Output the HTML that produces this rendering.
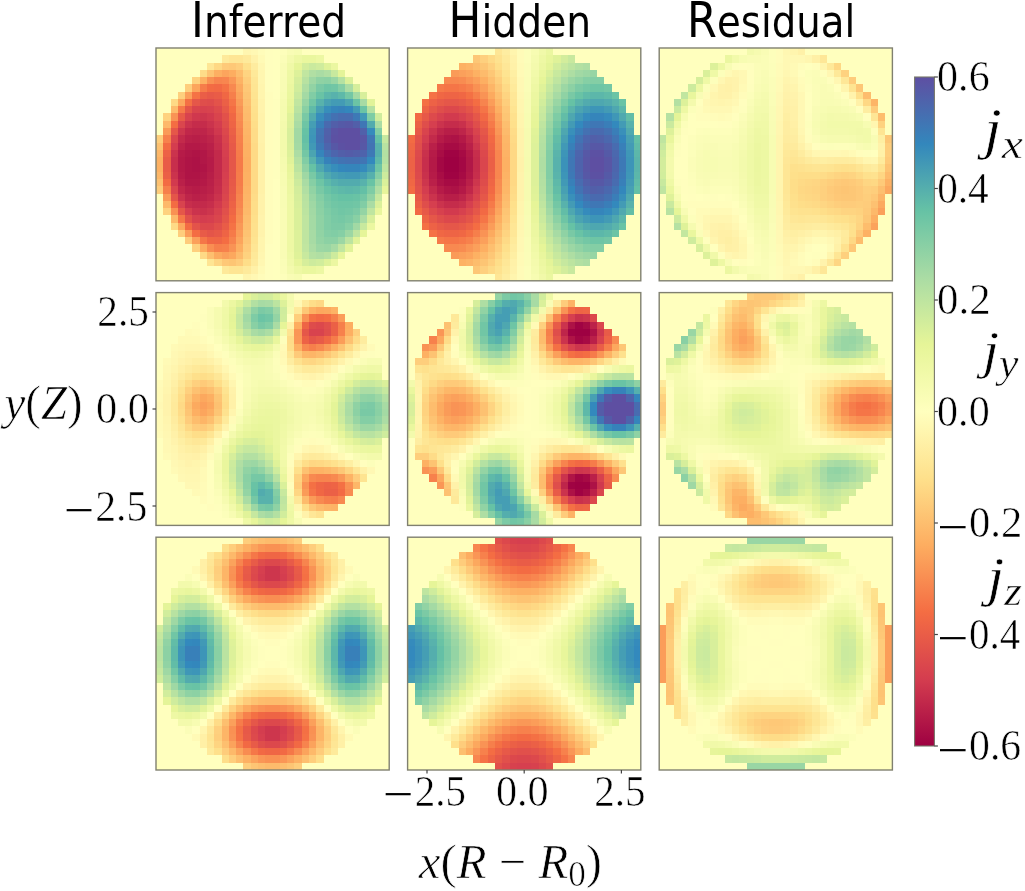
<!DOCTYPE html>
<html><head><meta charset="utf-8"><style>html,body{margin:0;padding:0;background:#fff;overflow:hidden}svg{display:block}#w{filter:blur(0.7px)}</style></head>
<body><div id="w"><svg width="1025" height="891" viewBox="0 0 1025 891">
<rect width="1025" height="891" fill="#fff"/>
<svg x="156.0" y="48.0" width="233.2" height="232.8" viewBox="0 0 32 32" preserveAspectRatio="none" shape-rendering="crispEdges"><rect width="32" height="32" fill="#ffffbe"/><path fill="#fff6b0" d="M12 0h1v1h-1zM14 3h1v1h-1zM14 4h1v1h-1zM14 28h1v1h-1z"/><path fill="#fff8b4" d="M13 0h1v1h-1zM13 31h1v1h-1z"/><path fill="#fffcba" d="M14 0h1v1h-1zM14 31h1v1h-1z"/><path fill="#fffebe" d="M15 0h1v1h-1zM15 1h1v1h-1zM15 2h1v1h-1zM15 3h1v1h-1zM15 4h1v1h-1zM15 5h1v1h-1zM15 27h1v1h-1zM15 28h1v1h-1zM15 29h1v1h-1zM15 30h1v1h-1zM15 31h1v1h-1z"/><path fill="#fdfebb" d="M17 0h1v1h-1zM17 31h1v1h-1z"/><path fill="#f9fcb5" d="M18 0h1v1h-1zM17 2h1v1h-1zM17 3h1v1h-1zM17 22h1v1h-1zM17 23h1v1h-1zM17 24h1v1h-1zM17 25h1v1h-1zM17 26h1v1h-1zM17 27h1v1h-1zM17 28h1v1h-1zM18 31h1v1h-1z"/><path fill="#f7fcb2" d="M19 0h1v1h-1zM17 6h1v1h-1zM17 17h1v1h-1zM17 18h1v1h-1zM19 31h1v1h-1z"/><path fill="#feea9b" d="M9 1h1v1h-1zM12 1h1v1h-1zM12 30h1v1h-1z"/><path fill="#fee695" d="M10 1h2v1h-2zM7 2h1v1h-1zM13 4h1v1h-1zM13 27h1v1h-1z"/><path fill="#fff2aa" d="M13 1h1v1h-1zM14 9h1v1h-1zM14 10h1v1h-1zM14 11h1v1h-1zM14 12h1v1h-1zM14 20h1v1h-1zM14 21h1v1h-1zM14 22h1v1h-1z"/><path fill="#fffab6" d="M14 1h1v1h-1zM14 30h1v1h-1z"/><path fill="#fbfdb8" d="M17 1h1v1h-1zM17 30h1v1h-1z"/><path fill="#f4faad" d="M18 1h1v1h-1zM17 10h1v1h-1zM17 14h1v1h-1zM18 30h1v1h-1z"/><path fill="#eef8a4" d="M19 1h1v1h-1zM18 3h1v1h-1zM18 21h1v1h-1zM18 22h1v1h-1zM18 23h1v1h-1zM18 24h1v1h-1zM18 25h1v1h-1zM18 26h1v1h-1zM18 27h1v1h-1zM19 30h1v1h-1z"/><path fill="#eaf79e" d="M20 1h2v1h-2zM18 6h1v1h-1zM20 30h2v1h-2z"/><path fill="#edf8a3" d="M22 1h1v1h-1zM18 4h1v1h-1zM18 20h1v1h-1zM22 30h1v1h-1z"/><path fill="#fed884" d="M8 2h1v1h-1z"/><path fill="#feca79" d="M9 2h1v1h-1z"/><path fill="#fec877" d="M10 2h1v1h-1zM12 5h1v1h-1zM9 29h1v1h-1z"/><path fill="#fece7c" d="M11 2h1v1h-1zM12 4h1v1h-1zM4 5h1v1h-1zM0 12h1v1h-1zM3 25h1v1h-1z"/><path fill="#fee08b" d="M12 2h1v1h-1zM13 9h1v1h-1zM13 23h1v1h-1z"/><path fill="#feec9f" d="M13 2h1v1h-1z"/><path fill="#fff7b2" d="M14 2h1v1h-1zM14 29h1v1h-1z"/><path fill="#f0f9a7" d="M18 2h1v1h-1z"/><path fill="#e6f598" d="M19 2h1v1h-1zM18 8h1v1h-1zM28 25h1v1h-1z"/><path fill="#d3ed9c" d="M20 2h1v1h-1zM19 19h1v1h-1z"/><path fill="#caea9e" d="M21 2h1v1h-1zM19 6h1v1h-1z"/><path fill="#cfec9d" d="M22 2h1v1h-1zM30 9h1v1h-1z"/><path fill="#dff299" d="M23 2h1v1h-1zM18 9h1v1h-1zM19 28h1v1h-1zM23 29h1v1h-1z"/><path fill="#ebf7a0" d="M24 2h1v1h-1zM18 5h1v1h-1zM18 18h1v1h-1zM29 24h1v1h-1z"/><path fill="#fedc88" d="M6 3h1v1h-1zM13 11h1v1h-1zM13 12h1v1h-1zM13 20h1v1h-1z"/><path fill="#fdc372" d="M7 3h1v1h-1zM12 25h1v1h-1z"/><path fill="#fdaf62" d="M8 3h1v1h-1zM12 15h1v1h-1zM12 16h1v1h-1zM11 27h1v1h-1z"/><path fill="#fca55d" d="M9 3h1v1h-1zM5 5h1v1h-1zM11 26h1v1h-1z"/><path fill="#fdad60" d="M10 3h1v1h-1zM6 27h1v1h-1z"/><path fill="#fdbd6d" d="M11 3h1v1h-1zM12 8h1v1h-1zM12 23h1v1h-1z"/><path fill="#fed481" d="M12 3h1v1h-1z"/><path fill="#fee999" d="M13 3h1v1h-1zM13 28h1v1h-1zM9 30h1v1h-1z"/><path fill="#ddf19a" d="M19 3h1v1h-1zM18 10h1v1h-1zM18 14h1v1h-1zM19 25h1v1h-1zM19 26h1v1h-1zM19 27h1v1h-1z"/><path fill="#c1e6a0" d="M20 3h1v1h-1zM19 7h1v1h-1zM20 27h1v1h-1zM25 27h1v1h-1z"/><path fill="#b1dfa3" d="M21 3h1v1h-1zM23 3h1v1h-1zM19 9h1v1h-1zM20 19h1v1h-1zM30 19h1v1h-1zM22 28h1v1h-1z"/><path fill="#aadca4" d="M22 3h1v1h-1zM26 5h1v1h-1zM19 10h1v1h-1zM30 10h1v1h-1zM20 18h1v1h-1zM29 21h1v1h-1z"/><path fill="#c8e99e" d="M24 3h1v1h-1zM28 24h1v1h-1zM20 28h1v1h-1z"/><path fill="#e4f498" d="M25 3h1v1h-1z"/><path fill="#fed27f" d="M5 4h1v1h-1zM1 9h1v1h-1zM1 22h1v1h-1zM12 28h1v1h-1z"/><path fill="#fdb163" d="M6 4h1v1h-1zM12 13h1v1h-1zM12 14h1v1h-1zM0 15h1v1h-1zM0 16h1v1h-1zM12 17h1v1h-1zM12 18h1v1h-1z"/><path fill="#f99153" d="M7 4h1v1h-1zM2 22h1v1h-1zM11 23h1v1h-1z"/><path fill="#f7844e" d="M8 4h1v1h-1zM11 11h1v1h-1zM11 20h1v1h-1zM10 26h1v1h-1z"/><path fill="#f8864f" d="M9 4h1v1h-1zM11 21h1v1h-1z"/><path fill="#fa9857" d="M10 4h1v1h-1zM11 24h1v1h-1z"/><path fill="#fdb365" d="M11 4h1v1h-1zM12 12h1v1h-1zM12 19h1v1h-1z"/><path fill="#f8fcb4" d="M17 4h1v1h-1zM17 5h1v1h-1zM17 19h1v1h-1zM17 20h1v1h-1zM17 21h1v1h-1z"/><path fill="#d6ee9b" d="M19 4h1v1h-1zM27 5h1v1h-1zM19 20h1v1h-1zM20 29h1v1h-1z"/><path fill="#b8e2a1" d="M20 4h1v1h-1zM31 13h1v1h-1zM20 20h1v1h-1zM23 28h1v1h-1z"/><path fill="#9fd8a4" d="M21 4h1v1h-1zM20 17h1v1h-1zM21 21h1v1h-1z"/><path fill="#8fd2a4" d="M22 4h1v1h-1zM20 16h1v1h-1zM22 23h1v1h-1zM22 24h1v1h-1z"/><path fill="#8cd1a4" d="M23 4h1v1h-1zM22 22h1v1h-1zM23 26h2v1h-2z"/><path fill="#99d6a4" d="M24 4h1v1h-1zM21 20h1v1h-1zM23 27h1v1h-1z"/><path fill="#b5e1a2" d="M25 4h1v1h-1zM29 8h1v1h-1zM19 15h1v1h-1zM31 15h1v1h-1zM21 28h1v1h-1z"/><path fill="#daf09a" d="M26 4h1v1h-1zM18 13h1v1h-1zM31 18h1v1h-1zM30 21h1v1h-1zM19 22h1v1h-1zM19 23h1v1h-1zM19 24h1v1h-1z"/><path fill="#f67c4a" d="M6 5h1v1h-1zM11 14h1v1h-1zM11 17h1v1h-1zM11 18h1v1h-1z"/><path fill="#f36b43" d="M7 5h1v1h-1zM1 13h1v1h-1zM1 18h1v1h-1zM2 21h1v1h-1zM10 23h1v1h-1zM4 24h1v1h-1z"/><path fill="#f26944" d="M8 5h1v1h-1z"/><path fill="#f57245" d="M9 5h1v1h-1zM5 6h1v1h-1zM10 24h1v1h-1z"/><path fill="#f88950" d="M10 5h1v1h-1zM11 10h1v1h-1z"/><path fill="#fcaa5f" d="M11 5h1v1h-1zM3 7h1v1h-1zM8 28h1v1h-1z"/><path fill="#fee593" d="M13 5h1v1h-1zM7 29h1v1h-1zM10 30h2v1h-2z"/><path fill="#fff5ae" d="M14 5h1v1h-1zM14 6h1v1h-1zM14 26h1v1h-1zM14 27h1v1h-1zM12 31h1v1h-1z"/><path fill="#d1ed9c" d="M19 5h1v1h-1zM22 29h1v1h-1z"/><path fill="#aedea3" d="M20 5h1v1h-1z"/><path fill="#91d3a4" d="M21 5h1v1h-1zM21 19h1v1h-1zM29 20h1v1h-1zM22 25h1v1h-1z"/><path fill="#79c9a5" d="M22 5h1v1h-1zM20 9h1v1h-1zM21 17h1v1h-1zM22 19h1v1h-1zM23 21h1v1h-1zM24 23h1v1h-1z"/><path fill="#6ec5a5" d="M23 5h1v1h-1zM20 10h1v1h-1zM30 16h1v1h-1zM22 18h1v1h-1zM25 21h2v1h-2z"/><path fill="#71c6a5" d="M24 5h1v1h-1zM21 7h1v1h-1zM24 21h1v1h-1zM27 21h1v1h-1zM25 22h1v1h-1z"/><path fill="#84cea5" d="M25 5h1v1h-1zM30 17h1v1h-1zM22 20h1v1h-1zM23 25h1v1h-1z"/><path fill="#fed07e" d="M3 6h1v1h-1zM5 27h1v1h-1z"/><path fill="#fba05b" d="M4 6h1v1h-1zM5 26h1v1h-1zM9 28h1v1h-1z"/><path fill="#ea5e47" d="M6 6h1v1h-1zM10 20h1v1h-1z"/><path fill="#e75948" d="M7 6h1v1h-1zM9 8h1v1h-1zM10 13h1v1h-1zM10 18h1v1h-1zM8 25h1v1h-1z"/><path fill="#e95c47" d="M8 6h1v1h-1zM10 12h1v1h-1zM1 15h1v1h-1zM1 16h1v1h-1zM9 24h1v1h-1z"/><path fill="#f06744" d="M9 6h1v1h-1zM10 9h1v1h-1zM7 26h1v1h-1z"/><path fill="#f67f4b" d="M10 6h1v1h-1zM11 13h1v1h-1zM1 19h1v1h-1zM11 19h1v1h-1zM8 27h1v1h-1z"/><path fill="#fba35c" d="M11 6h1v1h-1z"/><path fill="#fdc574" d="M12 6h1v1h-1zM10 29h1v1h-1z"/><path fill="#fee491" d="M13 6h1v1h-1zM13 26h1v1h-1z"/><path fill="#fffdbc" d="M15 6h1v1h-1zM15 7h1v1h-1zM15 8h1v1h-1zM15 9h1v1h-1zM15 10h1v1h-1zM15 11h1v1h-1zM15 12h1v1h-1zM15 13h1v1h-1zM15 14h1v1h-1zM15 15h1v1h-1zM15 16h1v1h-1zM15 17h1v1h-1zM15 18h1v1h-1zM15 19h1v1h-1zM15 20h1v1h-1zM15 21h1v1h-1zM15 22h1v1h-1zM15 23h1v1h-1zM15 24h1v1h-1zM15 25h1v1h-1zM15 26h1v1h-1z"/><path fill="#a4daa4" d="M20 6h1v1h-1zM27 6h1v1h-1zM19 13h1v1h-1zM21 23h1v1h-1zM21 24h1v1h-1z"/><path fill="#81cda5" d="M21 6h1v1h-1zM30 11h1v1h-1zM20 15h1v1h-1zM28 21h1v1h-1zM23 23h1v1h-1zM23 24h1v1h-1zM24 25h1v1h-1z"/><path fill="#69c3a5" d="M22 6h1v1h-1zM20 13h1v1h-1zM29 18h1v1h-1zM23 19h1v1h-1zM27 20h1v1h-1z"/><path fill="#5cb7aa" d="M23 6h1v1h-1zM26 19h1v1h-1z"/><path fill="#58b2ac" d="M24 6h1v1h-1zM22 7h1v1h-1zM30 13h1v1h-1zM21 15h1v1h-1zM28 18h1v1h-1z"/><path fill="#5eb9a9" d="M25 6h1v1h-1zM30 15h1v1h-1zM22 17h1v1h-1zM23 18h1v1h-1zM25 19h1v1h-1zM27 19h1v1h-1z"/><path fill="#74c7a5" d="M26 6h1v1h-1zM20 14h1v1h-1zM23 20h1v1h-1zM28 20h1v1h-1zM26 22h1v1h-1z"/><path fill="#d8ef9b" d="M28 6h1v1h-1zM18 11h1v1h-1zM18 12h1v1h-1zM19 21h1v1h-1zM29 23h1v1h-1z"/><path fill="#feda86" d="M2 7h1v1h-1zM13 13h1v1h-1zM13 14h1v1h-1zM13 15h1v1h-1zM13 16h1v1h-1zM13 17h1v1h-1zM13 18h1v1h-1zM13 19h1v1h-1zM2 24h1v1h-1zM6 28h1v1h-1z"/><path fill="#f47044" d="M4 7h1v1h-1z"/><path fill="#e55749" d="M5 7h1v1h-1zM2 11h1v1h-1zM10 14h1v1h-1zM10 15h1v1h-1zM10 16h1v1h-1zM10 17h1v1h-1zM3 22h1v1h-1z"/><path fill="#df4e4b" d="M6 7h1v1h-1zM9 10h1v1h-1z"/><path fill="#de4c4b" d="M7 7h1v1h-1z"/><path fill="#e3534a" d="M8 7h1v1h-1zM5 24h1v1h-1z"/><path fill="#eb6046" d="M9 7h1v1h-1zM10 11h1v1h-1zM1 17h1v1h-1z"/><path fill="#f57547" d="M10 7h1v1h-1z"/><path fill="#fa9b58" d="M11 7h1v1h-1zM1 11h1v1h-1zM1 20h1v1h-1z"/><path fill="#fdc171" d="M12 7h1v1h-1zM0 13h1v1h-1zM0 18h1v1h-1z"/><path fill="#fee28f" d="M13 7h1v1h-1zM13 25h1v1h-1z"/><path fill="#fff3ac" d="M14 7h1v1h-1zM14 8h1v1h-1zM14 23h1v1h-1zM14 24h1v1h-1zM14 25h1v1h-1z"/><path fill="#fefebd" d="M16 7h1v1h-1zM16 8h1v1h-1zM16 9h1v1h-1zM16 10h1v1h-1zM16 11h1v1h-1zM16 12h1v1h-1zM16 13h1v1h-1zM16 14h1v1h-1zM16 15h1v1h-1zM16 16h1v1h-1zM16 17h1v1h-1z"/><path fill="#f6fbb0" d="M17 7h1v1h-1zM17 16h1v1h-1z"/><path fill="#e8f69b" d="M18 7h1v1h-1z"/><path fill="#97d5a4" d="M20 7h1v1h-1z"/><path fill="#49a2b2" d="M23 7h1v1h-1z"/><path fill="#439bb5" d="M24 7h2v1h-2zM27 8h1v1h-1zM29 16h1v1h-1zM25 17h1v1h-1z"/><path fill="#4ea7b0" d="M26 7h1v1h-1z"/><path fill="#6bc4a5" d="M27 7h1v1h-1zM28 8h1v1h-1zM24 20h1v1h-1z"/><path fill="#a7dba4" d="M28 7h1v1h-1zM21 25h1v1h-1zM21 26h1v1h-1zM24 27h1v1h-1z"/><path fill="#e1f399" d="M29 7h1v1h-1zM18 15h1v1h-1zM27 26h1v1h-1zM26 27h1v1h-1z"/><path fill="#fdbb6c" d="M2 8h1v1h-1zM12 9h1v1h-1zM11 28h1v1h-1z"/><path fill="#f67a49" d="M3 8h1v1h-1zM11 15h1v1h-1zM11 16h1v1h-1zM10 25h1v1h-1z"/><path fill="#e45549" d="M4 8h1v1h-1zM2 20h1v1h-1zM9 23h1v1h-1zM7 25h1v1h-1z"/><path fill="#d9444d" d="M5 8h1v1h-1zM8 9h1v1h-1zM9 12h1v1h-1z"/><path fill="#d7414e" d="M6 8h1v1h-1zM9 13h1v1h-1zM9 18h1v1h-1zM8 22h1v1h-1zM5 23h1v1h-1z"/><path fill="#d8434e" d="M7 8h1v1h-1zM4 9h1v1h-1zM9 19h1v1h-1zM3 21h1v1h-1z"/><path fill="#dd4a4c" d="M8 8h1v1h-1zM9 21h1v1h-1z"/><path fill="#f46d43" d="M10 8h1v1h-1zM2 10h1v1h-1zM5 25h1v1h-1zM9 26h1v1h-1z"/><path fill="#f99355" d="M11 8h1v1h-1zM2 9h1v1h-1zM10 27h1v1h-1z"/><path fill="#fee18d" d="M13 8h1v1h-1zM13 24h1v1h-1z"/><path fill="#f5fbaf" d="M17 8h1v1h-1zM17 9h1v1h-1zM17 15h1v1h-1z"/><path fill="#bae3a1" d="M19 8h1v1h-1zM20 21h1v1h-1z"/><path fill="#89d0a4" d="M20 8h1v1h-1zM22 21h1v1h-1zM27 23h1v1h-1z"/><path fill="#60bba8" d="M21 8h1v1h-1z"/><path fill="#47a0b3" d="M22 8h1v1h-1zM24 17h1v1h-1zM28 17h1v1h-1z"/><path fill="#378ebb" d="M23 8h1v1h-1zM22 9h1v1h-1zM24 16h1v1h-1z"/><path fill="#3585bb" d="M24 8h1v1h-1zM22 14h1v1h-1zM26 16h2v1h-2z"/><path fill="#3682ba" d="M25 8h1v1h-1zM23 15h1v1h-1z"/><path fill="#3387bc" d="M26 8h1v1h-1zM25 16h1v1h-1z"/><path fill="#e85b48" d="M3 9h1v1h-1zM10 19h1v1h-1zM6 25h1v1h-1z"/><path fill="#d0384e" d="M5 9h1v1h-1zM8 11h1v1h-1z"/><path fill="#cd364d" d="M6 9h1v1h-1zM3 11h1v1h-1zM7 22h1v1h-1z"/><path fill="#d23a4e" d="M7 9h1v1h-1zM2 18h1v1h-1zM8 21h1v1h-1z"/><path fill="#e2514a" d="M9 9h1v1h-1zM4 23h1v1h-1z"/><path fill="#f98e52" d="M11 9h1v1h-1zM7 27h1v1h-1z"/><path fill="#52abae" d="M21 9h1v1h-1zM29 10h1v1h-1zM25 18h3v1h-3z"/><path fill="#3b7cb7" d="M23 9h1v1h-1z"/><path fill="#4471b2" d="M24 9h1v1h-1zM23 14h1v1h-1zM26 15h2v1h-2z"/><path fill="#486cb0" d="M25 9h2v1h-2z"/><path fill="#3d79b6" d="M27 9h1v1h-1zM22 13h1v1h-1zM29 14h1v1h-1zM24 15h1v1h-1z"/><path fill="#4199b6" d="M28 9h1v1h-1zM21 13h1v1h-1zM26 17h2v1h-2z"/><path fill="#7ecca5" d="M29 9h1v1h-1zM29 19h1v1h-1zM23 22h1v1h-1z"/><path fill="#fdb96a" d="M1 10h1v1h-1zM1 21h1v1h-1zM12 22h1v1h-1zM2 23h1v1h-1z"/><path fill="#da464d" d="M3 10h1v1h-1zM2 12h1v1h-1zM2 19h1v1h-1zM9 20h1v1h-1zM8 23h1v1h-1z"/><path fill="#cb334d" d="M4 10h1v1h-1zM7 10h1v1h-1zM2 14h1v1h-1zM2 17h1v1h-1zM3 20h1v1h-1zM8 20h1v1h-1zM5 22h1v1h-1z"/><path fill="#c52c4b" d="M5 10h2v1h-2zM7 11h1v1h-1zM8 18h1v1h-1z"/><path fill="#d43d4f" d="M8 10h1v1h-1zM2 13h1v1h-1zM9 15h1v1h-1zM9 16h1v1h-1zM6 23h1v1h-1z"/><path fill="#ee6445" d="M10 10h1v1h-1zM9 25h1v1h-1z"/><path fill="#fdb768" d="M12 10h1v1h-1zM0 14h1v1h-1zM0 17h1v1h-1zM12 21h1v1h-1z"/><path fill="#fede89" d="M13 10h1v1h-1zM13 21h1v1h-1zM13 22h1v1h-1zM12 29h1v1h-1z"/><path fill="#459eb4" d="M21 10h1v1h-1z"/><path fill="#3880b9" d="M22 10h1v1h-1z"/><path fill="#496aaf" d="M23 10h1v1h-1z"/><path fill="#525fa9" d="M24 10h1v1h-1zM27 10h1v1h-1zM23 12h1v1h-1zM25 14h1v1h-1zM27 14h1v1h-1z"/><path fill="#555aa7" d="M25 10h1v1h-1z"/><path fill="#5758a6" d="M26 10h1v1h-1zM24 13h1v1h-1zM28 13h1v1h-1z"/><path fill="#3f77b5" d="M28 10h1v1h-1zM29 12h1v1h-1z"/><path fill="#c1274a" d="M4 11h1v1h-1zM3 19h1v1h-1zM7 20h1v1h-1z"/><path fill="#be254a" d="M5 11h2v1h-2zM7 12h1v1h-1zM4 20h1v1h-1z"/><path fill="#dc484c" d="M9 11h1v1h-1zM6 24h2v1h-2z"/><path fill="#fdb567" d="M12 11h1v1h-1zM12 20h1v1h-1z"/><path fill="#f3faac" d="M17 11h1v1h-1zM17 12h1v1h-1zM17 13h1v1h-1z"/><path fill="#a2d9a4" d="M19 11h1v1h-1zM19 12h1v1h-1zM21 22h1v1h-1zM27 24h1v1h-1z"/><path fill="#66c2a5" d="M20 11h1v1h-1zM21 16h1v1h-1zM25 20h2v1h-2z"/><path fill="#3f97b7" d="M21 11h1v1h-1zM22 15h1v1h-1zM23 16h1v1h-1z"/><path fill="#4175b4" d="M22 11h1v1h-1zM28 15h1v1h-1z"/><path fill="#5061aa" d="M23 11h1v1h-1zM28 11h1v1h-1z"/><path fill="#5b53a4" d="M24 11h1v1h-1z"/><path fill="#5e4fa2" d="M25 11h3v1h-3zM25 12h3v1h-3zM26 13h2v1h-2z"/><path fill="#358bbc" d="M29 11h1v1h-1zM28 16h1v1h-1z"/><path fill="#f7814c" d="M1 12h1v1h-1zM11 12h1v1h-1zM9 27h1v1h-1z"/><path fill="#c32a4b" d="M3 12h1v1h-1zM8 14h1v1h-1zM8 15h1v1h-1zM8 16h1v1h-1zM8 17h1v1h-1zM5 21h2v1h-2z"/><path fill="#ba2049" d="M4 12h1v1h-1zM6 12h1v1h-1zM7 13h1v1h-1zM3 18h1v1h-1zM7 18h1v1h-1zM5 20h1v1h-1z"/><path fill="#b81e48" d="M5 12h1v1h-1zM7 14h1v1h-1zM7 17h1v1h-1zM4 19h1v1h-1zM6 19h1v1h-1z"/><path fill="#c9314c" d="M8 12h1v1h-1zM6 22h1v1h-1z"/><path fill="#64c0a6" d="M20 12h1v1h-1zM30 12h1v1h-1zM28 19h1v1h-1z"/><path fill="#3d95b8" d="M21 12h1v1h-1z"/><path fill="#4273b3" d="M22 12h1v1h-1zM29 13h1v1h-1zM25 15h1v1h-1z"/><path fill="#5c51a3" d="M24 12h1v1h-1zM25 13h1v1h-1z"/><path fill="#5956a5" d="M28 12h1v1h-1z"/><path fill="#c6e89f" d="M31 12h1v1h-1zM19 17h1v1h-1zM30 20h1v1h-1z"/><path fill="#bc2249" d="M3 13h1v1h-1zM7 19h1v1h-1zM6 20h1v1h-1z"/><path fill="#b41947" d="M4 13h2v1h-2zM3 15h1v1h-1zM3 16h1v1h-1zM6 18h1v1h-1z"/><path fill="#b61b48" d="M6 13h1v1h-1zM3 14h1v1h-1zM7 15h1v1h-1zM7 16h1v1h-1zM3 17h1v1h-1zM5 19h1v1h-1z"/><path fill="#c72e4c" d="M8 13h1v1h-1zM2 15h1v1h-1zM2 16h1v1h-1zM8 19h1v1h-1zM4 21h1v1h-1zM7 21h1v1h-1z"/><path fill="#fff1a8" d="M14 13h1v1h-1zM14 14h1v1h-1zM14 15h1v1h-1zM14 16h1v1h-1zM14 17h1v1h-1zM14 18h1v1h-1zM14 19h1v1h-1zM13 30h1v1h-1z"/><path fill="#4d65ad" d="M23 13h1v1h-1zM24 14h1v1h-1z"/><path fill="#ed6246" d="M1 14h1v1h-1zM10 21h1v1h-1z"/><path fill="#b11747" d="M4 14h1v1h-1zM6 14h1v1h-1zM6 15h1v1h-1zM6 17h1v1h-1zM4 18h2v1h-2z"/><path fill="#af1446" d="M5 14h1v1h-1zM4 15h1v1h-1zM4 16h1v1h-1zM6 16h1v1h-1zM4 17h2v1h-2z"/><path fill="#d63f4f" d="M9 14h1v1h-1zM9 17h1v1h-1zM4 22h1v1h-1zM7 23h1v1h-1z"/><path fill="#acdda4" d="M19 14h1v1h-1zM28 23h1v1h-1zM21 27h1v1h-1z"/><path fill="#4ba4b1" d="M21 14h1v1h-1z"/><path fill="#545ca8" d="M26 14h1v1h-1z"/><path fill="#4e63ac" d="M28 14h1v1h-1z"/><path fill="#56b0ad" d="M30 14h1v1h-1zM29 17h1v1h-1zM24 18h1v1h-1z"/><path fill="#b3e0a2" d="M31 14h1v1h-1z"/><path fill="#ad1246" d="M5 15h1v1h-1zM5 16h1v1h-1z"/><path fill="#3389bd" d="M29 15h1v1h-1z"/><path fill="#e7f59a" d="M18 16h1v1h-1zM31 19h1v1h-1zM25 28h1v1h-1zM19 29h1v1h-1z"/><path fill="#bce4a0" d="M19 16h1v1h-1zM20 22h1v1h-1zM26 26h1v1h-1z"/><path fill="#50a9af" d="M22 16h1v1h-1zM23 17h1v1h-1z"/><path fill="#bfe5a0" d="M31 16h1v1h-1zM29 22h1v1h-1zM20 23h1v1h-1zM20 24h1v1h-1zM20 25h1v1h-1zM27 25h1v1h-1zM20 26h1v1h-1z"/><path fill="#e9f69d" d="M18 17h1v1h-1zM30 22h1v1h-1z"/><path fill="#cdeb9d" d="M31 17h1v1h-1zM19 18h1v1h-1zM24 28h1v1h-1zM21 29h1v1h-1z"/><path fill="#86cfa5" d="M21 18h1v1h-1zM26 24h1v1h-1zM25 25h1v1h-1z"/><path fill="#9cd7a4" d="M30 18h1v1h-1zM26 25h1v1h-1zM25 26h1v1h-1zM22 27h1v1h-1z"/><path fill="#fecc7b" d="M0 19h1v1h-1zM4 26h1v1h-1zM12 27h1v1h-1zM11 29h1v1h-1z"/><path fill="#ecf7a1" d="M18 19h1v1h-1zM24 29h1v1h-1z"/><path fill="#62bda7" d="M24 19h1v1h-1z"/><path fill="#e1504b" d="M9 22h1v1h-1zM8 24h1v1h-1z"/><path fill="#ef6645" d="M10 22h1v1h-1zM8 26h1v1h-1z"/><path fill="#f88c51" d="M11 22h1v1h-1z"/><path fill="#76c8a5" d="M24 22h1v1h-1zM25 23h1v1h-1z"/><path fill="#7ccaa5" d="M27 22h1v1h-1zM26 23h1v1h-1zM24 24h2v1h-2z"/><path fill="#94d4a4" d="M28 22h1v1h-1zM22 26h1v1h-1z"/><path fill="#f57748" d="M3 23h1v1h-1zM6 26h1v1h-1z"/><path fill="#fca85e" d="M3 24h1v1h-1zM10 28h1v1h-1z"/><path fill="#fdbf6f" d="M12 24h1v1h-1zM7 28h1v1h-1z"/><path fill="#fb9d59" d="M4 25h1v1h-1zM11 25h1v1h-1z"/><path fill="#fdc776" d="M12 26h1v1h-1z"/><path fill="#eff9a6" d="M18 28h1v1h-1z"/><path fill="#fed683" d="M8 29h1v1h-1z"/><path fill="#feeb9d" d="M13 29h1v1h-1z"/><path fill="#fafdb7" d="M17 29h1v1h-1z"/><path fill="#f1f9a9" d="M18 29h1v1h-1z"/></svg><rect x="156.0" y="48.0" width="233.2" height="232.8" fill="none" stroke="#808070" stroke-width="1.4"/><svg x="407.6" y="48.0" width="233.2" height="232.8" viewBox="0 0 32 32" preserveAspectRatio="none" shape-rendering="crispEdges"><rect width="32" height="32" fill="#ffffbe"/><path fill="#fee695" d="M12 0h1v1h-1zM14 7h1v1h-1zM14 24h1v1h-1zM12 31h1v1h-1z"/><path fill="#feeda1" d="M13 0h1v1h-1zM13 31h1v1h-1z"/><path fill="#fff5ae" d="M14 0h1v1h-1zM15 9h1v1h-1zM15 10h1v1h-1zM15 21h1v1h-1zM15 22h1v1h-1zM14 31h1v1h-1z"/><path fill="#fffbb8" d="M15 0h1v1h-1zM15 1h1v1h-1zM15 30h1v1h-1zM15 31h1v1h-1z"/><path fill="#fcfeba" d="M16 0h1v1h-1zM16 1h1v1h-1zM16 30h1v1h-1zM16 31h1v1h-1z"/><path fill="#f7fcb2" d="M17 0h1v1h-1zM16 9h1v1h-1zM16 10h1v1h-1zM16 21h1v1h-1zM16 22h1v1h-1zM17 31h1v1h-1z"/><path fill="#f1f9a9" d="M18 0h1v1h-1zM18 31h1v1h-1z"/><path fill="#ebf7a0" d="M19 0h1v1h-1zM17 7h1v1h-1zM17 24h1v1h-1zM19 31h1v1h-1z"/><path fill="#fdc776" d="M9 1h1v1h-1zM11 3h1v1h-1zM12 5h1v1h-1zM12 26h1v1h-1zM11 28h1v1h-1zM9 30h1v1h-1z"/><path fill="#fed07e" d="M10 1h1v1h-1zM11 2h1v1h-1zM11 29h1v1h-1zM10 30h1v1h-1z"/><path fill="#feda86" d="M11 1h1v1h-1zM13 5h1v1h-1zM14 12h1v1h-1zM14 19h1v1h-1zM13 26h1v1h-1zM11 30h1v1h-1z"/><path fill="#fee28f" d="M12 1h1v1h-1zM12 30h1v1h-1z"/><path fill="#feea9b" d="M13 1h1v1h-1zM14 5h1v1h-1zM14 26h1v1h-1zM13 30h1v1h-1z"/><path fill="#fff2aa" d="M14 1h1v1h-1zM15 15h1v1h-1zM15 16h1v1h-1zM14 30h1v1h-1z"/><path fill="#f5fbaf" d="M17 1h1v1h-1zM16 15h1v1h-1zM16 16h1v1h-1zM17 30h1v1h-1z"/><path fill="#eef8a4" d="M18 1h1v1h-1zM17 5h1v1h-1zM17 26h1v1h-1zM18 30h1v1h-1z"/><path fill="#e8f69b" d="M19 1h1v1h-1zM19 30h1v1h-1z"/><path fill="#dff299" d="M20 1h1v1h-1zM18 5h1v1h-1zM17 12h1v1h-1zM17 19h1v1h-1zM18 26h1v1h-1zM20 30h1v1h-1z"/><path fill="#d3ed9c" d="M21 1h1v1h-1zM20 2h1v1h-1zM20 29h1v1h-1zM21 30h1v1h-1z"/><path fill="#c8e99e" d="M22 1h1v1h-1zM20 3h1v1h-1zM19 5h1v1h-1zM19 26h1v1h-1zM20 28h1v1h-1zM22 30h1v1h-1z"/><path fill="#fdb163" d="M7 2h1v1h-1zM9 3h1v1h-1zM13 15h1v1h-1zM13 16h1v1h-1zM9 28h1v1h-1zM7 29h1v1h-1z"/><path fill="#fdb567" d="M8 2h1v1h-1zM11 5h1v1h-1zM13 13h1v1h-1zM13 18h1v1h-1zM11 26h1v1h-1zM8 29h1v1h-1z"/><path fill="#fdbd6d" d="M9 2h1v1h-1zM9 29h1v1h-1z"/><path fill="#fdc574" d="M10 2h1v1h-1zM13 9h1v1h-1zM13 22h1v1h-1zM10 29h1v1h-1z"/><path fill="#fede89" d="M12 2h1v1h-1zM12 29h1v1h-1z"/><path fill="#fee797" d="M13 2h1v1h-1zM14 6h1v1h-1zM14 25h1v1h-1zM13 29h1v1h-1z"/><path fill="#fff1a8" d="M14 2h1v1h-1zM14 29h1v1h-1z"/><path fill="#fffab6" d="M15 2h1v1h-1zM15 3h1v1h-1zM15 28h1v1h-1zM15 29h1v1h-1z"/><path fill="#fbfdb8" d="M16 2h1v1h-1zM16 3h1v1h-1zM16 28h1v1h-1zM16 29h1v1h-1z"/><path fill="#f4faad" d="M17 2h1v1h-1zM17 29h1v1h-1z"/><path fill="#ecf7a1" d="M18 2h1v1h-1zM17 6h1v1h-1zM17 25h1v1h-1zM18 29h1v1h-1z"/><path fill="#e4f498" d="M19 2h1v1h-1zM19 29h1v1h-1z"/><path fill="#c6e89f" d="M21 2h1v1h-1zM18 9h1v1h-1zM18 22h1v1h-1zM21 29h1v1h-1z"/><path fill="#bce4a0" d="M22 2h1v1h-1zM22 29h1v1h-1z"/><path fill="#b3e0a2" d="M23 2h1v1h-1zM20 5h1v1h-1zM18 13h1v1h-1zM18 18h1v1h-1zM20 26h1v1h-1zM23 29h1v1h-1z"/><path fill="#aedea3" d="M24 2h1v1h-1zM22 3h1v1h-1zM18 15h1v1h-1zM18 16h1v1h-1zM22 28h1v1h-1zM24 29h1v1h-1z"/><path fill="#fa9b58" d="M6 3h1v1h-1zM6 28h1v1h-1z"/><path fill="#fba05b" d="M7 3h1v1h-1zM9 4h1v1h-1zM10 5h1v1h-1zM10 26h1v1h-1zM9 27h1v1h-1zM7 28h1v1h-1z"/><path fill="#fca55d" d="M8 3h1v1h-1zM12 9h1v1h-1zM12 22h1v1h-1zM8 28h1v1h-1z"/><path fill="#fdbb6c" d="M10 3h1v1h-1zM13 11h1v1h-1zM13 20h1v1h-1zM10 28h1v1h-1z"/><path fill="#fed683" d="M12 3h1v1h-1zM12 28h1v1h-1z"/><path fill="#fee491" d="M13 3h1v1h-1zM14 8h1v1h-1zM14 23h1v1h-1zM13 28h1v1h-1z"/><path fill="#feefa3" d="M14 3h1v1h-1zM14 28h1v1h-1z"/><path fill="#f2faaa" d="M17 3h1v1h-1zM17 28h1v1h-1z"/><path fill="#e9f69d" d="M18 3h1v1h-1zM17 8h1v1h-1zM17 23h1v1h-1zM18 28h1v1h-1z"/><path fill="#daf09a" d="M19 3h1v1h-1zM19 28h1v1h-1z"/><path fill="#bae3a1" d="M21 3h1v1h-1zM18 11h1v1h-1zM18 20h1v1h-1zM21 28h1v1h-1z"/><path fill="#a2d9a4" d="M23 3h1v1h-1zM19 9h1v1h-1zM19 22h1v1h-1zM23 28h1v1h-1z"/><path fill="#9cd7a4" d="M24 3h1v1h-1zM22 4h1v1h-1zM21 5h1v1h-1zM21 26h1v1h-1zM22 27h1v1h-1zM24 28h1v1h-1z"/><path fill="#97d5a4" d="M25 3h1v1h-1zM25 28h1v1h-1z"/><path fill="#f88950" d="M5 4h2v1h-2zM5 27h2v1h-2z"/><path fill="#f88c51" d="M7 4h1v1h-1zM12 13h1v1h-1zM12 18h1v1h-1zM7 27h1v1h-1z"/><path fill="#fa9656" d="M8 4h1v1h-1zM12 11h1v1h-1zM12 20h1v1h-1zM8 27h1v1h-1z"/><path fill="#fdaf62" d="M10 4h1v1h-1zM12 8h1v1h-1zM12 23h1v1h-1zM10 27h1v1h-1z"/><path fill="#fdbf6f" d="M11 4h1v1h-1zM12 6h1v1h-1zM13 10h1v1h-1zM13 21h1v1h-1zM12 25h1v1h-1zM11 27h1v1h-1z"/><path fill="#fece7c" d="M12 4h1v1h-1zM13 7h1v1h-1zM13 24h1v1h-1zM12 27h1v1h-1z"/><path fill="#fee08b" d="M13 4h1v1h-1zM14 10h1v1h-1zM14 21h1v1h-1zM13 27h1v1h-1z"/><path fill="#feec9f" d="M14 4h1v1h-1zM14 27h1v1h-1z"/><path fill="#fff8b4" d="M15 4h1v1h-1zM15 5h1v1h-1zM15 26h1v1h-1zM15 27h1v1h-1z"/><path fill="#fafdb7" d="M16 4h1v1h-1zM16 5h1v1h-1zM16 26h1v1h-1zM16 27h1v1h-1z"/><path fill="#f0f9a7" d="M17 4h1v1h-1zM17 27h1v1h-1z"/><path fill="#e6f598" d="M18 4h1v1h-1zM17 10h1v1h-1zM17 21h1v1h-1zM18 27h1v1h-1z"/><path fill="#d1ed9c" d="M19 4h1v1h-1zM18 7h1v1h-1zM18 24h1v1h-1zM19 27h1v1h-1z"/><path fill="#bfe5a0" d="M20 4h1v1h-1zM19 6h1v1h-1zM18 10h1v1h-1zM18 21h1v1h-1zM19 25h1v1h-1zM20 27h1v1h-1z"/><path fill="#acdda4" d="M21 4h1v1h-1zM19 8h1v1h-1zM19 23h1v1h-1zM21 27h1v1h-1z"/><path fill="#91d3a4" d="M23 4h1v1h-1zM19 11h1v1h-1zM19 20h1v1h-1zM23 27h1v1h-1z"/><path fill="#86cfa5" d="M24 4h1v1h-1zM19 13h1v1h-1zM19 18h1v1h-1zM24 27h1v1h-1z"/><path fill="#84cea5" d="M25 4h2v1h-2zM25 27h2v1h-2z"/><path fill="#f67a49" d="M4 5h1v1h-1zM7 5h1v1h-1zM11 10h1v1h-1zM11 21h1v1h-1zM4 26h1v1h-1zM7 26h1v1h-1z"/><path fill="#f57547" d="M5 5h2v1h-2zM10 8h1v1h-1zM10 23h1v1h-1zM5 26h2v1h-2z"/><path fill="#f7814c" d="M8 5h1v1h-1zM8 26h1v1h-1z"/><path fill="#f99153" d="M9 5h1v1h-1zM11 8h1v1h-1zM11 23h1v1h-1zM9 26h1v1h-1z"/><path fill="#8cd1a4" d="M22 5h1v1h-1zM20 8h1v1h-1zM20 23h1v1h-1zM22 26h1v1h-1z"/><path fill="#7ccaa5" d="M23 5h1v1h-1zM23 26h1v1h-1z"/><path fill="#74c7a5" d="M24 5h1v1h-1zM27 5h1v1h-1zM20 10h1v1h-1zM20 21h1v1h-1zM24 26h1v1h-1zM27 26h1v1h-1z"/><path fill="#6ec5a5" d="M25 5h2v1h-2zM21 8h1v1h-1zM21 23h1v1h-1zM25 26h2v1h-2z"/><path fill="#f57245" d="M3 6h1v1h-1zM3 25h1v1h-1z"/><path fill="#f06744" d="M4 6h1v1h-1zM7 6h1v1h-1zM0 13h1v1h-1zM0 18h1v1h-1zM4 25h1v1h-1zM7 25h1v1h-1z"/><path fill="#ee6445" d="M5 6h2v1h-2zM2 8h1v1h-1zM0 14h1v1h-1zM0 17h1v1h-1zM2 23h1v1h-1zM5 25h2v1h-2z"/><path fill="#f47044" d="M8 6h1v1h-1zM2 7h1v1h-1zM11 11h1v1h-1zM11 20h1v1h-1zM2 24h1v1h-1zM8 25h1v1h-1z"/><path fill="#f67f4b" d="M9 6h1v1h-1zM9 25h1v1h-1z"/><path fill="#f99355" d="M10 6h1v1h-1zM10 25h1v1h-1z"/><path fill="#fcaa5f" d="M11 6h1v1h-1zM11 25h1v1h-1z"/><path fill="#fed481" d="M13 6h1v1h-1zM13 25h1v1h-1z"/><path fill="#fff7b2" d="M15 6h1v1h-1zM15 25h1v1h-1z"/><path fill="#f9fcb5" d="M16 6h1v1h-1zM16 25h1v1h-1z"/><path fill="#d8ef9b" d="M18 6h1v1h-1zM18 25h1v1h-1z"/><path fill="#a7dba4" d="M20 6h1v1h-1zM20 25h1v1h-1z"/><path fill="#8fd2a4" d="M21 6h1v1h-1zM21 25h1v1h-1z"/><path fill="#79c9a5" d="M22 6h1v1h-1zM22 25h1v1h-1z"/><path fill="#69c3a5" d="M23 6h1v1h-1zM29 7h1v1h-1zM20 11h1v1h-1zM20 20h1v1h-1zM29 24h1v1h-1zM23 25h1v1h-1z"/><path fill="#60bba8" d="M24 6h1v1h-1zM27 6h1v1h-1zM31 13h1v1h-1zM31 18h1v1h-1zM24 25h1v1h-1zM27 25h1v1h-1z"/><path fill="#5cb7aa" d="M25 6h2v1h-2zM29 8h1v1h-1zM31 14h1v1h-1zM31 17h1v1h-1zM29 23h1v1h-1zM25 25h2v1h-2z"/><path fill="#6bc4a5" d="M28 6h1v1h-1zM28 25h1v1h-1z"/><path fill="#ed6246" d="M3 7h1v1h-1zM8 7h1v1h-1zM9 8h1v1h-1zM11 14h1v1h-1zM0 15h1v1h-1zM0 16h1v1h-1zM11 17h1v1h-1zM9 23h1v1h-1zM3 24h1v1h-1zM8 24h1v1h-1z"/><path fill="#e85b48" d="M4 7h1v1h-1zM7 7h1v1h-1zM4 24h1v1h-1zM7 24h1v1h-1z"/><path fill="#e55749" d="M5 7h2v1h-2zM3 8h1v1h-1zM9 9h1v1h-1zM10 11h1v1h-1zM10 20h1v1h-1zM9 22h1v1h-1zM3 23h1v1h-1zM5 24h2v1h-2z"/><path fill="#f46d43" d="M9 7h1v1h-1zM9 24h1v1h-1z"/><path fill="#f7844e" d="M10 7h1v1h-1zM11 9h1v1h-1zM11 22h1v1h-1zM10 24h1v1h-1z"/><path fill="#fb9d59" d="M11 7h1v1h-1zM12 10h1v1h-1zM12 21h1v1h-1zM11 24h1v1h-1z"/><path fill="#fdb768" d="M12 7h1v1h-1zM13 12h1v1h-1zM13 19h1v1h-1zM12 24h1v1h-1z"/><path fill="#fff6b0" d="M15 7h1v1h-1zM15 8h1v1h-1zM15 23h1v1h-1zM15 24h1v1h-1z"/><path fill="#f8fcb4" d="M16 7h1v1h-1zM16 8h1v1h-1zM16 23h1v1h-1zM16 24h1v1h-1z"/><path fill="#b5e1a2" d="M19 7h1v1h-1zM18 12h1v1h-1zM18 19h1v1h-1zM19 24h1v1h-1z"/><path fill="#99d6a4" d="M20 7h1v1h-1zM19 10h1v1h-1zM19 21h1v1h-1zM20 24h1v1h-1z"/><path fill="#7ecca5" d="M21 7h1v1h-1zM20 9h1v1h-1zM20 22h1v1h-1zM21 24h1v1h-1z"/><path fill="#66c2a5" d="M22 7h1v1h-1zM22 24h1v1h-1z"/><path fill="#5ab4ab" d="M23 7h1v1h-1zM28 7h1v1h-1zM22 8h1v1h-1zM20 14h1v1h-1zM31 15h1v1h-1zM31 16h1v1h-1zM20 17h1v1h-1zM22 23h1v1h-1zM23 24h1v1h-1zM28 24h1v1h-1z"/><path fill="#52abae" d="M24 7h1v1h-1zM27 7h1v1h-1zM24 24h1v1h-1zM27 24h1v1h-1z"/><path fill="#4ea7b0" d="M25 7h2v1h-2zM28 8h1v1h-1zM22 9h1v1h-1zM21 11h1v1h-1zM21 20h1v1h-1zM22 22h1v1h-1zM28 23h1v1h-1zM25 24h2v1h-2z"/><path fill="#df4e4b" d="M4 8h1v1h-1zM7 8h1v1h-1zM2 10h1v1h-1zM9 10h1v1h-1zM1 13h1v1h-1zM1 18h1v1h-1zM2 21h1v1h-1zM9 21h1v1h-1zM4 23h1v1h-1zM7 23h1v1h-1z"/><path fill="#dc484c" d="M5 8h2v1h-2zM10 14h1v1h-1zM1 15h1v1h-1zM1 16h1v1h-1zM10 17h1v1h-1zM5 23h2v1h-2z"/><path fill="#e45549" d="M8 8h1v1h-1zM8 23h1v1h-1z"/><path fill="#fec877" d="M13 8h1v1h-1zM13 23h1v1h-1z"/><path fill="#caea9e" d="M18 8h1v1h-1zM18 23h1v1h-1z"/><path fill="#4ba4b1" d="M23 8h1v1h-1zM23 23h1v1h-1z"/><path fill="#439bb5" d="M24 8h1v1h-1zM27 8h1v1h-1zM22 10h1v1h-1zM29 10h1v1h-1zM30 13h1v1h-1zM30 18h1v1h-1zM22 21h1v1h-1zM29 21h1v1h-1zM24 23h1v1h-1zM27 23h1v1h-1z"/><path fill="#3d95b8" d="M25 8h2v1h-2zM21 14h1v1h-1zM30 15h1v1h-1zM30 16h1v1h-1zM21 17h1v1h-1zM25 23h2v1h-2z"/><path fill="#f26944" d="M1 9h1v1h-1zM10 9h1v1h-1zM11 12h1v1h-1zM11 19h1v1h-1zM1 22h1v1h-1zM10 22h1v1h-1z"/><path fill="#e75948" d="M2 9h1v1h-1zM1 11h1v1h-1zM1 20h1v1h-1zM2 22h1v1h-1z"/><path fill="#dd4a4c" d="M3 9h1v1h-1zM8 9h1v1h-1zM1 14h1v1h-1zM1 17h1v1h-1zM3 22h1v1h-1zM8 22h1v1h-1z"/><path fill="#d7414e" d="M4 9h1v1h-1zM7 9h1v1h-1zM4 22h1v1h-1zM7 22h1v1h-1z"/><path fill="#d23a4e" d="M5 9h2v1h-2zM5 22h2v1h-2z"/><path fill="#fee18d" d="M14 9h1v1h-1zM14 22h1v1h-1z"/><path fill="#e7f59a" d="M17 9h1v1h-1zM17 22h1v1h-1z"/><path fill="#62bda7" d="M21 9h1v1h-1zM30 9h1v1h-1zM20 12h1v1h-1zM20 19h1v1h-1zM21 22h1v1h-1zM30 22h1v1h-1z"/><path fill="#3f97b7" d="M23 9h1v1h-1zM28 9h1v1h-1zM30 14h1v1h-1zM30 17h1v1h-1zM23 22h1v1h-1zM28 22h1v1h-1z"/><path fill="#358bbc" d="M24 9h1v1h-1zM27 9h1v1h-1zM24 22h1v1h-1zM27 22h1v1h-1z"/><path fill="#3585bb" d="M25 9h2v1h-2zM25 22h2v1h-2z"/><path fill="#50a9af" d="M29 9h1v1h-1zM30 11h1v1h-1zM30 20h1v1h-1zM29 22h1v1h-1z"/><path fill="#eb6046" d="M1 10h1v1h-1zM10 10h1v1h-1zM11 15h1v1h-1zM11 16h1v1h-1zM1 21h1v1h-1zM10 21h1v1h-1z"/><path fill="#d63f4f" d="M3 10h1v1h-1zM8 10h1v1h-1zM3 21h1v1h-1zM8 21h1v1h-1z"/><path fill="#cb334d" d="M4 10h1v1h-1zM3 11h1v1h-1zM8 11h1v1h-1zM3 20h1v1h-1zM8 20h1v1h-1zM4 21h1v1h-1z"/><path fill="#c52c4b" d="M5 10h2v1h-2zM9 15h1v1h-1zM9 16h1v1h-1zM5 21h2v1h-2z"/><path fill="#c9314c" d="M7 10h1v1h-1zM2 14h1v1h-1zM2 17h1v1h-1zM7 21h1v1h-1z"/><path fill="#58b2ac" d="M21 10h1v1h-1zM30 10h1v1h-1zM20 15h1v1h-1zM20 16h1v1h-1zM21 21h1v1h-1zM30 21h1v1h-1z"/><path fill="#3389bd" d="M23 10h1v1h-1zM28 10h1v1h-1zM23 21h1v1h-1zM28 21h1v1h-1z"/><path fill="#3b7cb7" d="M24 10h1v1h-1zM29 14h1v1h-1zM29 17h1v1h-1zM24 21h1v1h-1z"/><path fill="#3f77b5" d="M25 10h2v1h-2zM22 15h1v1h-1zM22 16h1v1h-1zM25 21h2v1h-2z"/><path fill="#3a7eb8" d="M27 10h1v1h-1zM23 11h1v1h-1zM28 11h1v1h-1zM23 20h1v1h-1zM28 20h1v1h-1zM27 21h1v1h-1z"/><path fill="#d9444d" d="M2 11h1v1h-1zM9 11h1v1h-1zM2 20h1v1h-1zM9 20h1v1h-1z"/><path fill="#be254a" d="M4 11h1v1h-1zM7 11h1v1h-1zM4 20h1v1h-1zM7 20h1v1h-1z"/><path fill="#b81e48" d="M5 11h2v1h-2zM5 20h2v1h-2z"/><path fill="#fedc88" d="M14 11h1v1h-1zM14 20h1v1h-1z"/><path fill="#fff3ac" d="M15 11h1v1h-1zM15 12h1v1h-1zM15 13h1v1h-1zM15 14h1v1h-1zM15 17h1v1h-1zM15 18h1v1h-1zM15 19h1v1h-1zM15 20h1v1h-1z"/><path fill="#f6fbb0" d="M16 11h1v1h-1zM16 12h1v1h-1zM16 13h1v1h-1zM16 14h1v1h-1zM16 17h1v1h-1zM16 18h1v1h-1zM16 19h1v1h-1zM16 20h1v1h-1z"/><path fill="#e1f399" d="M17 11h1v1h-1zM17 20h1v1h-1z"/><path fill="#3990ba" d="M22 11h1v1h-1zM29 11h1v1h-1zM22 20h1v1h-1zM29 20h1v1h-1z"/><path fill="#4471b2" d="M24 11h1v1h-1zM27 11h1v1h-1zM24 20h1v1h-1zM27 20h1v1h-1z"/><path fill="#496aaf" d="M25 11h2v1h-2zM25 20h2v1h-2z"/><path fill="#f36b43" d="M0 12h1v1h-1zM0 19h1v1h-1z"/><path fill="#e2514a" d="M1 12h1v1h-1zM10 12h1v1h-1zM1 19h1v1h-1zM10 19h1v1h-1z"/><path fill="#d43d4f" d="M2 12h1v1h-1zM9 12h1v1h-1zM2 19h1v1h-1zM9 19h1v1h-1z"/><path fill="#c32a4b" d="M3 12h1v1h-1zM3 19h1v1h-1z"/><path fill="#b61b48" d="M4 12h1v1h-1zM3 14h1v1h-1zM3 17h1v1h-1zM4 19h1v1h-1z"/><path fill="#af1446" d="M5 12h1v1h-1zM5 19h1v1h-1z"/><path fill="#ad1246" d="M6 12h1v1h-1zM4 13h1v1h-1zM7 13h1v1h-1zM4 18h1v1h-1zM7 18h1v1h-1zM6 19h1v1h-1z"/><path fill="#b41947" d="M7 12h1v1h-1zM8 14h1v1h-1zM3 15h1v1h-1zM3 16h1v1h-1zM8 17h1v1h-1zM7 19h1v1h-1z"/><path fill="#c1274a" d="M8 12h1v1h-1zM8 19h1v1h-1z"/><path fill="#f98e52" d="M12 12h1v1h-1zM12 19h1v1h-1z"/><path fill="#89d0a4" d="M19 12h1v1h-1zM19 19h1v1h-1z"/><path fill="#47a0b3" d="M21 12h1v1h-1zM30 12h1v1h-1zM21 19h1v1h-1zM30 19h1v1h-1z"/><path fill="#3387bc" d="M22 12h1v1h-1zM29 12h1v1h-1zM22 19h1v1h-1zM29 19h1v1h-1z"/><path fill="#4273b3" d="M23 12h1v1h-1zM23 19h1v1h-1z"/><path fill="#4d65ad" d="M24 12h1v1h-1zM23 14h1v1h-1zM28 15h1v1h-1zM28 16h1v1h-1zM23 17h1v1h-1zM24 19h1v1h-1z"/><path fill="#525fa9" d="M25 12h1v1h-1zM24 13h1v1h-1zM27 13h1v1h-1zM24 18h1v1h-1zM27 18h1v1h-1zM25 19h1v1h-1z"/><path fill="#5061aa" d="M26 12h1v1h-1zM26 19h1v1h-1z"/><path fill="#4b68ae" d="M27 12h1v1h-1zM28 14h1v1h-1zM28 17h1v1h-1zM27 19h1v1h-1z"/><path fill="#4175b4" d="M28 12h1v1h-1zM28 19h1v1h-1z"/><path fill="#64c0a6" d="M31 12h1v1h-1zM31 19h1v1h-1z"/><path fill="#cd364d" d="M2 13h1v1h-1zM9 13h1v1h-1zM2 18h1v1h-1zM9 18h1v1h-1z"/><path fill="#ba2049" d="M3 13h1v1h-1zM8 13h1v1h-1zM3 18h1v1h-1zM8 18h1v1h-1z"/><path fill="#a70b44" d="M5 13h2v1h-2zM7 14h1v1h-1zM7 17h1v1h-1zM5 18h2v1h-2z"/><path fill="#de4c4b" d="M10 13h1v1h-1zM10 18h1v1h-1z"/><path fill="#ef6645" d="M11 13h1v1h-1zM11 18h1v1h-1z"/><path fill="#fed884" d="M14 13h1v1h-1zM14 14h1v1h-1zM14 15h1v1h-1zM14 16h1v1h-1zM14 17h1v1h-1zM14 18h1v1h-1z"/><path fill="#ddf19a" d="M17 13h1v1h-1zM17 14h1v1h-1zM17 15h1v1h-1zM17 16h1v1h-1zM17 17h1v1h-1zM17 18h1v1h-1z"/><path fill="#5eb9a9" d="M20 13h1v1h-1zM20 18h1v1h-1z"/><path fill="#4199b6" d="M21 13h1v1h-1zM21 18h1v1h-1z"/><path fill="#3880b9" d="M22 13h1v1h-1zM29 13h1v1h-1zM22 18h1v1h-1zM29 18h1v1h-1z"/><path fill="#486cb0" d="M23 13h1v1h-1zM28 13h1v1h-1zM23 18h1v1h-1zM28 18h1v1h-1z"/><path fill="#5758a6" d="M25 13h2v1h-2zM24 14h1v1h-1zM24 17h1v1h-1zM25 18h2v1h-2z"/><path fill="#a90d45" d="M4 14h1v1h-1zM4 17h1v1h-1z"/><path fill="#a00343" d="M5 14h2v1h-2zM5 17h2v1h-2z"/><path fill="#c72e4c" d="M9 14h1v1h-1zM2 15h1v1h-1zM2 16h1v1h-1zM9 17h1v1h-1z"/><path fill="#f8864f" d="M12 14h1v1h-1zM12 15h1v1h-1zM12 16h1v1h-1zM12 17h1v1h-1z"/><path fill="#fdb365" d="M13 14h1v1h-1zM13 17h1v1h-1z"/><path fill="#b1dfa3" d="M18 14h1v1h-1zM18 17h1v1h-1z"/><path fill="#81cda5" d="M19 14h1v1h-1zM19 15h1v1h-1zM19 16h1v1h-1zM19 17h1v1h-1z"/><path fill="#3d79b6" d="M22 14h1v1h-1zM29 15h1v1h-1zM29 16h1v1h-1zM22 17h1v1h-1z"/><path fill="#5c51a3" d="M25 14h2v1h-2zM25 17h2v1h-2z"/><path fill="#555aa7" d="M27 14h1v1h-1zM27 17h1v1h-1z"/><path fill="#a40844" d="M4 15h1v1h-1zM7 15h1v1h-1zM4 16h1v1h-1zM7 16h1v1h-1z"/><path fill="#9e0142" d="M5 15h2v1h-2zM5 16h2v1h-2z"/><path fill="#b11747" d="M8 15h1v1h-1zM8 16h1v1h-1z"/><path fill="#da464d" d="M10 15h1v1h-1zM10 16h1v1h-1z"/><path fill="#3b92b9" d="M21 15h1v1h-1zM21 16h1v1h-1z"/><path fill="#4e63ac" d="M23 15h1v1h-1zM23 16h1v1h-1z"/><path fill="#5956a5" d="M24 15h1v1h-1zM27 15h1v1h-1zM24 16h1v1h-1zM27 16h1v1h-1z"/><path fill="#5e4fa2" d="M25 15h2v1h-2zM25 16h2v1h-2z"/></svg><rect x="407.6" y="48.0" width="233.2" height="232.8" fill="none" stroke="#808070" stroke-width="1.4"/><svg x="659.2" y="48.0" width="233.2" height="232.8" viewBox="0 0 32 32" preserveAspectRatio="none" shape-rendering="crispEdges"><rect width="32" height="32" fill="#ffffbe"/><path fill="#f3faac" d="M12 0h1v1h-1zM13 8h2v1h-2zM23 9h1v1h-1zM23 11h3v1h-3zM27 12h1v1h-1zM11 15h1v1h-1zM11 16h1v1h-1zM1 17h1v1h-1zM12 20h1v1h-1zM14 23h1v1h-1zM10 30h1v1h-1z"/><path fill="#f6fbb0" d="M13 0h1v1h-1zM23 8h2v1h-2zM12 9h1v1h-1zM2 11h1v1h-1zM11 12h1v1h-1zM23 12h3v1h-3zM11 19h1v1h-1zM4 24h1v1h-1zM13 24h1v1h-1zM14 25h1v1h-1zM13 31h1v1h-1z"/><path fill="#f9fcb5" d="M14 0h1v1h-1zM12 1h2v1h-2zM14 3h1v1h-1zM13 5h1v1h-1zM22 5h1v1h-1zM5 6h1v1h-1zM22 6h2v1h-2zM24 7h1v1h-1zM15 8h1v1h-1zM21 8h1v1h-1zM26 8h1v1h-1zM15 9h1v1h-1zM11 10h1v1h-1zM6 13h2v1h-2zM27 13h1v1h-1zM5 14h1v1h-1zM8 14h2v1h-2zM5 17h1v1h-1zM8 17h2v1h-2zM6 18h1v1h-1zM10 18h1v1h-1zM15 22h1v1h-1zM12 23h1v1h-1zM15 23h1v1h-1zM13 26h1v1h-1zM14 28h1v1h-1zM9 29h1v1h-1zM14 31h1v1h-1z"/><path fill="#fdfebb" d="M15 0h1v1h-1zM15 1h1v1h-1zM7 4h1v1h-1zM20 4h1v1h-1zM10 10h1v1h-1zM20 10h1v1h-1zM5 11h1v1h-1zM7 11h3v1h-3zM29 11h1v1h-1zM4 12h1v1h-1zM2 13h1v1h-1zM22 13h1v1h-1zM24 13h2v1h-2zM4 18h1v1h-1zM3 21h1v1h-1zM11 22h1v1h-1zM4 23h1v1h-1zM12 25h1v1h-1zM15 30h1v1h-1zM15 31h1v1h-1z"/><path fill="#fffcba" d="M16 0h1v1h-1zM16 1h1v1h-1zM19 4h1v1h-1zM11 6h1v1h-1zM10 8h1v1h-1zM7 9h1v1h-1zM9 9h1v1h-1zM5 24h1v1h-1zM19 28h1v1h-1zM19 29h1v1h-1zM21 29h1v1h-1zM16 30h1v1h-1zM16 31h1v1h-1z"/><path fill="#fff7b2" d="M17 0h1v1h-1zM17 3h1v1h-1zM23 3h1v1h-1zM8 4h1v1h-1zM18 4h1v1h-1zM24 4h1v1h-1zM16 8h1v1h-1zM16 9h1v1h-1zM19 11h1v1h-1zM21 14h1v1h-1zM25 14h1v1h-1zM29 15h1v1h-1zM6 23h1v1h-1zM16 23h1v1h-1zM10 24h1v1h-1zM16 24h1v1h-1zM11 26h1v1h-1zM9 28h1v1h-1zM11 28h1v1h-1zM17 29h1v1h-1zM17 31h1v1h-1z"/><path fill="#fff5ae" d="M18 0h1v1h-1zM22 2h1v1h-1zM17 4h1v1h-1zM18 5h1v1h-1zM25 5h1v1h-1zM7 6h1v1h-1zM8 7h1v1h-1zM16 12h1v1h-1zM19 12h1v1h-1zM16 13h1v1h-1zM16 14h1v1h-1zM16 15h1v1h-1zM16 16h1v1h-1zM16 17h1v1h-1zM16 18h1v1h-1zM16 19h1v1h-1zM16 20h1v1h-1zM21 25h2v1h-2zM7 26h1v1h-1zM19 26h1v1h-1zM8 27h1v1h-1zM17 27h2v1h-2zM10 28h1v1h-1zM23 28h1v1h-1zM18 31h1v1h-1z"/><path fill="#fff1a8" d="M19 0h1v1h-1zM9 5h1v1h-1zM17 7h1v1h-1zM27 7h1v1h-1zM18 8h1v1h-1zM18 9h1v1h-1zM19 13h1v1h-1zM30 14h1v1h-1zM27 15h1v1h-1zM10 26h1v1h-1zM18 26h1v1h-1zM10 27h1v1h-1zM24 27h1v1h-1zM19 31h1v1h-1z"/><path fill="#ebf7a0" d="M9 1h1v1h-1zM13 15h1v1h-1zM13 16h1v1h-1z"/><path fill="#f2faaa" d="M10 1h1v1h-1zM13 9h1v1h-1zM23 10h5v1h-5zM12 11h1v1h-1zM26 11h1v1h-1zM28 11h1v1h-1zM28 12h1v1h-1zM1 14h1v1h-1zM13 22h2v1h-2z"/><path fill="#f7fcb2" d="M11 1h1v1h-1zM14 5h1v1h-1zM13 6h1v1h-1zM22 8h1v1h-1zM25 8h1v1h-1zM3 9h1v1h-1zM27 9h1v1h-1zM21 10h1v1h-1zM28 10h1v1h-1zM11 11h1v1h-1zM15 12h1v1h-1zM22 12h1v1h-1zM15 13h1v1h-1zM28 13h1v1h-1zM6 14h1v1h-1zM10 14h1v1h-1zM15 14h1v1h-1zM6 15h2v1h-2zM10 15h1v1h-1zM15 15h1v1h-1zM6 16h2v1h-2zM10 16h1v1h-1zM15 16h1v1h-1zM15 17h1v1h-1zM15 18h1v1h-1zM15 19h1v1h-1zM2 20h1v1h-1zM12 22h1v1h-1zM14 26h1v1h-1z"/><path fill="#fafdb7" d="M14 1h1v1h-1zM14 2h1v1h-1zM13 4h1v1h-1zM21 4h2v1h-2zM23 5h1v1h-1zM15 6h1v1h-1zM12 7h1v1h-1zM15 7h1v1h-1zM2 12h1v1h-1zM6 12h1v1h-1zM10 12h1v1h-1zM5 13h1v1h-1zM8 13h2v1h-2zM29 13h1v1h-1zM5 18h1v1h-1zM7 18h3v1h-3zM10 19h1v1h-1zM11 21h1v1h-1zM15 24h1v1h-1zM15 25h1v1h-1zM14 29h1v1h-1zM12 30h3v1h-3z"/><path fill="#fff8b4" d="M17 1h3v1h-3zM17 2h1v1h-1zM11 3h1v1h-1zM11 4h1v1h-1zM7 5h1v1h-1zM16 6h1v1h-1zM19 6h1v1h-1zM6 7h1v1h-1zM10 7h1v1h-1zM16 7h1v1h-1zM19 7h1v1h-1zM7 8h3v1h-3zM19 8h1v1h-1zM19 9h1v1h-1zM19 10h1v1h-1zM20 13h1v1h-1zM22 14h3v1h-3zM6 25h1v1h-1zM16 25h1v1h-1zM16 26h1v1h-1zM20 26h1v1h-1zM23 26h1v1h-1zM19 27h1v1h-1zM18 28h1v1h-1zM17 30h3v1h-3z"/><path fill="#fff6b0" d="M20 1h1v1h-1zM10 3h1v1h-1zM10 6h1v1h-1zM7 7h1v1h-1zM9 7h1v1h-1zM16 10h1v1h-1zM29 10h1v1h-1zM16 11h1v1h-1zM28 15h1v1h-1zM16 21h1v1h-1zM16 22h1v1h-1zM7 23h3v1h-3zM6 24h1v1h-1zM11 27h1v1h-1zM17 28h1v1h-1zM20 30h1v1h-1z"/><path fill="#fff0a6" d="M21 1h1v1h-1zM17 8h1v1h-1zM18 10h1v1h-1zM8 25h2v1h-2zM17 25h1v1h-1zM19 25h1v1h-1zM24 25h1v1h-1zM8 26h1v1h-1zM9 27h1v1h-1zM21 30h1v1h-1z"/><path fill="#fee797" d="M22 1h1v1h-1zM25 4h1v1h-1zM18 14h1v1h-1zM17 15h1v1h-1zM19 15h1v1h-1zM17 20h1v1h-1zM18 23h1v1h-1zM20 23h2v1h-2zM23 29h1v1h-1zM22 30h1v1h-1z"/><path fill="#ddf19a" d="M7 2h1v1h-1zM3 7h1v1h-1zM1 11h1v1h-1zM6 28h1v1h-1z"/><path fill="#edf8a3" d="M8 2h1v1h-1zM5 5h1v1h-1zM13 12h1v1h-1zM14 14h1v1h-1zM14 15h1v1h-1zM14 16h1v1h-1zM14 17h1v1h-1zM13 19h1v1h-1z"/><path fill="#f8fcb4" d="M9 2h1v1h-1zM14 4h1v1h-1zM22 7h2v1h-2zM12 8h1v1h-1zM21 9h1v1h-1zM15 10h1v1h-1zM15 11h1v1h-1zM21 11h1v1h-1zM29 12h1v1h-1zM10 13h1v1h-1zM7 14h1v1h-1zM5 15h1v1h-1zM8 15h2v1h-2zM5 16h1v1h-1zM8 16h2v1h-2zM6 17h2v1h-2zM10 17h1v1h-1zM11 20h1v1h-1zM15 20h1v1h-1zM15 21h1v1h-1zM3 22h1v1h-1zM13 25h1v1h-1zM14 27h1v1h-1zM11 30h1v1h-1z"/><path fill="#fefebd" d="M10 2h1v1h-1zM12 2h1v1h-1zM22 3h1v1h-1zM23 4h1v1h-1zM12 5h1v1h-1zM20 5h1v1h-1zM11 8h1v1h-1zM20 9h1v1h-1zM3 11h1v1h-1zM20 11h1v1h-1zM2 14h1v1h-1zM28 14h1v1h-1zM2 18h1v1h-1zM4 19h1v1h-1zM6 20h2v1h-2zM9 20h1v1h-1zM6 26h1v1h-1zM8 28h1v1h-1zM21 28h1v1h-1z"/><path fill="#fffebe" d="M11 2h1v1h-1zM12 3h1v1h-1zM19 3h1v1h-1zM12 4h1v1h-1zM25 6h1v1h-1zM11 7h1v1h-1zM26 7h1v1h-1zM27 8h1v1h-1zM10 9h1v1h-1zM28 9h1v1h-1zM8 10h2v1h-2zM21 13h1v1h-1zM3 18h1v1h-1zM3 19h1v1h-1zM4 20h1v1h-1zM4 22h1v1h-1zM22 28h1v1h-1zM10 29h1v1h-1zM20 29h1v1h-1z"/><path fill="#fbfdb8" d="M13 2h1v1h-1zM13 3h1v1h-1zM21 3h1v1h-1zM15 4h1v1h-1zM15 5h1v1h-1zM21 5h1v1h-1zM21 6h1v1h-1zM24 6h1v1h-1zM21 7h1v1h-1zM25 7h1v1h-1zM11 9h1v1h-1zM10 11h1v1h-1zM5 12h1v1h-1zM7 12h3v1h-3zM21 12h1v1h-1zM4 15h1v1h-1zM4 16h1v1h-1zM2 19h1v1h-1zM6 19h1v1h-1zM12 24h1v1h-1zM5 25h1v1h-1zM15 26h1v1h-1zM13 27h1v1h-1zM15 27h1v1h-1z"/><path fill="#fcfeba" d="M15 2h1v1h-1zM8 3h1v1h-1zM15 3h1v1h-1zM20 3h1v1h-1zM6 5h1v1h-1zM12 6h1v1h-1zM4 8h1v1h-1zM3 10h1v1h-1zM6 11h1v1h-1zM4 13h1v1h-1zM23 13h1v1h-1zM26 13h1v1h-1zM4 14h1v1h-1zM4 17h1v1h-1zM5 19h1v1h-1zM7 19h3v1h-3zM10 20h1v1h-1zM13 28h1v1h-1zM15 28h1v1h-1zM13 29h1v1h-1zM15 29h1v1h-1z"/><path fill="#fffbb8" d="M16 2h1v1h-1zM16 3h1v1h-1zM19 5h1v1h-1zM6 6h1v1h-1zM8 9h1v1h-1zM5 22h2v1h-2zM5 23h1v1h-1zM21 26h2v1h-2zM23 27h1v1h-1zM16 28h1v1h-1zM16 29h1v1h-1z"/><path fill="#fffab6" d="M18 2h1v1h-1zM9 3h1v1h-1zM18 3h1v1h-1zM16 4h1v1h-1zM11 5h1v1h-1zM16 5h1v1h-1zM6 8h1v1h-1zM26 14h1v1h-1zM7 22h3v1h-3zM10 23h1v1h-1zM11 25h1v1h-1zM16 27h1v1h-1zM18 29h1v1h-1z"/><path fill="#fffdbc" d="M19 2h1v1h-1zM21 2h1v1h-1zM5 8h1v1h-1zM5 9h2v1h-2zM20 12h1v1h-1zM27 14h1v1h-1zM4 21h6v1h-6zM10 22h1v1h-1zM11 24h1v1h-1zM12 27h1v1h-1zM20 27h1v1h-1zM12 28h1v1h-1zM11 29h1v1h-1z"/><path fill="#fee999" d="M23 2h1v1h-1zM24 3h1v1h-1zM17 14h1v1h-1zM17 21h1v1h-1zM24 24h1v1h-1z"/><path fill="#fed884" d="M24 2h1v1h-1zM28 7h1v1h-1zM23 17h1v1h-1zM20 18h1v1h-1zM29 18h1v1h-1zM19 19h1v1h-1zM20 20h1v1h-1zM24 22h1v1h-1zM26 26h1v1h-1z"/><path fill="#daf09a" d="M6 3h1v1h-1z"/><path fill="#eff9a6" d="M7 3h1v1h-1zM6 4h1v1h-1zM2 10h1v1h-1zM14 11h1v1h-1zM1 13h1v1h-1zM12 14h1v1h-1zM12 15h1v1h-1zM12 16h1v1h-1zM12 17h1v1h-1zM1 18h1v1h-1zM13 20h2v1h-2zM5 26h1v1h-1z"/><path fill="#fed27f" d="M25 3h1v1h-1zM30 10h1v1h-1zM25 17h1v1h-1zM22 18h1v1h-1zM23 21h1v1h-1zM27 22h1v1h-1z"/><path fill="#d6ee9b" d="M5 4h1v1h-1z"/><path fill="#fff2aa" d="M9 4h1v1h-1zM8 5h1v1h-1zM8 6h2v1h-2zM17 6h1v1h-1zM18 7h1v1h-1zM30 13h1v1h-1zM20 14h1v1h-1zM8 24h1v1h-1zM7 25h1v1h-1zM20 25h1v1h-1zM23 25h1v1h-1zM17 26h1v1h-1z"/><path fill="#fff3ac" d="M10 4h1v1h-1zM10 5h1v1h-1zM17 5h1v1h-1zM18 6h1v1h-1zM26 6h1v1h-1zM7 24h1v1h-1zM9 24h1v1h-1zM10 25h1v1h-1zM24 26h1v1h-1zM22 29h1v1h-1z"/><path fill="#fecc7b" d="M26 4h1v1h-1zM29 8h1v1h-1zM23 20h1v1h-1zM25 21h2v1h-2zM28 21h1v1h-1z"/><path fill="#cdeb9d" d="M4 5h1v1h-1zM2 23h1v1h-1z"/><path fill="#fee491" d="M26 5h1v1h-1zM20 16h1v1h-1zM23 16h1v1h-1zM18 22h1v1h-1zM23 23h1v1h-1z"/><path fill="#fdc776" d="M27 5h1v1h-1zM31 12h1v1h-1zM24 19h1v1h-1zM26 19h1v1h-1zM25 20h2v1h-2zM28 23h1v1h-1z"/><path fill="#c1e6a0" d="M3 6h1v1h-1z"/><path fill="#e9f69d" d="M4 6h1v1h-1zM1 12h1v1h-1z"/><path fill="#f5fbaf" d="M14 6h1v1h-1zM13 7h1v1h-1zM22 9h1v1h-1zM26 9h1v1h-1zM26 12h1v1h-1zM11 13h1v1h-1zM11 18h1v1h-1zM12 21h1v1h-1z"/><path fill="#fee08b" d="M27 6h1v1h-1zM25 16h1v1h-1zM18 17h1v1h-1zM18 20h1v1h-1zM25 23h1v1h-1z"/><path fill="#fdbd6d" d="M28 6h1v1h-1zM30 9h1v1h-1zM28 24h1v1h-1zM27 26h1v1h-1z"/><path fill="#b3e0a2" d="M2 7h1v1h-1z"/><path fill="#f4faad" d="M4 7h1v1h-1zM14 7h1v1h-1zM24 9h2v1h-2zM12 10h1v1h-1zM22 10h1v1h-1zM22 11h1v1h-1zM11 14h1v1h-1zM1 15h1v1h-1zM1 16h1v1h-1zM11 17h1v1h-1zM13 23h1v1h-1zM14 24h1v1h-1zM12 31h1v1h-1z"/><path fill="#fdb567" d="M29 7h1v1h-1zM30 20h1v1h-1z"/><path fill="#caea9e" d="M2 8h1v1h-1zM1 10h1v1h-1zM1 21h1v1h-1z"/><path fill="#eef8a4" d="M3 8h1v1h-1zM13 11h1v1h-1zM14 12h1v1h-1zM14 13h1v1h-1zM14 18h1v1h-1zM14 19h1v1h-1zM8 29h1v1h-1z"/><path fill="#feeda1" d="M28 8h1v1h-1zM17 10h1v1h-1zM17 11h1v1h-1zM18 12h1v1h-1zM21 15h1v1h-1zM23 15h1v1h-1zM26 15h1v1h-1zM17 24h1v1h-1zM21 24h2v1h-2z"/><path fill="#b5e1a2" d="M1 9h1v1h-1zM2 24h1v1h-1z"/><path fill="#e4f498" d="M2 9h1v1h-1z"/><path fill="#f1f9a9" d="M14 9h1v1h-1zM27 11h1v1h-1zM12 12h1v1h-1zM12 19h1v1h-1zM6 27h1v1h-1zM7 28h1v1h-1z"/><path fill="#feefa3" d="M17 9h1v1h-1zM18 11h1v1h-1zM30 12h1v1h-1zM22 15h1v1h-1zM18 25h1v1h-1zM9 26h1v1h-1z"/><path fill="#fee695" d="M29 9h1v1h-1zM17 16h1v1h-1zM17 17h1v1h-1zM17 18h1v1h-1zM17 19h1v1h-1zM19 23h1v1h-1zM22 23h1v1h-1zM25 24h1v1h-1zM24 28h1v1h-1z"/><path fill="#f0f9a7" d="M13 10h2v1h-2zM12 13h1v1h-1zM12 18h1v1h-1zM2 21h1v1h-1zM13 21h2v1h-2zM3 23h1v1h-1z"/><path fill="#fee593" d="M30 11h1v1h-1zM18 15h1v1h-1zM21 16h2v1h-2zM27 16h1v1h-1z"/><path fill="#bfe5a0" d="M0 12h1v1h-1zM0 19h1v1h-1z"/><path fill="#feec9f" d="M17 12h1v1h-1zM19 14h1v1h-1zM24 15h2v1h-2zM29 16h1v1h-1zM17 23h1v1h-1zM20 24h1v1h-1z"/><path fill="#c8e99e" d="M0 13h1v1h-1zM0 18h1v1h-1z"/><path fill="#ecf7a1" d="M13 13h1v1h-1zM13 14h1v1h-1zM13 17h1v1h-1zM13 18h1v1h-1zM9 30h1v1h-1z"/><path fill="#feea9b" d="M17 13h1v1h-1zM28 16h1v1h-1zM17 22h1v1h-1zM25 26h1v1h-1z"/><path fill="#feeb9d" d="M18 13h1v1h-1zM20 15h1v1h-1zM30 15h1v1h-1zM18 24h2v1h-2zM23 24h1v1h-1zM25 25h1v1h-1z"/><path fill="#fece7c" d="M31 13h1v1h-1zM31 14h1v1h-1zM23 18h1v1h-1zM27 18h1v1h-1zM29 19h1v1h-1zM28 20h1v1h-1zM24 21h1v1h-1zM27 21h1v1h-1z"/><path fill="#cfec9d" d="M0 14h1v1h-1zM4 26h1v1h-1z"/><path fill="#d3ed9c" d="M0 15h1v1h-1zM0 16h1v1h-1z"/><path fill="#feca79" d="M31 15h1v1h-1zM24 18h1v1h-1zM26 18h1v1h-1zM30 18h1v1h-1zM23 19h1v1h-1zM27 19h1v1h-1zM27 20h1v1h-1zM28 22h1v1h-1zM27 25h1v1h-1z"/><path fill="#fee18d" d="M18 16h1v1h-1zM24 16h1v1h-1zM26 16h1v1h-1zM28 17h1v1h-1zM18 21h1v1h-1zM21 22h1v1h-1zM24 23h1v1h-1zM26 24h1v1h-1zM26 25h1v1h-1z"/><path fill="#fee28f" d="M19 16h1v1h-1zM30 16h1v1h-1zM29 17h1v1h-1zM19 22h2v1h-2zM25 27h1v1h-1z"/><path fill="#fdc372" d="M31 16h1v1h-1z"/><path fill="#d1ed9c" d="M0 17h1v1h-1z"/><path fill="#fede89" d="M19 17h3v1h-3zM18 18h1v1h-1zM18 19h1v1h-1zM19 21h1v1h-1zM22 22h1v1h-1z"/><path fill="#fedc88" d="M22 17h1v1h-1zM20 21h1v1h-1zM26 23h1v1h-1z"/><path fill="#fed481" d="M24 17h1v1h-1zM26 17h1v1h-1zM21 19h1v1h-1zM25 22h2v1h-2zM27 24h1v1h-1z"/><path fill="#feda86" d="M27 17h1v1h-1zM19 18h1v1h-1zM19 20h1v1h-1zM21 21h1v1h-1zM23 22h1v1h-1z"/><path fill="#fed683" d="M30 17h1v1h-1zM21 18h1v1h-1zM28 18h1v1h-1zM20 19h1v1h-1zM21 20h1v1h-1zM22 21h1v1h-1zM27 23h1v1h-1zM24 29h1v1h-1z"/><path fill="#fdbb6c" d="M31 17h1v1h-1z"/><path fill="#fec877" d="M25 18h1v1h-1zM24 20h1v1h-1zM29 20h1v1h-1zM26 27h1v1h-1z"/><path fill="#fdb163" d="M31 18h1v1h-1zM28 25h1v1h-1z"/><path fill="#eaf79e" d="M1 19h1v1h-1zM4 25h1v1h-1z"/><path fill="#fed07e" d="M22 19h1v1h-1zM28 19h1v1h-1zM22 20h1v1h-1zM25 28h1v1h-1z"/><path fill="#fdc574" d="M25 19h1v1h-1z"/><path fill="#fdbf6f" d="M30 19h1v1h-1z"/><path fill="#fca85e" d="M31 19h1v1h-1z"/><path fill="#dff299" d="M1 20h1v1h-1zM3 24h1v1h-1zM7 29h1v1h-1z"/><path fill="#fdc171" d="M29 21h1v1h-1z"/><path fill="#fcaa5f" d="M30 21h1v1h-1z"/><path fill="#b8e2a1" d="M1 22h1v1h-1z"/><path fill="#e6f598" d="M2 22h1v1h-1z"/><path fill="#fdb96a" d="M29 22h1v1h-1z"/><path fill="#fba05b" d="M30 22h1v1h-1z"/><path fill="#fdaf62" d="M29 23h1v1h-1z"/><path fill="#fba35c" d="M29 24h1v1h-1z"/><path fill="#c3e79f" d="M3 25h1v1h-1z"/><path fill="#d8ef9b" d="M5 27h1v1h-1z"/></svg><rect x="659.2" y="48.0" width="233.2" height="232.8" fill="none" stroke="#808070" stroke-width="1.4"/><svg x="156.0" y="292.6" width="233.2" height="232.8" viewBox="0 0 32 32" preserveAspectRatio="none" shape-rendering="crispEdges"><rect width="32" height="32" fill="#ffffbe"/><path fill="#e6f598" d="M12 0h1v1h-1zM10 4h1v1h-1zM17 4h1v1h-1zM28 11h1v1h-1zM15 20h1v1h-1zM10 27h1v1h-1zM17 31h1v1h-1z"/><path fill="#daf09a" d="M13 0h1v1h-1zM31 12h1v1h-1zM25 18h1v1h-1zM30 20h1v1h-1zM17 26h1v1h-1z"/><path fill="#d1ed9c" d="M14 0h1v1h-1zM17 3h1v1h-1zM15 22h1v1h-1zM17 30h1v1h-1zM15 31h1v1h-1z"/><path fill="#d3ed9c" d="M15 0h1v1h-1zM15 6h1v1h-1zM27 12h1v1h-1zM25 14h1v1h-1zM29 20h1v1h-1zM11 28h1v1h-1z"/><path fill="#dff299" d="M16 0h1v1h-1zM27 20h1v1h-1zM15 21h1v1h-1zM16 23h1v1h-1z"/><path fill="#ebf7a0" d="M17 0h1v1h-1zM15 16h1v1h-1zM16 17h1v1h-1zM16 18h1v1h-1zM24 18h1v1h-1zM16 19h1v1h-1zM16 20h1v1h-1zM28 21h1v1h-1zM30 21h1v1h-1zM9 22h1v1h-1zM9 25h1v1h-1z"/><path fill="#f5fbaf" d="M18 0h1v1h-1zM9 6h1v1h-1zM16 7h1v1h-1zM11 8h1v1h-1zM13 9h1v1h-1zM14 12h1v1h-1zM24 12h1v1h-1zM13 13h1v1h-1zM18 14h1v1h-1zM22 15h1v1h-1zM19 16h1v1h-1zM19 17h1v1h-1zM22 17h1v1h-1zM18 19h1v1h-1zM28 22h1v1h-1zM8 24h1v1h-1z"/><path fill="#f3faac" d="M9 1h1v1h-1zM18 1h1v1h-1zM17 5h1v1h-1zM14 13h2v1h-2zM13 14h1v1h-1zM17 14h1v1h-1zM18 15h1v1h-1zM18 18h1v1h-1zM23 18h1v1h-1zM26 21h1v1h-1zM29 22h2v1h-2z"/><path fill="#ecf7a1" d="M10 1h1v1h-1zM15 7h1v1h-1zM14 16h1v1h-1zM16 16h1v1h-1zM13 17h1v1h-1zM12 18h1v1h-1zM11 19h1v1h-1zM10 20h1v1h-1zM10 28h1v1h-1z"/><path fill="#e1f399" d="M11 1h1v1h-1zM11 20h1v1h-1zM12 30h1v1h-1z"/><path fill="#caea9e" d="M12 1h1v1h-1zM16 5h1v1h-1zM14 6h1v1h-1zM28 12h1v1h-1zM25 15h1v1h-1zM10 24h1v1h-1z"/><path fill="#b3e0a2" d="M13 1h1v1h-1zM31 14h1v1h-1zM12 22h2v1h-2zM16 30h1v1h-1z"/><path fill="#a7dba4" d="M14 1h1v1h-1zM31 15h1v1h-1zM30 18h1v1h-1z"/><path fill="#aadca4" d="M15 1h1v1h-1zM12 4h1v1h-1zM16 4h1v1h-1zM13 5h1v1h-1zM26 16h1v1h-1zM14 23h1v1h-1zM12 28h1v1h-1z"/><path fill="#bce4a0" d="M16 1h1v1h-1zM31 18h1v1h-1z"/><path fill="#ddf19a" d="M17 1h1v1h-1zM14 20h1v1h-1z"/><path fill="#fff8b4" d="M19 1h1v1h-1zM3 7h1v1h-1zM6 7h1v1h-1zM2 8h1v1h-1zM17 8h1v1h-1zM1 10h1v1h-1zM0 15h1v1h-1zM1 20h1v1h-1zM1 21h1v1h-1zM2 23h1v1h-1zM29 24h1v1h-1zM3 25h1v1h-1zM4 26h2v1h-2z"/><path fill="#fee999" d="M20 1h1v1h-1zM5 10h1v1h-1zM6 20h1v1h-1z"/><path fill="#fede89" d="M21 1h1v1h-1zM18 7h1v1h-1zM6 11h1v1h-1zM8 12h1v1h-1zM3 14h1v1h-1zM9 15h1v1h-1zM5 19h2v1h-2zM20 23h1v1h-1zM20 29h1v1h-1z"/><path fill="#fed884" d="M22 1h1v1h-1zM20 9h1v1h-1zM4 18h1v1h-1zM22 23h1v1h-1z"/><path fill="#fbfdb8" d="M7 2h1v1h-1zM7 3h1v1h-1zM7 4h1v1h-1zM8 6h1v1h-1zM16 8h1v1h-1zM19 13h1v1h-1zM22 13h1v1h-1zM8 27h1v1h-1zM18 27h1v1h-1z"/><path fill="#f6fbb0" d="M8 2h1v1h-1zM18 2h1v1h-1zM8 3h1v1h-1zM8 4h1v1h-1zM12 9h1v1h-1zM14 9h1v1h-1zM15 12h1v1h-1zM17 13h1v1h-1zM23 13h1v1h-1zM12 15h1v1h-1zM19 15h1v1h-1zM19 18h1v1h-1zM8 23h1v1h-1zM9 28h1v1h-1z"/><path fill="#f0f9a7" d="M9 2h1v1h-1zM13 8h1v1h-1zM30 10h1v1h-1zM26 11h1v1h-1zM14 14h2v1h-2zM17 15h1v1h-1zM12 17h1v1h-1zM23 17h1v1h-1zM17 19h1v1h-1zM25 20h1v1h-1zM9 21h1v1h-1z"/><path fill="#e7f59a" d="M10 2h1v1h-1zM11 6h1v1h-1zM30 11h1v1h-1zM24 17h1v1h-1zM12 19h1v1h-1zM11 29h1v1h-1zM13 31h1v1h-1z"/><path fill="#cfec9d" d="M11 2h1v1h-1zM17 2h1v1h-1zM30 12h1v1h-1zM31 19h1v1h-1zM11 21h1v1h-1zM14 21h1v1h-1zM16 24h1v1h-1zM10 25h1v1h-1z"/><path fill="#aedea3" d="M12 2h1v1h-1z"/><path fill="#8fd2a4" d="M13 2h1v1h-1zM29 14h1v1h-1zM27 15h1v1h-1zM15 25h1v1h-1zM16 29h1v1h-1z"/><path fill="#7ccaa5" d="M14 2h1v1h-1zM29 15h1v1h-1zM16 28h1v1h-1z"/><path fill="#81cda5" d="M15 2h1v1h-1zM15 4h1v1h-1z"/><path fill="#9fd8a4" d="M16 2h1v1h-1zM12 23h1v1h-1z"/><path fill="#feea9b" d="M19 2h1v1h-1zM27 7h1v1h-1zM24 9h1v1h-1zM7 10h1v1h-1zM20 10h2v1h-2zM9 12h1v1h-1zM2 15h1v1h-1zM2 16h1v1h-1zM9 17h1v1h-1zM3 19h1v1h-1zM4 20h1v1h-1zM21 22h1v1h-1z"/><path fill="#fdc776" d="M20 2h1v1h-1zM23 8h1v1h-1zM4 14h1v1h-1zM25 24h1v1h-1zM21 29h1v1h-1z"/><path fill="#fdb163" d="M21 2h1v1h-1zM19 7h1v1h-1z"/><path fill="#fca85e" d="M22 2h1v1h-1zM6 14h1v1h-1zM7 15h1v1h-1z"/><path fill="#fcaa5f" d="M23 2h1v1h-1zM5 15h1v1h-1z"/><path fill="#fdb365" d="M24 2h1v1h-1zM5 14h1v1h-1zM21 24h2v1h-2zM26 25h1v1h-1zM24 29h1v1h-1z"/><path fill="#fefebd" d="M6 3h1v1h-1zM9 8h1v1h-1zM29 8h1v1h-1zM27 9h1v1h-1zM11 11h1v1h-1zM17 11h1v1h-1zM8 29h1v1h-1z"/><path fill="#eff9a6" d="M9 3h1v1h-1zM9 4h1v1h-1zM10 6h1v1h-1zM11 7h1v1h-1zM29 10h1v1h-1zM23 15h1v1h-1zM17 18h1v1h-1zM18 29h1v1h-1zM11 30h1v1h-1zM12 31h1v1h-1zM18 31h1v1h-1z"/><path fill="#e4f498" d="M10 3h1v1h-1zM29 11h1v1h-1zM26 12h1v1h-1zM25 13h1v1h-1zM24 15h1v1h-1zM24 16h1v1h-1zM13 19h2v1h-2zM10 21h1v1h-1z"/><path fill="#c6e89f" d="M11 3h1v1h-1zM31 13h1v1h-1zM12 21h2v1h-2zM12 29h1v1h-1zM13 30h1v1h-1z"/><path fill="#a2d9a4" d="M12 3h1v1h-1zM14 5h1v1h-1zM27 14h1v1h-1z"/><path fill="#7ecca5" d="M13 3h1v1h-1zM28 15h1v1h-1z"/><path fill="#6bc4a5" d="M14 3h1v1h-1zM15 26h1v1h-1z"/><path fill="#71c6a5" d="M15 3h1v1h-1z"/><path fill="#94d4a4" d="M16 3h1v1h-1zM12 27h1v1h-1z"/><path fill="#fece7c" d="M19 3h1v1h-1zM8 13h1v1h-1z"/><path fill="#f99355" d="M20 3h1v1h-1zM20 26h1v1h-1z"/><path fill="#f47044" d="M21 3h1v1h-1zM21 26h1v1h-1zM25 26h1v1h-1z"/><path fill="#f26944" d="M22 3h1v1h-1z"/><path fill="#f46d43" d="M23 3h1v1h-1z"/><path fill="#f67f4b" d="M24 3h1v1h-1zM25 4h1v1h-1zM21 7h1v1h-1zM23 28h1v1h-1z"/><path fill="#fb9d59" d="M25 3h1v1h-1zM25 6h1v1h-1z"/><path fill="#fffdbc" d="M5 4h1v1h-1zM28 8h1v1h-1zM10 10h1v1h-1zM17 10h1v1h-1zM20 20h1v1h-1zM22 20h1v1h-1zM19 21h1v1h-1zM18 23h1v1h-1zM18 26h1v1h-1zM7 29h1v1h-1z"/><path fill="#c8e99e" d="M11 4h1v1h-1zM29 12h1v1h-1zM25 16h1v1h-1zM17 27h1v1h-1z"/><path fill="#89d0a4" d="M13 4h1v1h-1zM30 16h1v1h-1zM12 25h1v1h-1z"/><path fill="#79c9a5" d="M14 4h1v1h-1zM28 16h2v1h-2zM14 29h1v1h-1z"/><path fill="#fff1a8" d="M18 4h1v1h-1zM4 9h1v1h-1zM7 9h1v1h-1zM23 10h1v1h-1zM9 11h1v1h-1zM10 14h1v1h-1zM10 15h1v1h-1zM2 19h1v1h-1zM8 19h1v1h-1zM3 21h1v1h-1zM5 22h1v1h-1zM28 24h1v1h-1z"/><path fill="#fdad60" d="M19 4h1v1h-1zM26 4h1v1h-1z"/><path fill="#ee6445" d="M20 4h1v1h-1zM24 26h1v1h-1z"/><path fill="#de4c4b" d="M21 4h1v1h-1z"/><path fill="#dc484c" d="M22 4h1v1h-1z"/><path fill="#e1504b" d="M23 4h1v1h-1z"/><path fill="#eb6046" d="M24 4h1v1h-1zM24 5h1v1h-1zM23 27h2v1h-2z"/><path fill="#fffbb8" d="M4 5h1v1h-1zM7 7h1v1h-1zM29 7h1v1h-1zM23 11h1v1h-1zM0 12h1v1h-1zM10 17h1v1h-1zM0 19h1v1h-1zM18 24h1v1h-1zM6 26h1v1h-1zM6 27h1v1h-1z"/><path fill="#fffcba" d="M5 5h1v1h-1zM6 6h1v1h-1zM8 8h1v1h-1zM9 9h1v1h-1zM18 11h1v1h-1zM20 12h2v1h-2zM8 20h1v1h-1zM21 20h1v1h-1zM7 22h1v1h-1zM6 28h1v1h-1z"/><path fill="#fffebe" d="M6 5h1v1h-1zM25 10h1v1h-1zM19 12h1v1h-1zM22 12h1v1h-1zM11 13h1v1h-1zM11 14h1v1h-1zM9 19h1v1h-1zM28 23h1v1h-1zM7 27h1v1h-1zM7 28h1v1h-1z"/><path fill="#fdfebb" d="M7 5h1v1h-1zM17 6h1v1h-1zM10 9h1v1h-1zM16 9h1v1h-1zM24 11h1v1h-1zM18 12h1v1h-1zM20 13h2v1h-2zM21 19h1v1h-1zM19 20h1v1h-1zM23 20h1v1h-1zM18 22h1v1h-1zM8 28h1v1h-1zM19 30h1v1h-1z"/><path fill="#f8fcb4" d="M8 5h1v1h-1zM15 9h1v1h-1zM15 11h1v1h-1zM12 14h1v1h-1zM19 14h1v1h-1zM11 17h1v1h-1zM21 17h1v1h-1zM22 18h1v1h-1zM8 22h1v1h-1zM8 26h1v1h-1zM19 31h1v1h-1z"/><path fill="#f2faaa" d="M9 5h1v1h-1zM12 8h1v1h-1zM18 16h1v1h-1zM11 18h1v1h-1zM17 21h1v1h-1zM17 22h1v1h-1zM9 27h1v1h-1zM10 29h1v1h-1z"/><path fill="#e9f69d" d="M10 5h1v1h-1zM16 6h1v1h-1zM24 14h1v1h-1zM13 18h1v1h-1zM15 18h1v1h-1zM26 20h1v1h-1zM9 23h1v1h-1zM9 24h1v1h-1zM17 25h1v1h-1z"/><path fill="#d6ee9b" d="M11 5h1v1h-1zM26 19h1v1h-1zM13 20h1v1h-1zM28 20h1v1h-1zM10 22h1v1h-1zM16 31h1v1h-1z"/><path fill="#bfe5a0" d="M12 5h1v1h-1zM11 22h1v1h-1zM14 22h1v1h-1zM17 28h1v1h-1z"/><path fill="#acdda4" d="M15 5h1v1h-1zM28 13h2v1h-2zM26 15h1v1h-1zM31 17h1v1h-1zM27 18h1v1h-1zM11 24h1v1h-1zM15 24h1v1h-1zM11 25h1v1h-1zM14 30h1v1h-1z"/><path fill="#fee491" d="M18 5h1v1h-1zM23 9h1v1h-1zM9 13h1v1h-1zM4 19h1v1h-1zM28 25h1v1h-1z"/><path fill="#fa9656" d="M19 5h1v1h-1z"/><path fill="#e55749" d="M20 5h1v1h-1z"/><path fill="#d8434e" d="M21 5h2v1h-2z"/><path fill="#df4e4b" d="M23 5h1v1h-1z"/><path fill="#f7814c" d="M25 5h1v1h-1z"/><path fill="#fdaf62" d="M26 5h1v1h-1zM24 7h1v1h-1zM7 14h1v1h-1zM5 16h1v1h-1zM7 16h1v1h-1z"/><path fill="#fed07e" d="M27 5h1v1h-1zM5 12h1v1h-1zM7 12h1v1h-1zM4 13h1v1h-1z"/><path fill="#fffab6" d="M3 6h3v1h-3zM2 7h1v1h-1zM17 7h1v1h-1zM1 9h1v1h-1zM17 9h1v1h-1zM26 9h1v1h-1zM10 11h1v1h-1zM0 13h1v1h-1zM0 14h1v1h-1zM0 16h1v1h-1zM0 17h1v1h-1zM0 18h1v1h-1zM23 21h1v1h-1zM1 22h1v1h-1zM25 22h1v1h-1zM2 24h1v1h-1zM6 24h1v1h-1zM6 25h1v1h-1zM18 25h1v1h-1zM5 27h1v1h-1z"/><path fill="#d8ef9b" d="M12 6h1v1h-1zM12 20h1v1h-1zM10 26h1v1h-1zM14 31h1v1h-1z"/><path fill="#cdeb9d" d="M13 6h1v1h-1zM26 13h1v1h-1zM25 17h1v1h-1zM10 23h1v1h-1z"/><path fill="#fedc88" d="M18 6h1v1h-1zM27 6h1v1h-1zM22 9h1v1h-1zM4 12h1v1h-1zM3 16h1v1h-1zM23 23h1v1h-1z"/><path fill="#fa9857" d="M19 6h1v1h-1zM25 25h1v1h-1z"/><path fill="#ed6246" d="M20 6h1v1h-1zM23 26h1v1h-1z"/><path fill="#e45549" d="M21 6h1v1h-1z"/><path fill="#e85b48" d="M22 6h1v1h-1z"/><path fill="#f06744" d="M23 6h1v1h-1zM22 27h1v1h-1z"/><path fill="#f67c4a" d="M24 6h1v1h-1zM24 28h1v1h-1z"/><path fill="#fdc171" d="M26 6h1v1h-1zM5 13h1v1h-1zM4 15h1v1h-1zM8 15h1v1h-1zM20 24h1v1h-1z"/><path fill="#feec9f" d="M28 6h1v1h-1zM26 8h1v1h-1zM4 10h1v1h-1zM22 10h1v1h-1zM3 11h1v1h-1zM2 17h1v1h-1zM20 22h1v1h-1z"/><path fill="#fff7b2" d="M4 7h2v1h-2zM7 8h1v1h-1zM2 9h1v1h-1zM9 10h1v1h-1zM24 10h1v1h-1zM1 11h1v1h-1zM19 11h1v1h-1zM1 19h1v1h-1zM7 21h1v1h-1zM20 21h1v1h-1zM2 22h1v1h-1zM6 23h1v1h-1zM27 23h1v1h-1zM3 24h1v1h-1zM4 25h2v1h-2z"/><path fill="#fafdb7" d="M9 7h1v1h-1zM28 9h1v1h-1zM26 10h1v1h-1zM12 11h1v1h-1zM16 11h1v1h-1zM12 12h1v1h-1zM17 12h1v1h-1zM20 14h1v1h-1zM21 18h1v1h-1zM18 21h1v1h-1zM9 29h1v1h-1z"/><path fill="#f4faad" d="M10 7h1v1h-1zM15 8h1v1h-1zM27 10h1v1h-1zM16 13h1v1h-1zM12 16h1v1h-1zM22 16h1v1h-1zM10 19h1v1h-1zM18 28h1v1h-1z"/><path fill="#eaf79e" d="M12 7h1v1h-1zM27 11h1v1h-1zM14 17h2v1h-2zM16 21h1v1h-1zM29 21h1v1h-1z"/><path fill="#e8f69b" d="M13 7h2v1h-2zM14 18h1v1h-1zM15 19h1v1h-1zM25 19h1v1h-1zM16 22h1v1h-1z"/><path fill="#f88950" d="M20 7h1v1h-1zM22 7h1v1h-1zM21 25h1v1h-1zM24 25h1v1h-1zM22 28h1v1h-1zM25 28h1v1h-1z"/><path fill="#fa9b58" d="M23 7h1v1h-1zM20 27h1v1h-1zM21 28h1v1h-1z"/><path fill="#fdc372" d="M25 7h1v1h-1z"/><path fill="#feda86" d="M26 7h1v1h-1zM3 15h1v1h-1z"/><path fill="#fff3ac" d="M28 7h1v1h-1zM4 8h3v1h-3zM3 9h1v1h-1zM21 11h1v1h-1zM1 14h1v1h-1zM1 15h1v1h-1zM1 16h1v1h-1zM9 18h1v1h-1zM2 20h1v1h-1zM3 22h1v1h-1zM24 22h1v1h-1zM4 23h1v1h-1z"/><path fill="#fff6b0" d="M3 8h1v1h-1zM27 8h1v1h-1zM8 9h1v1h-1zM18 10h1v1h-1zM22 11h1v1h-1zM1 12h1v1h-1zM10 12h1v1h-1zM1 18h1v1h-1zM2 21h1v1h-1zM22 21h1v1h-1zM3 23h1v1h-1zM4 24h2v1h-2zM19 29h1v1h-1z"/><path fill="#f9fcb5" d="M10 8h1v1h-1zM11 9h1v1h-1zM12 10h1v1h-1zM15 10h1v1h-1zM12 13h1v1h-1zM18 13h1v1h-1zM21 14h1v1h-1zM20 18h1v1h-1zM19 19h1v1h-1zM25 21h1v1h-1zM27 22h1v1h-1z"/><path fill="#f1f9a9" d="M14 8h1v1h-1zM28 10h1v1h-1zM16 14h1v1h-1zM23 14h1v1h-1zM13 15h1v1h-1zM18 17h1v1h-1zM24 19h1v1h-1zM17 20h1v1h-1zM17 23h1v1h-1z"/><path fill="#fee695" d="M18 8h1v1h-1zM4 11h1v1h-1zM3 18h1v1h-1zM27 24h1v1h-1z"/><path fill="#feca79" d="M19 8h1v1h-1zM6 12h1v1h-1zM6 18h1v1h-1z"/><path fill="#fdb768" d="M20 8h1v1h-1zM23 24h1v1h-1zM27 26h1v1h-1z"/><path fill="#fdb567" d="M21 8h1v1h-1zM6 17h1v1h-1zM23 29h1v1h-1z"/><path fill="#fdbb6c" d="M22 8h1v1h-1zM20 28h1v1h-1zM22 29h1v1h-1z"/><path fill="#fed481" d="M24 8h1v1h-1zM8 17h1v1h-1z"/><path fill="#fee28f" d="M25 8h1v1h-1zM19 9h1v1h-1zM3 13h1v1h-1zM9 16h1v1h-1zM22 30h1v1h-1z"/><path fill="#feefa3" d="M5 9h2v1h-2zM19 10h1v1h-1zM2 18h1v1h-1zM3 20h1v1h-1zM4 21h1v1h-1zM23 22h1v1h-1zM26 23h1v1h-1z"/><path fill="#feeda1" d="M18 9h1v1h-1zM2 13h1v1h-1zM5 21h1v1h-1z"/><path fill="#fed683" d="M21 9h1v1h-1zM21 23h1v1h-1zM26 24h1v1h-1zM19 27h1v1h-1z"/><path fill="#fff2aa" d="M25 9h1v1h-1zM2 11h1v1h-1zM10 13h1v1h-1zM4 22h1v1h-1zM20 30h1v1h-1z"/><path fill="#f7fcb2" d="M29 9h2v1h-2zM13 10h2v1h-2zM13 11h2v1h-2zM25 11h1v1h-1zM13 12h1v1h-1zM16 12h1v1h-1zM22 14h1v1h-1zM20 15h2v1h-2zM20 16h2v1h-2zM20 17h1v1h-1zM23 19h1v1h-1zM9 20h1v1h-1zM18 20h1v1h-1zM24 20h1v1h-1zM8 25h1v1h-1zM10 30h1v1h-1z"/><path fill="#fff5ae" d="M2 10h1v1h-1zM20 11h1v1h-1zM1 13h1v1h-1zM10 16h1v1h-1zM1 17h1v1h-1zM21 21h1v1h-1zM6 22h1v1h-1zM19 22h1v1h-1zM5 23h1v1h-1z"/><path fill="#fff0a6" d="M3 10h1v1h-1zM8 10h1v1h-1zM2 12h1v1h-1zM7 20h1v1h-1zM6 21h1v1h-1z"/><path fill="#fee797" d="M6 10h1v1h-1zM8 11h1v1h-1zM3 12h1v1h-1zM5 20h1v1h-1zM25 23h1v1h-1zM19 28h1v1h-1zM21 30h1v1h-1z"/><path fill="#fcfeba" d="M11 10h1v1h-1zM16 10h1v1h-1zM23 12h1v1h-1zM11 16h1v1h-1zM10 18h1v1h-1zM20 19h1v1h-1zM22 19h1v1h-1zM8 21h1v1h-1zM29 23h1v1h-1zM9 30h1v1h-1z"/><path fill="#fee08b" d="M5 11h1v1h-1zM9 14h1v1h-1zM19 24h1v1h-1z"/><path fill="#fee18d" d="M7 11h1v1h-1zM3 17h1v1h-1zM24 23h1v1h-1z"/><path fill="#edf8a3" d="M25 12h1v1h-1zM15 15h1v1h-1zM18 30h1v1h-1z"/><path fill="#fdb96a" d="M6 13h1v1h-1z"/><path fill="#fdbf6f" d="M7 13h1v1h-1zM7 17h1v1h-1z"/><path fill="#eef8a4" d="M24 13h1v1h-1zM14 15h1v1h-1zM16 15h1v1h-1zM13 16h1v1h-1zM17 16h1v1h-1zM23 16h1v1h-1zM17 17h1v1h-1zM27 21h1v1h-1zM17 24h1v1h-1zM9 26h1v1h-1z"/><path fill="#b8e2a1" d="M27 13h1v1h-1zM26 14h1v1h-1zM29 19h1v1h-1zM16 25h1v1h-1z"/><path fill="#b5e1a2" d="M30 13h1v1h-1zM11 26h1v1h-1z"/><path fill="#feeb9d" d="M2 14h1v1h-1zM22 22h1v1h-1zM19 23h1v1h-1z"/><path fill="#fdc574" d="M8 14h1v1h-1zM4 16h1v1h-1zM8 16h1v1h-1z"/><path fill="#91d3a4" d="M28 14h1v1h-1zM30 17h1v1h-1zM12 24h1v1h-1zM14 24h1v1h-1z"/><path fill="#9cd7a4" d="M30 14h1v1h-1zM28 18h2v1h-2zM13 23h1v1h-1zM16 26h1v1h-1zM13 29h1v1h-1z"/><path fill="#fba05b" d="M6 15h1v1h-1z"/><path fill="#8cd1a4" d="M30 15h1v1h-1zM27 16h1v1h-1zM12 26h1v1h-1z"/><path fill="#fca55d" d="M6 16h1v1h-1zM20 25h1v1h-1z"/><path fill="#a4daa4" d="M31 16h1v1h-1zM15 30h1v1h-1z"/><path fill="#fecc7b" d="M4 17h1v1h-1zM5 18h1v1h-1zM27 25h1v1h-1zM19 26h1v1h-1z"/><path fill="#fdbd6d" d="M5 17h1v1h-1zM24 24h1v1h-1z"/><path fill="#b1dfa3" d="M26 17h1v1h-1zM11 23h1v1h-1z"/><path fill="#97d5a4" d="M27 17h1v1h-1z"/><path fill="#84cea5" d="M28 17h2v1h-2zM16 27h1v1h-1z"/><path fill="#fed27f" d="M7 18h1v1h-1zM19 25h1v1h-1z"/><path fill="#fee593" d="M8 18h1v1h-1zM7 19h1v1h-1z"/><path fill="#c1e6a0" d="M26 18h1v1h-1zM30 19h1v1h-1zM15 23h1v1h-1zM11 27h1v1h-1z"/><path fill="#c3e79f" d="M27 19h1v1h-1zM17 29h1v1h-1z"/><path fill="#bae3a1" d="M28 19h1v1h-1z"/><path fill="#86cfa5" d="M13 24h1v1h-1z"/><path fill="#76c8a5" d="M13 25h2v1h-2zM13 28h1v1h-1z"/><path fill="#f7844e" d="M22 25h2v1h-2z"/><path fill="#69c3a5" d="M13 26h1v1h-1z"/><path fill="#5eb9a9" d="M14 26h1v1h-1z"/><path fill="#ef6645" d="M22 26h1v1h-1z"/><path fill="#f99153" d="M26 26h1v1h-1z"/><path fill="#66c2a5" d="M13 27h1v1h-1z"/><path fill="#52abae" d="M14 27h1v1h-1z"/><path fill="#58b2ac" d="M15 27h1v1h-1zM14 28h2v1h-2z"/><path fill="#f57547" d="M21 27h1v1h-1z"/><path fill="#f36b43" d="M25 27h1v1h-1z"/><path fill="#f88c51" d="M26 27h1v1h-1z"/><path fill="#74c7a5" d="M15 29h1v1h-1z"/></svg><rect x="156.0" y="292.6" width="233.2" height="232.8" fill="none" stroke="#808070" stroke-width="1.4"/><svg x="407.6" y="292.6" width="233.2" height="232.8" viewBox="0 0 32 32" preserveAspectRatio="none" shape-rendering="crispEdges"><rect width="32" height="32" fill="#ffffbe"/><path fill="#94d4a4" d="M12 0h1v1h-1zM10 7h1v1h-1zM23 15h1v1h-1zM23 16h1v1h-1zM10 24h1v1h-1zM12 31h1v1h-1z"/><path fill="#7ccaa5" d="M13 0h1v1h-1zM10 3h1v1h-1zM10 6h1v1h-1zM10 25h1v1h-1zM10 28h1v1h-1zM13 31h1v1h-1z"/><path fill="#71c6a5" d="M14 0h1v1h-1zM10 4h1v1h-1zM10 5h1v1h-1zM10 26h1v1h-1zM10 27h1v1h-1zM14 31h1v1h-1z"/><path fill="#76c8a5" d="M15 0h1v1h-1zM16 1h1v1h-1zM27 12h1v1h-1zM30 12h1v1h-1zM27 19h1v1h-1zM30 19h1v1h-1zM16 30h1v1h-1zM15 31h1v1h-1z"/><path fill="#89d0a4" d="M16 0h1v1h-1zM13 7h1v1h-1zM13 24h1v1h-1zM16 31h1v1h-1z"/><path fill="#aadca4" d="M17 0h1v1h-1zM9 6h1v1h-1zM9 25h1v1h-1zM17 31h1v1h-1z"/><path fill="#d1ed9c" d="M18 0h1v1h-1zM15 6h1v1h-1zM9 8h1v1h-1zM9 23h1v1h-1zM15 25h1v1h-1zM18 31h1v1h-1z"/><path fill="#eff9a6" d="M19 0h1v1h-1zM14 10h1v1h-1zM20 15h1v1h-1zM20 16h1v1h-1zM14 21h1v1h-1zM19 31h1v1h-1z"/><path fill="#d6ee9b" d="M9 1h1v1h-1zM8 6h1v1h-1zM8 25h1v1h-1zM9 30h1v1h-1z"/><path fill="#aedea3" d="M10 1h1v1h-1zM13 8h1v1h-1zM25 12h1v1h-1zM25 19h1v1h-1zM13 23h1v1h-1zM10 30h1v1h-1z"/><path fill="#86cfa5" d="M11 1h1v1h-1zM15 3h1v1h-1zM15 28h1v1h-1zM11 30h1v1h-1z"/><path fill="#64c0a6" d="M12 1h1v1h-1zM12 30h1v1h-1z"/><path fill="#54aead" d="M13 1h1v1h-1zM13 30h1v1h-1z"/><path fill="#50a9af" d="M14 1h1v1h-1zM11 4h1v1h-1zM11 27h1v1h-1zM14 30h1v1h-1z"/><path fill="#5ab4ab" d="M15 1h1v1h-1zM14 3h1v1h-1zM14 28h1v1h-1zM15 30h1v1h-1z"/><path fill="#a7dba4" d="M17 1h1v1h-1zM23 14h1v1h-1zM23 17h1v1h-1zM17 30h1v1h-1z"/><path fill="#daf09a" d="M18 1h1v1h-1zM18 30h1v1h-1z"/><path fill="#f9fcb5" d="M19 1h1v1h-1zM16 7h1v1h-1zM11 11h1v1h-1zM11 20h1v1h-1zM16 24h1v1h-1zM19 30h1v1h-1z"/><path fill="#feeb9d" d="M20 1h1v1h-1zM6 4h1v1h-1zM11 13h1v1h-1zM11 18h1v1h-1zM6 27h1v1h-1zM20 30h1v1h-1z"/><path fill="#fecc7b" d="M21 1h1v1h-1zM28 8h1v1h-1zM3 13h1v1h-1zM3 18h1v1h-1zM28 23h1v1h-1zM21 30h1v1h-1z"/><path fill="#fdb365" d="M22 1h1v1h-1zM27 8h1v1h-1zM4 14h1v1h-1zM4 17h1v1h-1zM27 23h1v1h-1zM22 30h1v1h-1z"/><path fill="#fdfebb" d="M7 2h1v1h-1zM16 10h1v1h-1zM16 11h1v1h-1zM14 12h2v1h-2zM18 13h1v1h-1zM18 18h1v1h-1zM14 19h2v1h-2zM16 20h1v1h-1zM16 21h1v1h-1zM7 29h1v1h-1z"/><path fill="#eaf79e" d="M8 2h1v1h-1zM9 9h1v1h-1zM11 10h1v1h-1zM13 10h1v1h-1zM0 13h1v1h-1zM0 18h1v1h-1zM11 21h1v1h-1zM13 21h1v1h-1zM9 22h1v1h-1zM8 29h1v1h-1z"/><path fill="#c1e6a0" d="M9 2h1v1h-1zM16 3h1v1h-1zM15 5h1v1h-1zM23 13h1v1h-1zM22 15h1v1h-1zM22 16h1v1h-1zM23 18h1v1h-1zM15 26h1v1h-1zM16 28h1v1h-1zM9 29h1v1h-1z"/><path fill="#91d3a4" d="M10 2h1v1h-1zM16 2h1v1h-1zM10 29h1v1h-1zM16 29h1v1h-1z"/><path fill="#66c2a5" d="M11 2h1v1h-1zM11 29h1v1h-1z"/><path fill="#4ea7b0" d="M12 2h1v1h-1zM13 4h1v1h-1zM26 13h1v1h-1zM26 18h1v1h-1zM13 27h1v1h-1zM12 29h1v1h-1z"/><path fill="#459eb4" d="M13 2h1v1h-1zM12 3h2v1h-2zM12 28h2v1h-2zM13 29h1v1h-1z"/><path fill="#4ba4b1" d="M14 2h1v1h-1zM14 29h1v1h-1z"/><path fill="#62bda7" d="M15 2h1v1h-1zM15 29h1v1h-1z"/><path fill="#caea9e" d="M17 2h1v1h-1zM14 8h1v1h-1zM14 23h1v1h-1zM17 29h1v1h-1z"/><path fill="#f4faad" d="M18 2h1v1h-1zM18 29h1v1h-1z"/><path fill="#feec9f" d="M19 2h1v1h-1zM17 5h1v1h-1zM17 7h1v1h-1zM6 10h1v1h-1zM8 11h1v1h-1zM8 20h1v1h-1zM6 21h1v1h-1zM17 24h1v1h-1zM17 26h1v1h-1zM19 29h1v1h-1z"/><path fill="#fdc372" d="M20 2h1v1h-1zM3 8h1v1h-1zM8 13h1v1h-1zM3 14h1v1h-1zM3 17h1v1h-1zM8 18h1v1h-1zM3 23h1v1h-1zM20 29h1v1h-1z"/><path fill="#f99355" d="M21 2h1v1h-1zM19 4h1v1h-1zM2 7h1v1h-1zM6 15h1v1h-1zM6 16h1v1h-1zM2 24h1v1h-1zM19 27h1v1h-1zM21 29h1v1h-1z"/><path fill="#f47044" d="M22 2h1v1h-1zM20 7h1v1h-1zM22 8h1v1h-1zM22 23h1v1h-1zM20 24h1v1h-1zM22 29h1v1h-1z"/><path fill="#ee6445" d="M23 2h1v1h-1zM23 29h1v1h-1z"/><path fill="#ef6645" d="M24 2h1v1h-1zM24 29h1v1h-1z"/><path fill="#fee999" d="M6 3h1v1h-1zM4 9h1v1h-1zM18 9h1v1h-1zM5 10h1v1h-1zM20 10h1v1h-1zM5 21h1v1h-1zM20 21h1v1h-1zM4 22h1v1h-1zM18 22h1v1h-1zM6 28h1v1h-1z"/><path fill="#fbfdb8" d="M7 3h1v1h-1zM16 8h1v1h-1zM18 14h1v1h-1zM18 15h1v1h-1zM18 16h1v1h-1zM18 17h1v1h-1zM16 23h1v1h-1zM7 28h1v1h-1z"/><path fill="#e1f399" d="M8 3h1v1h-1zM8 28h1v1h-1z"/><path fill="#b1dfa3" d="M9 3h1v1h-1zM14 7h1v1h-1zM14 24h1v1h-1zM9 28h1v1h-1z"/><path fill="#56b0ad" d="M11 3h1v1h-1zM31 13h1v1h-1zM31 18h1v1h-1zM11 28h1v1h-1z"/><path fill="#f1f9a9" d="M17 3h1v1h-1zM7 6h1v1h-1zM28 10h1v1h-1zM20 14h1v1h-1zM20 17h1v1h-1zM28 21h1v1h-1zM7 25h1v1h-1zM17 28h1v1h-1z"/><path fill="#feefa3" d="M18 3h1v1h-1zM13 15h1v1h-1zM13 16h1v1h-1zM18 28h1v1h-1z"/><path fill="#fdc171" d="M19 3h1v1h-1zM5 4h1v1h-1zM4 13h1v1h-1zM10 15h1v1h-1zM10 16h1v1h-1zM4 18h1v1h-1zM5 27h1v1h-1zM19 28h1v1h-1z"/><path fill="#f7844e" d="M20 3h1v1h-1zM19 6h1v1h-1zM21 8h1v1h-1zM21 23h1v1h-1zM19 25h1v1h-1zM20 28h1v1h-1z"/><path fill="#e75948" d="M21 3h1v1h-1zM21 28h1v1h-1z"/><path fill="#d63f4f" d="M22 3h1v1h-1zM22 28h1v1h-1z"/><path fill="#c9314c" d="M23 3h1v1h-1zM23 28h1v1h-1z"/><path fill="#cd364d" d="M24 3h1v1h-1zM23 7h1v1h-1zM23 24h1v1h-1zM24 28h1v1h-1z"/><path fill="#dc484c" d="M25 3h1v1h-1zM25 28h1v1h-1z"/><path fill="#f7fcb2" d="M7 4h1v1h-1zM16 6h1v1h-1zM7 8h1v1h-1zM27 10h1v1h-1zM14 11h1v1h-1zM21 12h1v1h-1zM19 14h1v1h-1zM19 17h1v1h-1zM21 19h1v1h-1zM14 20h1v1h-1zM27 21h1v1h-1zM7 23h1v1h-1zM16 25h1v1h-1zM7 27h1v1h-1z"/><path fill="#d8ef9b" d="M8 4h1v1h-1zM10 9h1v1h-1zM26 11h1v1h-1zM0 15h1v1h-1zM0 16h1v1h-1zM26 20h1v1h-1zM10 22h1v1h-1zM8 27h1v1h-1z"/><path fill="#a4daa4" d="M9 4h1v1h-1zM9 27h1v1h-1z"/><path fill="#439bb5" d="M12 4h1v1h-1zM12 27h1v1h-1z"/><path fill="#6ec5a5" d="M14 4h1v1h-1zM25 13h1v1h-1zM25 18h1v1h-1zM14 27h1v1h-1z"/><path fill="#acdda4" d="M15 4h1v1h-1zM15 27h1v1h-1z"/><path fill="#e8f69b" d="M16 4h1v1h-1zM12 10h1v1h-1zM21 14h1v1h-1zM21 17h1v1h-1zM12 21h1v1h-1zM16 27h1v1h-1z"/><path fill="#fffab6" d="M17 4h1v1h-1zM6 6h1v1h-1zM29 9h1v1h-1zM21 11h1v1h-1zM21 20h1v1h-1zM29 22h1v1h-1zM6 25h1v1h-1zM17 27h1v1h-1z"/><path fill="#fed07e" d="M18 4h1v1h-1zM4 12h1v1h-1zM4 19h1v1h-1zM18 27h1v1h-1z"/><path fill="#e85b48" d="M20 4h1v1h-1zM27 5h1v1h-1zM27 26h1v1h-1zM20 27h1v1h-1z"/><path fill="#cb334d" d="M21 4h1v1h-1zM21 6h1v1h-1zM21 25h1v1h-1zM21 27h1v1h-1z"/><path fill="#ad1246" d="M22 4h1v1h-1zM25 5h1v1h-1zM25 26h1v1h-1zM22 27h1v1h-1z"/><path fill="#a00343" d="M23 4h1v1h-1zM22 5h1v1h-1zM22 26h1v1h-1zM23 27h1v1h-1z"/><path fill="#a70b44" d="M24 4h1v1h-1zM24 6h1v1h-1zM24 25h1v1h-1zM24 27h1v1h-1z"/><path fill="#bc2249" d="M25 4h1v1h-1zM25 27h1v1h-1z"/><path fill="#da464d" d="M26 4h1v1h-1zM25 7h1v1h-1zM25 24h1v1h-1zM26 27h1v1h-1z"/><path fill="#fa9656" d="M4 5h1v1h-1zM26 8h1v1h-1zM7 15h1v1h-1zM7 16h1v1h-1zM26 23h1v1h-1zM4 26h1v1h-1z"/><path fill="#fdc776" d="M5 5h1v1h-1zM4 7h1v1h-1zM29 7h1v1h-1zM4 24h1v1h-1zM29 24h1v1h-1zM5 26h1v1h-1z"/><path fill="#fff2aa" d="M6 5h1v1h-1zM7 10h1v1h-1zM1 12h1v1h-1zM12 13h1v1h-1zM13 14h1v1h-1zM13 17h1v1h-1zM12 18h1v1h-1zM1 19h1v1h-1zM7 21h1v1h-1zM6 26h1v1h-1z"/><path fill="#f2faaa" d="M7 5h1v1h-1zM16 5h1v1h-1zM7 7h1v1h-1zM24 11h1v1h-1zM24 20h1v1h-1zM7 24h1v1h-1zM7 26h1v1h-1zM16 26h1v1h-1z"/><path fill="#d3ed9c" d="M8 5h1v1h-1zM8 26h1v1h-1z"/><path fill="#a2d9a4" d="M9 5h1v1h-1zM11 8h1v1h-1zM11 23h1v1h-1zM9 26h1v1h-1z"/><path fill="#52abae" d="M11 5h1v1h-1zM11 26h1v1h-1z"/><path fill="#49a2b2" d="M12 5h1v1h-1zM12 26h1v1h-1z"/><path fill="#58b2ac" d="M13 5h1v1h-1zM12 6h1v1h-1zM12 25h1v1h-1zM13 26h1v1h-1z"/><path fill="#81cda5" d="M14 5h1v1h-1zM14 26h1v1h-1z"/><path fill="#fdbd6d" d="M18 5h1v1h-1zM18 6h1v1h-1zM21 9h1v1h-1zM9 14h1v1h-1zM3 15h1v1h-1zM3 16h1v1h-1zM9 17h1v1h-1zM21 22h1v1h-1zM18 25h1v1h-1zM18 26h1v1h-1z"/><path fill="#f67f4b" d="M19 5h1v1h-1zM27 7h1v1h-1zM27 24h1v1h-1zM19 26h1v1h-1z"/><path fill="#df4e4b" d="M20 5h1v1h-1zM20 26h1v1h-1z"/><path fill="#be254a" d="M21 5h1v1h-1zM21 26h1v1h-1z"/><path fill="#9e0142" d="M23 5h2v1h-2zM23 26h2v1h-2z"/><path fill="#d0384e" d="M26 5h1v1h-1zM24 7h1v1h-1zM24 24h1v1h-1zM26 26h1v1h-1z"/><path fill="#f7814c" d="M3 6h1v1h-1zM3 25h1v1h-1z"/><path fill="#fca85e" d="M4 6h1v1h-1zM28 7h1v1h-1zM28 24h1v1h-1zM4 25h1v1h-1z"/><path fill="#fedc88" d="M5 6h1v1h-1zM18 8h1v1h-1zM3 9h1v1h-1zM19 9h1v1h-1zM3 22h1v1h-1zM19 22h1v1h-1zM18 23h1v1h-1zM5 25h1v1h-1z"/><path fill="#5eb9a9" d="M11 6h1v1h-1zM24 15h1v1h-1zM24 16h1v1h-1zM11 25h1v1h-1z"/><path fill="#69c3a5" d="M13 6h1v1h-1zM28 12h2v1h-2zM28 19h2v1h-2zM13 25h1v1h-1z"/><path fill="#97d5a4" d="M14 6h1v1h-1zM14 25h1v1h-1z"/><path fill="#feea9b" d="M17 6h1v1h-1zM5 7h1v1h-1zM12 14h1v1h-1zM12 17h1v1h-1zM5 24h1v1h-1zM17 25h1v1h-1z"/><path fill="#e55749" d="M20 6h1v1h-1zM20 25h1v1h-1z"/><path fill="#af1446" d="M22 6h1v1h-1zM22 25h1v1h-1z"/><path fill="#a20643" d="M23 6h1v1h-1zM23 25h1v1h-1z"/><path fill="#ba2049" d="M25 6h1v1h-1zM25 25h1v1h-1z"/><path fill="#d7414e" d="M26 6h1v1h-1zM22 7h1v1h-1zM22 24h1v1h-1zM26 25h1v1h-1z"/><path fill="#ed6246" d="M27 6h1v1h-1zM27 25h1v1h-1z"/><path fill="#f88c51" d="M28 6h1v1h-1zM28 25h1v1h-1z"/><path fill="#fb9d59" d="M3 7h1v1h-1zM19 7h1v1h-1zM3 24h1v1h-1zM19 24h1v1h-1z"/><path fill="#fffebe" d="M6 7h1v1h-1zM22 11h1v1h-1zM12 12h1v1h-1zM15 13h1v1h-1zM16 14h1v1h-1zM16 15h1v1h-1zM16 16h1v1h-1zM16 17h1v1h-1zM15 18h1v1h-1zM12 19h1v1h-1zM22 20h1v1h-1zM6 24h1v1h-1z"/><path fill="#dff299" d="M8 7h1v1h-1zM15 7h1v1h-1zM22 13h1v1h-1zM0 14h1v1h-1zM0 17h1v1h-1zM22 18h1v1h-1zM8 24h1v1h-1zM15 24h1v1h-1z"/><path fill="#bae3a1" d="M9 7h1v1h-1zM28 11h1v1h-1zM30 11h1v1h-1zM28 20h1v1h-1zM30 20h1v1h-1zM9 24h1v1h-1z"/><path fill="#79c9a5" d="M11 7h1v1h-1zM11 24h1v1h-1z"/><path fill="#74c7a5" d="M12 7h1v1h-1zM24 14h1v1h-1zM24 17h1v1h-1zM12 24h1v1h-1z"/><path fill="#fec877" d="M18 7h1v1h-1zM18 24h1v1h-1z"/><path fill="#e3534a" d="M21 7h1v1h-1zM21 24h1v1h-1z"/><path fill="#ea5e47" d="M26 7h1v1h-1zM26 24h1v1h-1z"/><path fill="#fdb163" d="M2 8h1v1h-1zM2 23h1v1h-1z"/><path fill="#fee08b" d="M4 8h1v1h-1zM4 11h1v1h-1zM6 11h1v1h-1zM11 14h1v1h-1zM11 17h1v1h-1zM4 20h1v1h-1zM6 20h1v1h-1zM4 23h1v1h-1z"/><path fill="#fff1a8" d="M5 8h1v1h-1zM17 8h1v1h-1zM5 23h1v1h-1zM17 23h1v1h-1z"/><path fill="#fffdbc" d="M6 8h1v1h-1zM17 11h1v1h-1zM17 20h1v1h-1zM6 23h1v1h-1z"/><path fill="#ebf7a0" d="M8 8h1v1h-1zM30 10h1v1h-1zM30 21h1v1h-1zM8 23h1v1h-1z"/><path fill="#b5e1a2" d="M10 8h1v1h-1zM10 23h1v1h-1z"/><path fill="#9cd7a4" d="M12 8h1v1h-1zM24 13h1v1h-1zM24 18h1v1h-1zM12 23h1v1h-1z"/><path fill="#e9f69d" d="M15 8h1v1h-1zM25 11h1v1h-1zM25 20h1v1h-1zM15 23h1v1h-1z"/><path fill="#fdbf6f" d="M19 8h1v1h-1zM19 23h1v1h-1z"/><path fill="#fba05b" d="M20 8h1v1h-1zM6 14h1v1h-1zM8 15h1v1h-1zM8 16h1v1h-1zM6 17h1v1h-1zM20 23h1v1h-1z"/><path fill="#f26944" d="M23 8h1v1h-1zM23 23h1v1h-1z"/><path fill="#f46d43" d="M24 8h1v1h-1zM24 23h1v1h-1z"/><path fill="#f67c4a" d="M25 8h1v1h-1zM25 23h1v1h-1z"/><path fill="#fee18d" d="M29 8h1v1h-1zM2 10h1v1h-1zM10 13h1v1h-1zM10 18h1v1h-1zM2 21h1v1h-1zM29 23h1v1h-1z"/><path fill="#fece7c" d="M1 9h2v1h-2zM7 12h1v1h-1zM10 14h1v1h-1zM10 17h1v1h-1zM7 19h1v1h-1zM1 22h2v1h-2z"/><path fill="#fff0a6" d="M5 9h1v1h-1zM28 9h1v1h-1zM10 12h1v1h-1zM10 19h1v1h-1zM5 22h1v1h-1zM28 22h1v1h-1z"/><path fill="#fff6b0" d="M6 9h1v1h-1zM17 9h1v1h-1zM25 10h1v1h-1zM9 11h1v1h-1zM14 15h1v1h-1zM14 16h1v1h-1zM9 20h1v1h-1zM25 21h1v1h-1zM6 22h1v1h-1zM17 22h1v1h-1z"/><path fill="#f6fbb0" d="M8 9h1v1h-1zM19 15h1v1h-1zM19 16h1v1h-1zM8 22h1v1h-1z"/><path fill="#c8e99e" d="M11 9h1v1h-1zM11 22h1v1h-1z"/><path fill="#c6e89f" d="M12 9h1v1h-1zM27 11h1v1h-1zM27 20h1v1h-1zM12 22h1v1h-1z"/><path fill="#cfec9d" d="M13 9h1v1h-1zM13 22h1v1h-1z"/><path fill="#e4f498" d="M14 9h1v1h-1zM21 15h1v1h-1zM21 16h1v1h-1zM14 22h1v1h-1z"/><path fill="#f0f9a7" d="M15 9h1v1h-1zM10 10h1v1h-1zM22 12h1v1h-1zM22 19h1v1h-1zM10 21h1v1h-1zM15 22h1v1h-1z"/><path fill="#fcfeba" d="M16 9h1v1h-1zM20 12h1v1h-1zM20 19h1v1h-1zM16 22h1v1h-1z"/><path fill="#feca79" d="M20 9h1v1h-1zM5 12h2v1h-2zM5 19h2v1h-2zM20 22h1v1h-1z"/><path fill="#fdb567" d="M22 9h2v1h-2zM6 13h1v1h-1zM6 18h1v1h-1zM22 22h2v1h-2z"/><path fill="#fdb96a" d="M24 9h1v1h-1zM7 13h1v1h-1zM7 18h1v1h-1zM24 22h1v1h-1z"/><path fill="#fdc574" d="M25 9h1v1h-1zM25 22h1v1h-1z"/><path fill="#fed683" d="M26 9h1v1h-1zM2 14h1v1h-1zM2 17h1v1h-1zM26 22h1v1h-1z"/><path fill="#fee593" d="M27 9h1v1h-1zM3 10h1v1h-1zM21 10h2v1h-2zM7 11h1v1h-1zM7 20h1v1h-1zM3 21h1v1h-1zM21 21h2v1h-2zM27 22h1v1h-1z"/><path fill="#fee491" d="M1 10h1v1h-1zM2 12h1v1h-1zM12 15h1v1h-1zM12 16h1v1h-1zM2 19h1v1h-1zM1 21h1v1h-1z"/><path fill="#fee797" d="M4 10h1v1h-1zM23 10h1v1h-1zM4 21h1v1h-1zM23 21h1v1h-1z"/><path fill="#fffcba" d="M8 10h1v1h-1zM14 13h1v1h-1zM15 14h1v1h-1zM15 17h1v1h-1zM14 18h1v1h-1zM8 21h1v1h-1z"/><path fill="#f8fcb4" d="M9 10h1v1h-1zM9 21h1v1h-1z"/><path fill="#f5fbaf" d="M15 10h1v1h-1zM12 11h2v1h-2zM20 13h1v1h-1zM20 18h1v1h-1zM12 20h2v1h-2zM15 21h1v1h-1z"/><path fill="#fffbb8" d="M17 10h1v1h-1zM18 11h1v1h-1zM15 15h1v1h-1zM15 16h1v1h-1zM18 20h1v1h-1zM17 21h1v1h-1z"/><path fill="#fff3ac" d="M18 10h1v1h-1zM1 13h1v1h-1zM1 15h1v1h-1zM1 16h1v1h-1zM1 18h1v1h-1zM18 21h1v1h-1z"/><path fill="#feeda1" d="M19 10h1v1h-1zM24 10h1v1h-1zM1 11h1v1h-1zM1 20h1v1h-1zM19 21h1v1h-1zM24 21h1v1h-1z"/><path fill="#edf8a3" d="M29 10h1v1h-1zM29 21h1v1h-1z"/><path fill="#fee695" d="M2 11h1v1h-1zM9 12h1v1h-1zM9 19h1v1h-1zM2 20h1v1h-1z"/><path fill="#fee28f" d="M3 11h1v1h-1zM3 20h1v1h-1z"/><path fill="#fede89" d="M5 11h1v1h-1zM2 13h1v1h-1zM2 18h1v1h-1zM5 20h1v1h-1z"/><path fill="#fafdb7" d="M15 11h1v1h-1zM23 11h1v1h-1zM19 13h1v1h-1zM19 18h1v1h-1zM15 20h1v1h-1zM23 20h1v1h-1z"/><path fill="#fff8b4" d="M19 11h2v1h-2zM11 12h1v1h-1zM13 13h1v1h-1zM14 14h1v1h-1zM14 17h1v1h-1zM13 18h1v1h-1zM11 19h1v1h-1zM19 20h2v1h-2z"/><path fill="#b8e2a1" d="M29 11h1v1h-1zM29 20h1v1h-1z"/><path fill="#f3faac" d="M0 12h1v1h-1zM0 19h1v1h-1z"/><path fill="#feda86" d="M3 12h1v1h-1zM8 12h1v1h-1zM3 19h1v1h-1zM8 19h1v1h-1z"/><path fill="#fefebd" d="M13 12h1v1h-1zM16 12h1v1h-1zM19 12h1v1h-1zM17 13h1v1h-1zM17 14h1v1h-1zM17 15h1v1h-1zM17 16h1v1h-1zM17 17h1v1h-1zM17 18h1v1h-1zM13 19h1v1h-1zM16 19h1v1h-1zM19 19h1v1h-1z"/><path fill="#e6f598" d="M23 12h1v1h-1zM23 19h1v1h-1z"/><path fill="#cdeb9d" d="M24 12h1v1h-1zM22 14h1v1h-1zM22 17h1v1h-1zM24 19h1v1h-1z"/><path fill="#8fd2a4" d="M26 12h1v1h-1zM31 12h1v1h-1zM26 19h1v1h-1zM31 19h1v1h-1z"/><path fill="#fdb768" d="M5 13h1v1h-1zM5 18h1v1h-1z"/><path fill="#fed27f" d="M9 13h1v1h-1zM2 15h1v1h-1zM2 16h1v1h-1zM9 18h1v1h-1z"/><path fill="#eef8a4" d="M21 13h1v1h-1zM21 18h1v1h-1z"/><path fill="#378ebb" d="M27 13h1v1h-1zM27 18h1v1h-1z"/><path fill="#3682ba" d="M28 13h2v1h-2zM28 18h2v1h-2z"/><path fill="#3d95b8" d="M30 13h1v1h-1zM30 18h1v1h-1z"/><path fill="#fff5ae" d="M1 14h1v1h-1zM1 17h1v1h-1z"/><path fill="#fca55d" d="M5 14h1v1h-1zM7 14h1v1h-1zM5 17h1v1h-1zM7 17h1v1h-1z"/><path fill="#fdaf62" d="M8 14h1v1h-1zM9 15h1v1h-1zM9 16h1v1h-1zM8 17h1v1h-1z"/><path fill="#47a0b3" d="M25 14h1v1h-1zM25 17h1v1h-1z"/><path fill="#3f77b5" d="M26 14h1v1h-1zM26 17h1v1h-1z"/><path fill="#555aa7" d="M27 14h1v1h-1zM27 17h1v1h-1z"/><path fill="#5e4fa2" d="M28 14h2v1h-2zM27 15h4v1h-4zM27 16h4v1h-4zM28 17h2v1h-2z"/><path fill="#4e63ac" d="M30 14h1v1h-1zM30 17h1v1h-1z"/><path fill="#3585bb" d="M31 14h1v1h-1zM31 17h1v1h-1z"/><path fill="#fcaa5f" d="M4 15h1v1h-1zM4 16h1v1h-1z"/><path fill="#fa9b58" d="M5 15h1v1h-1zM5 16h1v1h-1z"/><path fill="#fed481" d="M11 15h1v1h-1zM11 16h1v1h-1z"/><path fill="#3389bd" d="M25 15h1v1h-1zM25 16h1v1h-1z"/><path fill="#545ca8" d="M26 15h1v1h-1zM26 16h1v1h-1z"/><path fill="#486cb0" d="M31 15h1v1h-1zM31 16h1v1h-1z"/></svg><rect x="407.6" y="292.6" width="233.2" height="232.8" fill="none" stroke="#808070" stroke-width="1.4"/><svg x="659.2" y="292.6" width="233.2" height="232.8" viewBox="0 0 32 32" preserveAspectRatio="none" shape-rendering="crispEdges"><rect width="32" height="32" fill="#ffffbe"/><path fill="#fece7c" d="M12 0h1v1h-1zM16 0h1v1h-1zM13 8h1v1h-1zM26 12h1v1h-1zM30 12h1v1h-1zM12 27h1v1h-1z"/><path fill="#fec877" d="M13 0h3v1h-3zM28 12h1v1h-1zM23 17h1v1h-1zM14 30h1v1h-1z"/><path fill="#fed683" d="M17 0h1v1h-1zM10 1h1v1h-1zM15 1h1v1h-1zM12 9h1v1h-1zM22 15h1v1h-1zM28 19h1v1h-1zM9 25h1v1h-1zM11 25h1v1h-1z"/><path fill="#fee28f" d="M18 0h1v1h-1zM8 8h1v1h-1zM14 8h1v1h-1zM9 9h1v1h-1zM22 13h1v1h-1zM8 25h1v1h-1zM16 30h1v1h-1z"/><path fill="#feec9f" d="M19 0h1v1h-1zM26 11h1v1h-1zM21 13h1v1h-1zM21 17h1v1h-1z"/><path fill="#fee695" d="M9 1h1v1h-1zM14 6h1v1h-1zM22 18h1v1h-1zM12 25h1v1h-1zM8 29h1v1h-1z"/><path fill="#feca79" d="M11 1h1v1h-1zM10 2h1v1h-1zM9 4h1v1h-1zM27 12h1v1h-1zM29 12h1v1h-1zM0 15h1v1h-1zM0 16h1v1h-1zM24 18h1v1h-1zM9 26h1v1h-1zM13 29h1v1h-1zM15 31h1v1h-1z"/><path fill="#fdc574" d="M12 1h1v1h-1zM12 2h1v1h-1zM13 6h1v1h-1zM24 13h1v1h-1zM11 26h1v1h-1zM9 27h1v1h-1zM9 28h1v1h-1z"/><path fill="#fdc776" d="M13 1h1v1h-1zM12 3h1v1h-1zM9 7h1v1h-1zM23 14h1v1h-1z"/><path fill="#fecc7b" d="M14 1h1v1h-1zM9 29h1v1h-1z"/><path fill="#fede89" d="M16 1h1v1h-1zM9 2h1v1h-1zM8 5h1v1h-1zM24 12h1v1h-1zM22 17h1v1h-1zM31 19h1v1h-1zM8 26h1v1h-1zM8 27h1v1h-1z"/><path fill="#fee491" d="M17 1h1v1h-1zM8 4h1v1h-1zM24 19h1v1h-1zM10 24h1v1h-1zM13 28h1v1h-1z"/><path fill="#feea9b" d="M18 1h1v1h-1zM8 3h1v1h-1zM8 9h1v1h-1zM10 10h1v1h-1zM12 10h1v1h-1zM27 11h1v1h-1zM21 14h1v1h-1zM23 19h1v1h-1zM8 24h1v1h-1zM18 31h1v1h-1z"/><path fill="#fff1a8" d="M19 1h1v1h-1zM15 2h1v1h-1zM14 5h1v1h-1zM7 9h1v1h-1zM21 12h1v1h-1zM28 20h1v1h-1zM9 23h1v1h-1z"/><path fill="#fffcba" d="M20 1h1v1h-1zM29 10h1v1h-1zM7 11h1v1h-1zM13 11h1v1h-1zM23 20h1v1h-1zM7 22h1v1h-1z"/><path fill="#f6fbb0" d="M21 1h1v1h-1zM19 4h1v1h-1zM15 5h1v1h-1zM20 7h1v1h-1zM20 8h1v1h-1zM3 10h1v1h-1zM3 12h1v1h-1zM4 14h1v1h-1zM7 16h1v1h-1zM18 16h1v1h-1zM6 17h1v1h-1zM18 17h1v1h-1zM3 20h1v1h-1zM7 20h1v1h-1zM27 21h1v1h-1z"/><path fill="#edf8a3" d="M22 1h1v1h-1zM16 3h1v1h-1zM28 9h1v1h-1zM15 14h1v1h-1zM16 15h1v1h-1zM8 17h1v1h-1zM8 18h1v1h-1zM16 19h1v1h-1zM10 20h1v1h-1zM16 20h1v1h-1zM14 21h3v1h-3zM3 22h1v1h-1zM15 22h1v1h-1zM15 28h1v1h-1z"/><path fill="#fdfebb" d="M7 2h1v1h-1zM20 2h1v1h-1zM5 8h1v1h-1zM17 9h1v1h-1zM17 10h2v1h-2zM15 11h1v1h-1zM1 12h1v1h-1zM18 12h1v1h-1zM7 13h1v1h-1zM6 14h1v1h-1zM19 17h1v1h-1z"/><path fill="#fff0a6" d="M8 2h1v1h-1zM21 18h1v1h-1zM22 19h1v1h-1zM29 20h1v1h-1zM7 24h1v1h-1zM7 26h1v1h-1zM13 27h1v1h-1zM18 30h1v1h-1z"/><path fill="#fdc171" d="M11 2h1v1h-1zM10 3h1v1h-1zM9 6h1v1h-1zM23 16h1v1h-1zM10 26h1v1h-1zM12 28h1v1h-1zM10 30h1v1h-1z"/><path fill="#fed481" d="M13 2h1v1h-1zM9 3h1v1h-1zM11 9h1v1h-1zM25 12h1v1h-1zM31 12h1v1h-1zM23 13h1v1h-1zM16 31h1v1h-1z"/><path fill="#fee593" d="M14 2h1v1h-1zM23 12h1v1h-1zM9 24h1v1h-1z"/><path fill="#fffab6" d="M16 2h1v1h-1zM7 4h1v1h-1zM14 4h1v1h-1zM30 10h1v1h-1zM9 11h1v1h-1zM12 11h1v1h-1zM21 11h1v1h-1zM24 20h1v1h-1zM6 23h1v1h-1zM6 24h1v1h-1zM13 25h1v1h-1zM19 30h1v1h-1z"/><path fill="#fffdbc" d="M17 2h3v1h-3zM15 6h1v1h-1zM16 9h1v1h-1zM19 12h1v1h-1zM19 13h1v1h-1zM6 22h1v1h-1zM8 22h2v1h-2z"/><path fill="#f3faac" d="M21 2h1v1h-1zM21 3h1v1h-1zM21 5h1v1h-1zM21 9h1v1h-1zM4 16h1v1h-1zM7 17h1v1h-1zM2 18h1v1h-1zM4 18h1v1h-1zM7 19h1v1h-1zM8 20h1v1h-1zM20 21h2v1h-2zM13 22h1v1h-1zM14 24h1v1h-1zM14 25h1v1h-1zM14 27h1v1h-1z"/><path fill="#e9f69d" d="M22 2h1v1h-1zM22 3h1v1h-1zM18 4h1v1h-1zM13 14h1v1h-1zM28 22h1v1h-1zM15 24h1v1h-1zM20 28h1v1h-1z"/><path fill="#ddf19a" d="M23 2h1v1h-1zM11 18h2v1h-2zM20 23h1v1h-1zM16 24h1v1h-1zM21 28h1v1h-1z"/><path fill="#d6ee9b" d="M24 2h1v1h-1zM22 6h1v1h-1zM11 15h1v1h-1zM10 16h1v1h-1zM12 17h1v1h-1zM3 23h1v1h-1zM5 26h1v1h-1zM15 26h1v1h-1zM15 27h1v1h-1z"/><path fill="#ecf7a1" d="M6 3h1v1h-1zM17 3h1v1h-1zM17 6h1v1h-1zM21 8h1v1h-1zM22 9h1v1h-1zM16 22h1v1h-1zM19 22h1v1h-1zM15 23h1v1h-1z"/><path fill="#fdbb6c" d="M11 3h1v1h-1zM11 8h1v1h-1zM30 18h1v1h-1z"/><path fill="#fee18d" d="M13 3h1v1h-1zM13 9h1v1h-1zM8 28h1v1h-1z"/><path fill="#fff6b0" d="M14 3h1v1h-1zM6 8h1v1h-1zM20 13h1v1h-1zM20 16h1v1h-1zM25 20h1v1h-1zM13 26h1v1h-1z"/><path fill="#f7fcb2" d="M15 3h1v1h-1zM19 5h1v1h-1zM30 9h1v1h-1zM3 11h1v1h-1zM4 13h1v1h-1zM17 13h1v1h-1zM5 16h1v1h-1zM1 20h1v1h-1zM4 20h1v1h-1zM19 20h1v1h-1zM9 21h1v1h-1zM12 22h1v1h-1zM19 29h1v1h-1z"/><path fill="#f1f9a9" d="M18 3h1v1h-1zM10 13h1v1h-1zM14 13h1v1h-1zM2 15h1v1h-1zM8 15h1v1h-1zM2 17h1v1h-1zM3 18h1v1h-1zM18 21h1v1h-1zM22 21h3v1h-3zM14 26h1v1h-1zM20 29h1v1h-1z"/><path fill="#f8fcb4" d="M19 3h1v1h-1zM19 6h1v1h-1zM19 7h1v1h-1zM18 8h1v1h-1zM23 10h3v1h-3zM1 11h1v1h-1zM13 12h4v1h-4zM7 15h1v1h-1zM18 15h1v1h-1zM5 20h2v1h-2zM4 22h1v1h-1zM6 26h1v1h-1z"/><path fill="#fafdb7" d="M20 3h1v1h-1zM22 10h1v1h-1zM26 10h1v1h-1zM11 12h1v1h-1zM17 12h1v1h-1zM5 14h1v1h-1zM19 19h1v1h-1zM8 21h1v1h-1zM18 29h1v1h-1zM20 30h1v1h-1z"/><path fill="#daf09a" d="M23 3h1v1h-1zM17 4h1v1h-1zM1 9h1v1h-1zM10 15h1v1h-1zM13 16h1v1h-1zM13 17h1v1h-1zM1 22h1v1h-1zM22 22h1v1h-1zM4 24h1v1h-1zM19 27h1v1h-1zM25 28h1v1h-1z"/><path fill="#cfec9d" d="M24 3h1v1h-1zM5 5h1v1h-1zM22 7h1v1h-1zM29 7h1v1h-1zM11 16h1v1h-1zM24 22h1v1h-1zM28 23h1v1h-1zM25 27h1v1h-1z"/><path fill="#c8e99e" d="M25 3h1v1h-1zM23 5h1v1h-1zM18 25h1v1h-1z"/><path fill="#c3e79f" d="M5 4h1v1h-1zM27 8h1v1h-1zM17 25h1v1h-1zM22 27h1v1h-1z"/><path fill="#eef8a4" d="M6 4h1v1h-1zM21 6h1v1h-1zM3 9h1v1h-1zM1 10h1v1h-1zM9 14h1v1h-1zM8 16h1v1h-1zM1 21h1v1h-1zM13 21h1v1h-1z"/><path fill="#fdb768" d="M10 4h1v1h-1zM25 13h1v1h-1zM24 17h1v1h-1zM26 18h1v1h-1zM11 27h1v1h-1z"/><path fill="#fdb163" d="M11 4h1v1h-1zM30 13h1v1h-1zM24 14h1v1h-1zM10 28h1v1h-1z"/><path fill="#fdbf6f" d="M12 4h1v1h-1zM12 8h1v1h-1zM23 15h1v1h-1zM25 18h1v1h-1z"/><path fill="#fee08b" d="M13 4h1v1h-1zM14 7h1v1h-1zM0 13h1v1h-1zM0 18h1v1h-1zM25 19h1v1h-1zM17 31h1v1h-1z"/><path fill="#f0f9a7" d="M15 4h1v1h-1zM18 6h1v1h-1zM11 13h1v1h-1zM13 13h1v1h-1zM16 14h1v1h-1zM3 15h1v1h-1zM2 16h1v1h-1zM17 16h1v1h-1zM3 17h1v1h-1zM17 17h1v1h-1zM17 18h1v1h-1zM17 19h1v1h-1zM9 20h1v1h-1zM17 20h1v1h-1zM12 21h1v1h-1zM14 22h1v1h-1zM6 28h1v1h-1z"/><path fill="#dff299" d="M16 4h1v1h-1zM17 5h1v1h-1zM2 9h1v1h-1zM25 9h1v1h-1zM13 15h1v1h-1zM13 18h1v1h-1zM2 22h1v1h-1z"/><path fill="#fbfdb8" d="M20 4h1v1h-1zM20 5h1v1h-1zM16 7h1v1h-1zM18 9h2v1h-2zM4 11h1v1h-1zM10 12h1v1h-1zM5 13h1v1h-1zM18 13h1v1h-1zM7 14h1v1h-1zM6 15h1v1h-1zM20 20h1v1h-1zM7 21h1v1h-1zM11 22h1v1h-1z"/><path fill="#f4faad" d="M21 4h1v1h-1zM17 7h2v1h-2zM2 13h2v1h-2zM16 13h1v1h-1zM17 14h1v1h-1zM4 15h1v1h-1zM5 18h1v1h-1zM2 19h2v1h-2zM2 20h1v1h-1zM18 20h1v1h-1zM26 21h1v1h-1zM30 22h1v1h-1z"/><path fill="#e8f69b" d="M22 4h1v1h-1zM16 5h1v1h-1zM5 6h1v1h-1zM27 9h1v1h-1zM10 14h1v1h-1zM9 15h1v1h-1zM15 16h1v1h-1zM9 18h1v1h-1zM15 18h1v1h-1zM10 19h1v1h-1zM14 19h1v1h-1zM16 23h1v1h-1zM21 29h1v1h-1z"/><path fill="#d3ed9c" d="M23 4h1v1h-1zM3 8h1v1h-1zM28 8h1v1h-1zM11 17h1v1h-1zM17 24h2v1h-2zM20 24h1v1h-1zM29 24h1v1h-1zM20 25h1v1h-1zM21 27h1v1h-1zM26 27h1v1h-1zM23 29h1v1h-1z"/><path fill="#c6e89f" d="M24 4h1v1h-1zM23 8h1v1h-1zM27 26h1v1h-1zM24 27h1v1h-1z"/><path fill="#bae3a1" d="M25 4h1v1h-1zM28 7h1v1h-1zM2 8h1v1h-1zM24 8h1v1h-1zM26 8h1v1h-1zM2 23h1v1h-1z"/><path fill="#b5e1a2" d="M26 4h1v1h-1zM24 5h1v1h-1zM25 8h1v1h-1zM4 25h1v1h-1zM22 26h1v1h-1z"/><path fill="#99d6a4" d="M4 5h1v1h-1zM25 6h1v1h-1zM2 7h1v1h-1zM25 7h1v1h-1zM2 24h1v1h-1zM23 25h2v1h-2z"/><path fill="#f5fbaf" d="M6 5h1v1h-1zM5 7h1v1h-1zM2 11h1v1h-1zM2 12h1v1h-1zM9 13h1v1h-1zM8 14h1v1h-1zM5 17h1v1h-1zM6 18h1v1h-1zM18 18h1v1h-1zM4 19h3v1h-3zM18 19h1v1h-1zM3 21h1v1h-1zM10 21h1v1h-1zM5 24h1v1h-1z"/><path fill="#fff2aa" d="M7 5h1v1h-1zM15 8h1v1h-1zM8 10h1v1h-1zM24 11h1v1h-1zM27 20h1v1h-1zM8 23h1v1h-1zM10 23h1v1h-1zM12 24h1v1h-1z"/><path fill="#fdc372" d="M9 5h1v1h-1zM13 7h1v1h-1zM10 8h1v1h-1zM31 18h1v1h-1zM14 31h1v1h-1z"/><path fill="#fdaf62" d="M10 5h1v1h-1zM12 7h1v1h-1zM11 28h1v1h-1zM12 30h1v1h-1z"/><path fill="#fca55d" d="M11 5h1v1h-1zM27 13h2v1h-2z"/><path fill="#fdb365" d="M12 5h1v1h-1zM10 7h1v1h-1zM27 18h2v1h-2zM12 29h1v1h-1zM11 30h1v1h-1z"/><path fill="#fed27f" d="M13 5h1v1h-1zM9 8h1v1h-1zM0 14h1v1h-1zM0 17h1v1h-1z"/><path fill="#ebf7a0" d="M18 5h1v1h-1zM21 7h1v1h-1zM14 14h1v1h-1zM16 16h1v1h-1zM16 17h1v1h-1zM16 18h1v1h-1zM9 19h1v1h-1zM11 20h1v1h-1zM15 20h1v1h-1zM17 22h2v1h-2z"/><path fill="#e1f399" d="M22 5h1v1h-1zM24 9h1v1h-1zM14 16h1v1h-1zM14 17h1v1h-1zM10 18h1v1h-1zM27 22h1v1h-1zM29 23h1v1h-1zM15 25h1v1h-1zM20 27h1v1h-1zM16 28h2v1h-2z"/><path fill="#aadca4" d="M25 5h1v1h-1zM3 7h1v1h-1zM25 23h1v1h-1zM22 25h1v1h-1zM26 25h1v1h-1z"/><path fill="#a2d9a4" d="M26 5h1v1h-1zM24 7h1v1h-1zM26 24h1v1h-1z"/><path fill="#a7dba4" d="M27 5h1v1h-1zM27 7h1v1h-1zM24 23h1v1h-1zM22 24h1v1h-1z"/><path fill="#89d0a4" d="M3 6h1v1h-1z"/><path fill="#b1dfa3" d="M4 6h1v1h-1zM28 6h1v1h-1zM27 24h1v1h-1zM24 26h1v1h-1z"/><path fill="#fefebd" d="M6 6h1v1h-1zM19 10h2v1h-2zM5 11h1v1h-1zM18 11h1v1h-1zM8 12h1v1h-1zM6 13h1v1h-1zM19 16h1v1h-1zM1 18h1v1h-1zM21 20h1v1h-1zM5 22h1v1h-1zM14 28h1v1h-1z"/><path fill="#feeda1" d="M7 6h1v1h-1zM7 8h1v1h-1zM9 10h1v1h-1zM7 25h1v1h-1z"/><path fill="#feda86" d="M8 6h1v1h-1zM22 14h1v1h-1zM23 18h1v1h-1zM26 19h1v1h-1zM30 19h1v1h-1z"/><path fill="#fdad60" d="M10 6h1v1h-1zM26 13h1v1h-1z"/><path fill="#fba05b" d="M11 6h1v1h-1zM31 14h1v1h-1z"/><path fill="#fcaa5f" d="M12 6h1v1h-1zM11 7h1v1h-1zM31 17h1v1h-1zM11 29h1v1h-1z"/><path fill="#f2faaa" d="M16 6h1v1h-1zM29 9h1v1h-1zM15 13h1v1h-1zM2 14h2v1h-2zM17 15h1v1h-1zM4 17h1v1h-1zM7 18h1v1h-1zM11 21h1v1h-1zM19 21h1v1h-1zM25 21h1v1h-1zM14 23h1v1h-1zM6 27h1v1h-1z"/><path fill="#f9fcb5" d="M20 6h1v1h-1zM17 8h1v1h-1zM19 8h1v1h-1zM4 9h1v1h-1zM20 9h1v1h-1zM4 12h1v1h-1zM12 12h1v1h-1zM8 13h1v1h-1zM18 14h1v1h-1zM5 15h1v1h-1zM6 16h1v1h-1zM4 21h1v1h-1zM28 21h1v1h-1zM13 23h1v1h-1z"/><path fill="#b8e2a1" d="M23 6h1v1h-1zM22 23h1v1h-1zM17 26h1v1h-1zM25 26h1v1h-1z"/><path fill="#a4daa4" d="M24 6h1v1h-1z"/><path fill="#97d5a4" d="M26 6h1v1h-1zM25 24h1v1h-1z"/><path fill="#9fd8a4" d="M27 6h1v1h-1zM25 25h1v1h-1zM4 26h1v1h-1z"/><path fill="#d8ef9b" d="M4 7h1v1h-1zM22 8h1v1h-1zM12 15h1v1h-1zM10 17h1v1h-1zM26 22h1v1h-1zM19 24h1v1h-1zM20 26h1v1h-1zM22 29h1v1h-1zM24 29h1v1h-1z"/><path fill="#fff8b4" d="M6 7h1v1h-1zM10 11h2v1h-2zM7 28h1v1h-1z"/><path fill="#feeb9d" d="M7 7h1v1h-1zM14 9h1v1h-1zM0 12h1v1h-1zM22 12h1v1h-1zM0 19h1v1h-1z"/><path fill="#fedc88" d="M8 7h1v1h-1zM12 26h1v1h-1z"/><path fill="#fff5ae" d="M15 7h1v1h-1zM15 9h1v1h-1zM14 10h1v1h-1zM23 11h1v1h-1zM20 14h1v1h-1zM20 15h1v1h-1zM26 20h1v1h-1zM7 23h1v1h-1zM19 31h1v1h-1z"/><path fill="#b3e0a2" d="M23 7h1v1h-1zM26 23h1v1h-1zM27 25h1v1h-1z"/><path fill="#9cd7a4" d="M26 7h1v1h-1z"/><path fill="#eff9a6" d="M4 8h1v1h-1zM2 10h1v1h-1zM12 13h1v1h-1zM3 16h1v1h-1zM8 19h1v1h-1zM2 21h1v1h-1zM17 21h1v1h-1zM29 22h1v1h-1zM4 23h1v1h-1zM21 30h1v1h-1z"/><path fill="#fffebe" d="M16 8h1v1h-1zM5 9h1v1h-1zM5 10h1v1h-1zM6 11h1v1h-1zM19 11h1v1h-1zM1 14h1v1h-1zM19 14h1v1h-1zM1 15h1v1h-1zM1 16h1v1h-1zM1 17h1v1h-1zM20 19h1v1h-1zM22 20h1v1h-1zM12 23h1v1h-1z"/><path fill="#e4f498" d="M29 8h1v1h-1zM26 9h1v1h-1zM9 16h1v1h-1zM9 17h1v1h-1zM17 23h3v1h-3z"/><path fill="#fff7b2" d="M6 9h1v1h-1zM7 10h1v1h-1zM22 11h1v1h-1zM20 12h1v1h-1zM20 17h1v1h-1zM21 19h1v1h-1zM11 23h1v1h-1zM15 29h1v1h-1z"/><path fill="#fed884" d="M10 9h1v1h-1zM22 16h1v1h-1zM27 19h1v1h-1zM29 19h1v1h-1zM9 30h1v1h-1zM15 30h1v1h-1z"/><path fill="#e6f598" d="M23 9h1v1h-1zM11 14h1v1h-1zM14 15h1v1h-1zM14 18h1v1h-1zM11 19h3v1h-3zM21 22h1v1h-1zM18 28h1v1h-1z"/><path fill="#fcfeba" d="M4 10h1v1h-1zM21 10h1v1h-1zM27 10h1v1h-1zM16 11h2v1h-2zM5 12h1v1h-1zM9 12h1v1h-1zM19 18h1v1h-1zM1 19h1v1h-1zM5 21h2v1h-2zM29 21h1v1h-1zM5 23h1v1h-1zM17 29h1v1h-1z"/><path fill="#fffbb8" d="M6 10h1v1h-1zM15 10h1v1h-1zM8 11h1v1h-1zM20 11h1v1h-1zM20 18h1v1h-1zM7 29h1v1h-1z"/><path fill="#fee999" d="M11 10h1v1h-1zM28 11h1v1h-1zM21 15h1v1h-1zM21 16h1v1h-1zM11 24h1v1h-1zM17 30h1v1h-1z"/><path fill="#feefa3" d="M13 10h1v1h-1zM25 11h1v1h-1zM30 20h1v1h-1z"/><path fill="#fee797" d="M29 11h2v1h-2zM14 29h1v1h-1z"/><path fill="#fca85e" d="M29 13h1v1h-1zM24 15h1v1h-1zM24 16h1v1h-1z"/><path fill="#fdb96a" d="M31 13h1v1h-1zM13 30h1v1h-1z"/><path fill="#e7f59a" d="M12 14h1v1h-1zM15 17h1v1h-1zM22 30h1v1h-1z"/><path fill="#fb9d59" d="M25 14h1v1h-1z"/><path fill="#f88c51" d="M26 14h1v1h-1z"/><path fill="#f7844e" d="M27 14h1v1h-1z"/><path fill="#f7814c" d="M28 14h1v1h-1zM30 15h1v1h-1z"/><path fill="#f8864f" d="M29 14h1v1h-1zM30 16h1v1h-1z"/><path fill="#f99153" d="M30 14h1v1h-1zM25 16h1v1h-1zM29 17h1v1h-1z"/><path fill="#eaf79e" d="M15 15h1v1h-1zM15 19h1v1h-1zM12 20h3v1h-3zM20 22h1v1h-1zM5 25h1v1h-1zM19 28h1v1h-1z"/><path fill="#f98e52" d="M25 15h1v1h-1zM27 17h2v1h-2z"/><path fill="#f67c4a" d="M26 15h1v1h-1z"/><path fill="#f57245" d="M27 15h1v1h-1z"/><path fill="#f47044" d="M28 15h1v1h-1z"/><path fill="#f57748" d="M29 15h1v1h-1z"/><path fill="#f99355" d="M31 15h1v1h-1z"/><path fill="#d1ed9c" d="M12 16h1v1h-1zM23 22h1v1h-1zM25 22h1v1h-1zM19 25h1v1h-1zM19 26h1v1h-1zM24 28h1v1h-1z"/><path fill="#f67f4b" d="M26 16h1v1h-1z"/><path fill="#f57547" d="M27 16h2v1h-2z"/><path fill="#f67a49" d="M29 16h1v1h-1z"/><path fill="#fa9656" d="M31 16h1v1h-1zM26 17h1v1h-1z"/><path fill="#fba35c" d="M25 17h1v1h-1z"/><path fill="#fa9b58" d="M30 17h1v1h-1z"/><path fill="#fdb567" d="M29 18h1v1h-1zM10 27h1v1h-1zM10 29h1v1h-1z"/><path fill="#cdeb9d" d="M21 23h1v1h-1zM16 25h1v1h-1zM22 28h1v1h-1z"/><path fill="#acdda4" d="M23 23h1v1h-1zM3 24h1v1h-1zM23 26h1v1h-1z"/><path fill="#c1e6a0" d="M27 23h1v1h-1zM28 24h1v1h-1zM21 25h1v1h-1zM28 25h1v1h-1zM18 26h1v1h-1zM16 27h1v1h-1z"/><path fill="#bfe5a0" d="M21 24h1v1h-1zM16 26h1v1h-1zM26 26h1v1h-1zM17 27h1v1h-1zM23 27h1v1h-1z"/><path fill="#94d4a4" d="M23 24h1v1h-1z"/><path fill="#91d3a4" d="M24 24h1v1h-1z"/><path fill="#8cd1a4" d="M3 25h1v1h-1z"/><path fill="#fed07e" d="M10 25h1v1h-1z"/><path fill="#caea9e" d="M21 26h1v1h-1zM5 27h1v1h-1zM18 27h1v1h-1zM23 28h1v1h-1z"/><path fill="#fff3ac" d="M7 27h1v1h-1z"/><path fill="#fdbd6d" d="M12 31h2v1h-2z"/></svg><rect x="659.2" y="292.6" width="233.2" height="232.8" fill="none" stroke="#808070" stroke-width="1.4"/><svg x="156.0" y="537.2" width="233.2" height="232.8" viewBox="0 0 32 32" preserveAspectRatio="none" shape-rendering="crispEdges"><rect width="32" height="32" fill="#ffffbe"/><path fill="#fece7c" d="M12 0h1v1h-1zM19 0h1v1h-1zM10 1h1v1h-1zM21 1h1v1h-1zM8 4h1v1h-1zM23 4h1v1h-1zM8 27h1v1h-1zM23 27h1v1h-1zM10 30h1v1h-1zM21 30h1v1h-1zM12 31h1v1h-1zM19 31h1v1h-1z"/><path fill="#fdc574" d="M13 0h1v1h-1zM18 0h1v1h-1zM13 31h1v1h-1zM18 31h1v1h-1z"/><path fill="#fdbf6f" d="M14 0h1v1h-1zM17 0h1v1h-1zM11 1h1v1h-1zM20 1h1v1h-1zM9 3h1v1h-1zM22 3h1v1h-1zM9 6h1v1h-1zM22 6h1v1h-1zM9 25h1v1h-1zM22 25h1v1h-1zM9 28h1v1h-1zM22 28h1v1h-1zM11 30h1v1h-1zM20 30h1v1h-1zM14 31h1v1h-1zM17 31h1v1h-1z"/><path fill="#fdbb6c" d="M15 0h2v1h-2zM15 9h2v1h-2zM15 22h2v1h-2zM15 31h2v1h-2z"/><path fill="#fede89" d="M9 1h1v1h-1zM22 1h1v1h-1zM9 30h1v1h-1zM22 30h1v1h-1z"/><path fill="#fdb163" d="M12 1h1v1h-1zM19 1h1v1h-1zM12 30h1v1h-1zM19 30h1v1h-1z"/><path fill="#fba35c" d="M13 1h1v1h-1zM18 1h1v1h-1zM11 2h1v1h-1zM20 2h1v1h-1zM10 3h1v1h-1zM21 3h1v1h-1zM10 28h1v1h-1zM21 28h1v1h-1zM11 29h1v1h-1zM20 29h1v1h-1zM13 30h1v1h-1zM18 30h1v1h-1z"/><path fill="#fa9656" d="M14 1h1v1h-1zM17 1h1v1h-1zM14 30h1v1h-1zM17 30h1v1h-1z"/><path fill="#f99153" d="M15 1h2v1h-2zM10 5h1v1h-1zM21 5h1v1h-1zM10 26h1v1h-1zM21 26h1v1h-1zM15 30h2v1h-2z"/><path fill="#feea9b" d="M7 2h1v1h-1zM24 2h1v1h-1zM9 8h1v1h-1zM22 8h1v1h-1zM15 11h2v1h-2zM15 20h2v1h-2zM9 23h1v1h-1zM22 23h1v1h-1zM7 29h1v1h-1zM24 29h1v1h-1z"/><path fill="#fee08b" d="M8 2h1v1h-1zM23 2h1v1h-1zM13 10h1v1h-1zM18 10h1v1h-1zM13 21h1v1h-1zM18 21h1v1h-1zM8 29h1v1h-1zM23 29h1v1h-1z"/><path fill="#fecc7b" d="M9 2h1v1h-1zM22 2h1v1h-1zM12 9h1v1h-1zM19 9h1v1h-1zM12 22h1v1h-1zM19 22h1v1h-1zM9 29h1v1h-1zM22 29h1v1h-1z"/><path fill="#fdb96a" d="M10 2h1v1h-1zM21 2h1v1h-1zM10 29h1v1h-1zM21 29h1v1h-1z"/><path fill="#f88c51" d="M12 2h1v1h-1zM19 2h1v1h-1zM12 29h1v1h-1zM19 29h1v1h-1z"/><path fill="#f57748" d="M13 2h1v1h-1zM18 2h1v1h-1zM13 29h1v1h-1zM18 29h1v1h-1z"/><path fill="#f26944" d="M14 2h1v1h-1zM17 2h1v1h-1zM12 3h1v1h-1zM19 3h1v1h-1zM12 28h1v1h-1zM19 28h1v1h-1zM14 29h1v1h-1zM17 29h1v1h-1z"/><path fill="#ef6645" d="M15 2h2v1h-2zM12 6h1v1h-1zM19 6h1v1h-1zM12 25h1v1h-1zM19 25h1v1h-1zM15 29h2v1h-2z"/><path fill="#fff0a6" d="M6 3h1v1h-1zM25 3h1v1h-1zM6 4h1v1h-1zM25 4h1v1h-1zM7 6h1v1h-1zM24 6h1v1h-1zM7 25h1v1h-1zM24 25h1v1h-1zM6 27h1v1h-1zM25 27h1v1h-1zM6 28h1v1h-1zM25 28h1v1h-1z"/><path fill="#fee695" d="M7 3h1v1h-1zM24 3h1v1h-1zM12 10h1v1h-1zM19 10h1v1h-1zM12 21h1v1h-1zM19 21h1v1h-1zM7 28h1v1h-1zM24 28h1v1h-1z"/><path fill="#fed481" d="M8 3h1v1h-1zM23 3h1v1h-1zM9 7h1v1h-1zM22 7h1v1h-1zM9 24h1v1h-1zM22 24h1v1h-1zM8 28h1v1h-1zM23 28h1v1h-1z"/><path fill="#f7844e" d="M11 3h1v1h-1zM20 3h1v1h-1zM11 28h1v1h-1zM20 28h1v1h-1z"/><path fill="#e85b48" d="M13 3h1v1h-1zM18 3h1v1h-1zM12 4h1v1h-1zM19 4h1v1h-1zM12 27h1v1h-1zM19 27h1v1h-1zM13 28h1v1h-1zM18 28h1v1h-1z"/><path fill="#df4e4b" d="M14 3h1v1h-1zM17 3h1v1h-1zM14 28h1v1h-1zM17 28h1v1h-1z"/><path fill="#dc484c" d="M15 3h2v1h-2zM13 5h1v1h-1zM18 5h1v1h-1zM15 6h2v1h-2zM15 25h2v1h-2zM13 26h1v1h-1zM18 26h1v1h-1zM15 28h2v1h-2z"/><path fill="#fffab6" d="M5 4h1v1h-1zM26 4h1v1h-1zM15 13h2v1h-2zM15 18h2v1h-2zM5 27h1v1h-1zM26 27h1v1h-1z"/><path fill="#fee491" d="M7 4h1v1h-1zM24 4h1v1h-1zM7 27h1v1h-1zM24 27h1v1h-1z"/><path fill="#fdb567" d="M9 4h1v1h-1zM22 4h1v1h-1zM9 5h1v1h-1zM22 5h1v1h-1zM9 26h1v1h-1zM22 26h1v1h-1zM9 27h1v1h-1zM22 27h1v1h-1z"/><path fill="#f99355" d="M10 4h1v1h-1zM21 4h1v1h-1zM14 8h1v1h-1zM17 8h1v1h-1zM14 23h1v1h-1zM17 23h1v1h-1zM10 27h1v1h-1zM21 27h1v1h-1z"/><path fill="#f57245" d="M11 4h1v1h-1zM20 4h1v1h-1zM11 27h1v1h-1zM20 27h1v1h-1z"/><path fill="#dd4a4c" d="M13 4h1v1h-1zM18 4h1v1h-1zM13 27h1v1h-1zM18 27h1v1h-1z"/><path fill="#d63f4f" d="M14 4h1v1h-1zM17 4h1v1h-1zM14 27h1v1h-1zM17 27h1v1h-1z"/><path fill="#cd364d" d="M15 4h2v1h-2zM15 5h2v1h-2zM15 26h2v1h-2zM15 27h2v1h-2z"/><path fill="#fbfdb8" d="M4 5h1v1h-1zM27 5h1v1h-1zM13 15h1v1h-1zM18 15h1v1h-1zM13 16h1v1h-1zM18 16h1v1h-1zM4 26h1v1h-1zM27 26h1v1h-1z"/><path fill="#fff5ae" d="M6 5h1v1h-1zM25 5h1v1h-1zM14 12h1v1h-1zM17 12h1v1h-1zM14 19h1v1h-1zM17 19h1v1h-1zM6 26h1v1h-1zM25 26h1v1h-1z"/><path fill="#fee797" d="M7 5h1v1h-1zM24 5h1v1h-1zM7 26h1v1h-1zM24 26h1v1h-1z"/><path fill="#fed07e" d="M8 5h1v1h-1zM23 5h1v1h-1zM8 26h1v1h-1zM23 26h1v1h-1z"/><path fill="#f47044" d="M11 5h1v1h-1zM20 5h1v1h-1zM13 7h1v1h-1zM18 7h1v1h-1zM13 24h1v1h-1zM18 24h1v1h-1zM11 26h1v1h-1zM20 26h1v1h-1z"/><path fill="#e75948" d="M12 5h1v1h-1zM19 5h1v1h-1zM12 26h1v1h-1zM19 26h1v1h-1z"/><path fill="#d43d4f" d="M14 5h1v1h-1zM17 5h1v1h-1zM14 26h1v1h-1zM17 26h1v1h-1z"/><path fill="#f3faac" d="M3 6h2v1h-2zM27 6h2v1h-2zM6 7h1v1h-1zM25 7h1v1h-1zM6 24h1v1h-1zM25 24h1v1h-1zM3 25h2v1h-2zM27 25h2v1h-2z"/><path fill="#f7fcb2" d="M5 6h1v1h-1zM26 6h1v1h-1zM12 14h1v1h-1zM19 14h1v1h-1zM12 17h1v1h-1zM19 17h1v1h-1zM5 25h1v1h-1zM26 25h1v1h-1z"/><path fill="#fedc88" d="M8 6h1v1h-1zM23 6h1v1h-1zM11 9h1v1h-1zM20 9h1v1h-1zM11 22h1v1h-1zM20 22h1v1h-1zM8 25h1v1h-1zM23 25h1v1h-1z"/><path fill="#fba05b" d="M10 6h1v1h-1zM21 6h1v1h-1zM10 25h1v1h-1zM21 25h1v1h-1z"/><path fill="#f67c4a" d="M11 6h1v1h-1zM20 6h1v1h-1zM11 25h1v1h-1zM20 25h1v1h-1z"/><path fill="#e55749" d="M13 6h1v1h-1zM18 6h1v1h-1zM13 25h1v1h-1zM18 25h1v1h-1z"/><path fill="#de4c4b" d="M14 6h1v1h-1zM17 6h1v1h-1zM14 25h1v1h-1zM17 25h1v1h-1z"/><path fill="#eef8a4" d="M2 7h1v1h-1zM29 7h1v1h-1zM8 9h1v1h-1zM23 9h1v1h-1zM11 15h1v1h-1zM20 15h1v1h-1zM11 16h1v1h-1zM20 16h1v1h-1zM8 22h1v1h-1zM23 22h1v1h-1zM2 24h1v1h-1zM29 24h1v1h-1z"/><path fill="#ebf7a0" d="M3 7h1v1h-1zM28 7h1v1h-1zM10 12h1v1h-1zM21 12h1v1h-1zM10 19h1v1h-1zM21 19h1v1h-1zM3 24h1v1h-1zM28 24h1v1h-1z"/><path fill="#e9f69d" d="M4 7h1v1h-1zM27 7h1v1h-1zM4 24h1v1h-1zM27 24h1v1h-1z"/><path fill="#ecf7a1" d="M5 7h1v1h-1zM26 7h1v1h-1zM5 24h1v1h-1zM26 24h1v1h-1z"/><path fill="#feeb9d" d="M8 7h1v1h-1zM23 7h1v1h-1zM10 9h1v1h-1zM21 9h1v1h-1zM14 11h1v1h-1zM17 11h1v1h-1zM14 20h1v1h-1zM17 20h1v1h-1zM10 22h1v1h-1zM21 22h1v1h-1zM8 24h1v1h-1zM23 24h1v1h-1z"/><path fill="#fdb768" d="M10 7h1v1h-1zM21 7h1v1h-1zM10 24h1v1h-1zM21 24h1v1h-1z"/><path fill="#fa9b58" d="M11 7h1v1h-1zM20 7h1v1h-1zM13 8h1v1h-1zM18 8h1v1h-1zM13 23h1v1h-1zM18 23h1v1h-1zM11 24h1v1h-1zM20 24h1v1h-1z"/><path fill="#f7814c" d="M12 7h1v1h-1zM19 7h1v1h-1zM12 24h1v1h-1zM19 24h1v1h-1z"/><path fill="#f06744" d="M14 7h1v1h-1zM17 7h1v1h-1zM14 24h1v1h-1zM17 24h1v1h-1z"/><path fill="#ee6445" d="M15 7h2v1h-2zM15 24h2v1h-2z"/><path fill="#e6f598" d="M2 8h1v1h-1zM29 8h1v1h-1zM10 13h1v1h-1zM21 13h1v1h-1zM10 18h1v1h-1zM21 18h1v1h-1zM2 23h1v1h-1zM29 23h1v1h-1z"/><path fill="#d8ef9b" d="M3 8h1v1h-1zM28 8h1v1h-1zM7 9h1v1h-1zM24 9h1v1h-1zM7 22h1v1h-1zM24 22h1v1h-1zM3 23h1v1h-1zM28 23h1v1h-1z"/><path fill="#d1ed9c" d="M4 8h1v1h-1zM27 8h1v1h-1zM1 10h1v1h-1zM30 10h1v1h-1zM0 12h1v1h-1zM31 12h1v1h-1zM0 19h1v1h-1zM31 19h1v1h-1zM1 21h1v1h-1zM30 21h1v1h-1zM4 23h1v1h-1zM27 23h1v1h-1z"/><path fill="#d3ed9c" d="M5 8h1v1h-1zM26 8h1v1h-1zM5 23h1v1h-1zM26 23h1v1h-1z"/><path fill="#e1f399" d="M6 8h1v1h-1zM25 8h1v1h-1zM9 11h1v1h-1zM22 11h1v1h-1zM9 20h1v1h-1zM22 20h1v1h-1zM6 23h1v1h-1zM25 23h1v1h-1z"/><path fill="#eff9a6" d="M7 8h1v1h-1zM24 8h1v1h-1zM9 10h1v1h-1zM22 10h1v1h-1zM11 14h1v1h-1zM20 14h1v1h-1zM11 17h1v1h-1zM20 17h1v1h-1zM9 21h1v1h-1zM22 21h1v1h-1zM7 23h1v1h-1zM24 23h1v1h-1z"/><path fill="#fed27f" d="M10 8h1v1h-1zM21 8h1v1h-1zM10 23h1v1h-1zM21 23h1v1h-1z"/><path fill="#fdbd6d" d="M11 8h1v1h-1zM20 8h1v1h-1zM14 9h1v1h-1zM17 9h1v1h-1zM14 22h1v1h-1zM17 22h1v1h-1zM11 23h1v1h-1zM20 23h1v1h-1z"/><path fill="#fcaa5f" d="M12 8h1v1h-1zM19 8h1v1h-1zM12 23h1v1h-1zM19 23h1v1h-1z"/><path fill="#f98e52" d="M15 8h2v1h-2zM15 23h2v1h-2z"/><path fill="#e4f498" d="M1 9h1v1h-1zM30 9h1v1h-1zM1 22h1v1h-1zM30 22h1v1h-1z"/><path fill="#cfec9d" d="M2 9h1v1h-1zM29 9h1v1h-1zM9 12h1v1h-1zM22 12h1v1h-1zM9 19h1v1h-1zM22 19h1v1h-1zM2 22h1v1h-1zM29 22h1v1h-1z"/><path fill="#bfe5a0" d="M3 9h1v1h-1zM6 9h1v1h-1zM25 9h1v1h-1zM28 9h1v1h-1zM1 11h1v1h-1zM30 11h1v1h-1zM0 14h1v1h-1zM31 14h1v1h-1zM0 17h1v1h-1zM31 17h1v1h-1zM1 20h1v1h-1zM30 20h1v1h-1zM3 22h1v1h-1zM6 22h1v1h-1zM25 22h1v1h-1zM28 22h1v1h-1z"/><path fill="#b3e0a2" d="M4 9h2v1h-2zM26 9h2v1h-2zM4 22h2v1h-2zM26 22h2v1h-2z"/><path fill="#fdc372" d="M13 9h1v1h-1zM18 9h1v1h-1zM13 22h1v1h-1zM18 22h1v1h-1z"/><path fill="#b8e2a1" d="M2 10h1v1h-1zM29 10h1v1h-1zM2 21h1v1h-1zM29 21h1v1h-1z"/><path fill="#9fd8a4" d="M3 10h1v1h-1zM28 10h1v1h-1zM2 11h1v1h-1zM29 11h1v1h-1zM1 13h1v1h-1zM30 13h1v1h-1zM1 18h1v1h-1zM30 18h1v1h-1zM2 20h1v1h-1zM29 20h1v1h-1zM3 21h1v1h-1zM28 21h1v1h-1z"/><path fill="#8fd2a4" d="M4 10h1v1h-1zM27 10h1v1h-1zM8 14h1v1h-1zM23 14h1v1h-1zM8 17h1v1h-1zM23 17h1v1h-1zM4 21h1v1h-1zM27 21h1v1h-1z"/><path fill="#8cd1a4" d="M5 10h1v1h-1zM26 10h1v1h-1zM1 15h1v1h-1zM30 15h1v1h-1zM1 16h1v1h-1zM30 16h1v1h-1zM5 21h1v1h-1zM26 21h1v1h-1z"/><path fill="#9cd7a4" d="M6 10h1v1h-1zM25 10h1v1h-1zM6 21h1v1h-1zM25 21h1v1h-1z"/><path fill="#b5e1a2" d="M7 10h1v1h-1zM24 10h1v1h-1zM7 21h1v1h-1zM24 21h1v1h-1z"/><path fill="#d6ee9b" d="M8 10h1v1h-1zM23 10h1v1h-1zM8 21h1v1h-1zM23 21h1v1h-1z"/><path fill="#feefa3" d="M11 10h1v1h-1zM20 10h1v1h-1zM13 11h1v1h-1zM18 11h1v1h-1zM13 20h1v1h-1zM18 20h1v1h-1zM11 21h1v1h-1zM20 21h1v1h-1z"/><path fill="#feda86" d="M14 10h1v1h-1zM17 10h1v1h-1zM14 21h1v1h-1zM17 21h1v1h-1z"/><path fill="#fed884" d="M15 10h2v1h-2zM15 21h2v1h-2z"/><path fill="#7ecca5" d="M3 11h1v1h-1zM28 11h1v1h-1zM3 20h1v1h-1zM28 20h1v1h-1z"/><path fill="#6bc4a5" d="M4 11h1v1h-1zM27 11h1v1h-1zM4 20h1v1h-1zM27 20h1v1h-1z"/><path fill="#69c3a5" d="M5 11h1v1h-1zM26 11h1v1h-1zM7 13h1v1h-1zM24 13h1v1h-1zM7 18h1v1h-1zM24 18h1v1h-1zM5 20h1v1h-1zM26 20h1v1h-1z"/><path fill="#76c8a5" d="M6 11h1v1h-1zM25 11h1v1h-1zM6 20h1v1h-1zM25 20h1v1h-1z"/><path fill="#97d5a4" d="M7 11h1v1h-1zM24 11h1v1h-1zM8 13h1v1h-1zM23 13h1v1h-1zM8 18h1v1h-1zM23 18h1v1h-1zM7 20h1v1h-1zM24 20h1v1h-1z"/><path fill="#bce4a0" d="M8 11h1v1h-1zM23 11h1v1h-1zM9 14h1v1h-1zM22 14h1v1h-1zM9 17h1v1h-1zM22 17h1v1h-1zM8 20h1v1h-1zM23 20h1v1h-1z"/><path fill="#f2faaa" d="M10 11h1v1h-1zM21 11h1v1h-1zM11 13h1v1h-1zM20 13h1v1h-1zM11 18h1v1h-1zM20 18h1v1h-1zM10 20h1v1h-1zM21 20h1v1h-1z"/><path fill="#fff3ac" d="M12 11h1v1h-1zM19 11h1v1h-1zM15 12h2v1h-2zM15 19h2v1h-2zM12 20h1v1h-1zM19 20h1v1h-1z"/><path fill="#aedea3" d="M1 12h1v1h-1zM30 12h1v1h-1zM1 19h1v1h-1zM30 19h1v1h-1z"/><path fill="#86cfa5" d="M2 12h1v1h-1zM29 12h1v1h-1zM2 19h1v1h-1zM29 19h1v1h-1z"/><path fill="#62bda7" d="M3 12h1v1h-1zM28 12h1v1h-1zM2 14h1v1h-1zM29 14h1v1h-1zM2 17h1v1h-1zM29 17h1v1h-1zM3 19h1v1h-1zM28 19h1v1h-1z"/><path fill="#52abae" d="M4 12h1v1h-1zM27 12h1v1h-1zM3 13h1v1h-1zM28 13h1v1h-1zM3 18h1v1h-1zM28 18h1v1h-1zM4 19h1v1h-1zM27 19h1v1h-1z"/><path fill="#50a9af" d="M5 12h1v1h-1zM26 12h1v1h-1zM5 19h1v1h-1zM26 19h1v1h-1z"/><path fill="#5eb9a9" d="M6 12h1v1h-1zM25 12h1v1h-1zM2 15h1v1h-1zM29 15h1v1h-1zM2 16h1v1h-1zM29 16h1v1h-1zM6 19h1v1h-1zM25 19h1v1h-1z"/><path fill="#7ccaa5" d="M7 12h1v1h-1zM24 12h1v1h-1zM7 19h1v1h-1zM24 19h1v1h-1z"/><path fill="#a7dba4" d="M8 12h1v1h-1zM23 12h1v1h-1zM8 19h1v1h-1zM23 19h1v1h-1z"/><path fill="#f6fbb0" d="M11 12h1v1h-1zM20 12h1v1h-1zM12 15h1v1h-1zM19 15h1v1h-1zM12 16h1v1h-1zM19 16h1v1h-1zM11 19h1v1h-1zM20 19h1v1h-1z"/><path fill="#fff8b4" d="M13 12h1v1h-1zM18 12h1v1h-1zM13 19h1v1h-1zM18 19h1v1h-1z"/><path fill="#c6e89f" d="M0 13h1v1h-1zM31 13h1v1h-1zM0 18h1v1h-1zM31 18h1v1h-1z"/><path fill="#71c6a5" d="M2 13h1v1h-1zM29 13h1v1h-1zM2 18h1v1h-1zM29 18h1v1h-1z"/><path fill="#3f97b7" d="M4 13h1v1h-1zM27 13h1v1h-1zM4 18h1v1h-1zM27 18h1v1h-1z"/><path fill="#3d95b8" d="M5 13h1v1h-1zM26 13h1v1h-1zM3 15h1v1h-1zM6 15h1v1h-1zM25 15h1v1h-1zM28 15h1v1h-1zM3 16h1v1h-1zM6 16h1v1h-1zM25 16h1v1h-1zM28 16h1v1h-1zM5 18h1v1h-1zM26 18h1v1h-1z"/><path fill="#4ea7b0" d="M6 13h1v1h-1zM25 13h1v1h-1zM6 18h1v1h-1zM25 18h1v1h-1z"/><path fill="#c3e79f" d="M9 13h1v1h-1zM22 13h1v1h-1zM9 18h1v1h-1zM22 18h1v1h-1z"/><path fill="#fafdb7" d="M12 13h1v1h-1zM19 13h1v1h-1zM12 18h1v1h-1zM19 18h1v1h-1z"/><path fill="#fffbb8" d="M14 13h1v1h-1zM17 13h1v1h-1zM14 18h1v1h-1zM17 18h1v1h-1z"/><path fill="#91d3a4" d="M1 14h1v1h-1zM30 14h1v1h-1zM1 17h1v1h-1zM30 17h1v1h-1z"/><path fill="#439bb5" d="M3 14h1v1h-1zM28 14h1v1h-1zM3 17h1v1h-1zM28 17h1v1h-1z"/><path fill="#3389bd" d="M4 14h1v1h-1zM27 14h1v1h-1zM4 17h1v1h-1zM27 17h1v1h-1z"/><path fill="#3387bc" d="M5 14h1v1h-1zM26 14h1v1h-1zM5 17h1v1h-1zM26 17h1v1h-1z"/><path fill="#4199b6" d="M6 14h1v1h-1zM25 14h1v1h-1zM6 17h1v1h-1zM25 17h1v1h-1z"/><path fill="#60bba8" d="M7 14h1v1h-1zM24 14h1v1h-1zM7 17h1v1h-1zM24 17h1v1h-1z"/><path fill="#dff299" d="M10 14h1v1h-1zM21 14h1v1h-1zM10 17h1v1h-1zM21 17h1v1h-1z"/><path fill="#fcfeba" d="M13 14h1v1h-1zM18 14h1v1h-1zM13 17h1v1h-1zM18 17h1v1h-1z"/><path fill="#fffdbc" d="M15 14h2v1h-2zM15 17h2v1h-2z"/><path fill="#bae3a1" d="M0 15h1v1h-1zM9 15h1v1h-1zM22 15h1v1h-1zM31 15h1v1h-1zM0 16h1v1h-1zM9 16h1v1h-1zM22 16h1v1h-1zM31 16h1v1h-1z"/><path fill="#3880b9" d="M4 15h2v1h-2zM26 15h2v1h-2zM4 16h2v1h-2zM26 16h2v1h-2z"/><path fill="#5cb7aa" d="M7 15h1v1h-1zM24 15h1v1h-1zM7 16h1v1h-1zM24 16h1v1h-1z"/><path fill="#89d0a4" d="M8 15h1v1h-1zM23 15h1v1h-1zM8 16h1v1h-1zM23 16h1v1h-1z"/><path fill="#ddf19a" d="M10 15h1v1h-1zM21 15h1v1h-1zM10 16h1v1h-1zM21 16h1v1h-1z"/><path fill="#fefebd" d="M14 15h1v1h-1zM17 15h1v1h-1zM14 16h1v1h-1zM17 16h1v1h-1z"/></svg><rect x="156.0" y="537.2" width="233.2" height="232.8" fill="none" stroke="#808070" stroke-width="1.4"/><svg x="407.6" y="537.2" width="233.2" height="232.8" viewBox="0 0 32 32" preserveAspectRatio="none" shape-rendering="crispEdges"><rect width="32" height="32" fill="#ffffbe"/><path fill="#e1504b" d="M12 0h1v1h-1zM19 0h1v1h-1zM13 1h1v1h-1zM18 1h1v1h-1zM15 2h2v1h-2zM15 29h2v1h-2zM13 30h1v1h-1zM18 30h1v1h-1zM12 31h1v1h-1zM19 31h1v1h-1z"/><path fill="#dc484c" d="M13 0h1v1h-1zM18 0h1v1h-1zM14 1h1v1h-1zM17 1h1v1h-1zM14 30h1v1h-1zM17 30h1v1h-1zM13 31h1v1h-1zM18 31h1v1h-1z"/><path fill="#d7414e" d="M14 0h1v1h-1zM17 0h1v1h-1zM14 31h1v1h-1zM17 31h1v1h-1z"/><path fill="#d63f4f" d="M15 0h2v1h-2zM15 31h2v1h-2z"/><path fill="#f8864f" d="M9 1h1v1h-1zM22 1h1v1h-1zM14 5h1v1h-1zM17 5h1v1h-1zM14 26h1v1h-1zM17 26h1v1h-1zM9 30h1v1h-1zM22 30h1v1h-1z"/><path fill="#f57245" d="M10 1h1v1h-1zM21 1h1v1h-1zM10 30h1v1h-1zM21 30h1v1h-1z"/><path fill="#ee6445" d="M11 1h1v1h-1zM20 1h1v1h-1zM11 30h1v1h-1zM20 30h1v1h-1z"/><path fill="#e75948" d="M12 1h1v1h-1zM19 1h1v1h-1zM13 2h1v1h-1zM18 2h1v1h-1zM13 29h1v1h-1zM18 29h1v1h-1zM12 30h1v1h-1zM19 30h1v1h-1z"/><path fill="#da464d" d="M15 1h2v1h-2zM15 30h2v1h-2z"/><path fill="#fdbf6f" d="M7 2h1v1h-1zM24 2h1v1h-1zM7 29h1v1h-1zM24 29h1v1h-1z"/><path fill="#fdad60" d="M8 2h1v1h-1zM23 2h1v1h-1zM8 29h1v1h-1zM23 29h1v1h-1z"/><path fill="#fa9656" d="M9 2h1v1h-1zM22 2h1v1h-1zM9 29h1v1h-1zM22 29h1v1h-1z"/><path fill="#f7814c" d="M10 2h1v1h-1zM21 2h1v1h-1zM15 5h2v1h-2zM15 26h2v1h-2zM10 29h1v1h-1zM21 29h1v1h-1z"/><path fill="#f46d43" d="M11 2h1v1h-1zM20 2h1v1h-1zM11 29h1v1h-1zM20 29h1v1h-1z"/><path fill="#ed6246" d="M12 2h1v1h-1zM19 2h1v1h-1zM12 29h1v1h-1zM19 29h1v1h-1z"/><path fill="#e3534a" d="M14 2h1v1h-1zM17 2h1v1h-1zM14 29h1v1h-1zM17 29h1v1h-1z"/><path fill="#fee08b" d="M6 3h1v1h-1zM25 3h1v1h-1zM6 28h1v1h-1zM25 28h1v1h-1z"/><path fill="#fecc7b" d="M7 3h1v1h-1zM24 3h1v1h-1zM10 6h1v1h-1zM21 6h1v1h-1zM13 8h1v1h-1zM18 8h1v1h-1zM13 23h1v1h-1zM18 23h1v1h-1zM10 25h1v1h-1zM21 25h1v1h-1zM7 28h1v1h-1zM24 28h1v1h-1z"/><path fill="#fdbb6c" d="M8 3h1v1h-1zM23 3h1v1h-1zM13 7h1v1h-1zM18 7h1v1h-1zM13 24h1v1h-1zM18 24h1v1h-1zM8 28h1v1h-1zM23 28h1v1h-1z"/><path fill="#fca85e" d="M9 3h1v1h-1zM22 3h1v1h-1zM10 4h1v1h-1zM21 4h1v1h-1zM10 27h1v1h-1zM21 27h1v1h-1zM9 28h1v1h-1zM22 28h1v1h-1z"/><path fill="#f99355" d="M10 3h1v1h-1zM21 3h1v1h-1zM11 4h1v1h-1zM20 4h1v1h-1zM11 27h1v1h-1zM20 27h1v1h-1zM10 28h1v1h-1zM21 28h1v1h-1z"/><path fill="#f67f4b" d="M11 3h1v1h-1zM20 3h1v1h-1zM11 28h1v1h-1zM20 28h1v1h-1z"/><path fill="#f47044" d="M12 3h1v1h-1zM19 3h1v1h-1zM14 4h1v1h-1zM17 4h1v1h-1zM14 27h1v1h-1zM17 27h1v1h-1zM12 28h1v1h-1zM19 28h1v1h-1z"/><path fill="#ef6645" d="M13 3h1v1h-1zM18 3h1v1h-1zM13 28h1v1h-1zM18 28h1v1h-1z"/><path fill="#eb6046" d="M14 3h1v1h-1zM17 3h1v1h-1zM14 28h1v1h-1zM17 28h1v1h-1z"/><path fill="#e95c47" d="M15 3h2v1h-2zM15 28h2v1h-2z"/><path fill="#fff5ae" d="M5 4h1v1h-1zM26 4h1v1h-1zM9 8h1v1h-1zM22 8h1v1h-1zM10 9h1v1h-1zM21 9h1v1h-1zM14 12h1v1h-1zM17 12h1v1h-1zM14 19h1v1h-1zM17 19h1v1h-1zM10 22h1v1h-1zM21 22h1v1h-1zM9 23h1v1h-1zM22 23h1v1h-1zM5 27h1v1h-1zM26 27h1v1h-1z"/><path fill="#feea9b" d="M6 4h1v1h-1zM25 4h1v1h-1zM10 8h1v1h-1zM21 8h1v1h-1zM10 23h1v1h-1zM21 23h1v1h-1zM6 27h1v1h-1zM25 27h1v1h-1z"/><path fill="#fedc88" d="M7 4h1v1h-1zM24 4h1v1h-1zM8 5h1v1h-1zM23 5h1v1h-1zM9 6h1v1h-1zM22 6h1v1h-1zM9 25h1v1h-1zM22 25h1v1h-1zM8 26h1v1h-1zM23 26h1v1h-1zM7 27h1v1h-1zM24 27h1v1h-1z"/><path fill="#feca79" d="M8 4h1v1h-1zM23 4h1v1h-1zM9 5h1v1h-1zM22 5h1v1h-1zM9 26h1v1h-1zM22 26h1v1h-1zM8 27h1v1h-1zM23 27h1v1h-1z"/><path fill="#fdb96a" d="M9 4h1v1h-1zM22 4h1v1h-1zM10 5h1v1h-1zM21 5h1v1h-1zM10 26h1v1h-1zM21 26h1v1h-1zM9 27h1v1h-1zM22 27h1v1h-1z"/><path fill="#f7844e" d="M12 4h1v1h-1zM19 4h1v1h-1zM12 27h1v1h-1zM19 27h1v1h-1z"/><path fill="#f57748" d="M13 4h1v1h-1zM18 4h1v1h-1zM13 27h1v1h-1zM18 27h1v1h-1z"/><path fill="#f36b43" d="M15 4h2v1h-2zM15 27h2v1h-2z"/><path fill="#f7fcb2" d="M4 5h1v1h-1zM27 5h1v1h-1zM8 9h1v1h-1zM23 9h1v1h-1zM9 10h1v1h-1zM22 10h1v1h-1zM12 14h1v1h-1zM19 14h1v1h-1zM12 17h1v1h-1zM19 17h1v1h-1zM9 21h1v1h-1zM22 21h1v1h-1zM8 22h1v1h-1zM23 22h1v1h-1zM4 26h1v1h-1zM27 26h1v1h-1z"/><path fill="#fff3ac" d="M6 5h1v1h-1zM25 5h1v1h-1zM7 6h1v1h-1zM24 6h1v1h-1zM8 7h1v1h-1zM23 7h1v1h-1zM15 12h2v1h-2zM15 19h2v1h-2zM8 24h1v1h-1zM23 24h1v1h-1zM7 25h1v1h-1zM24 25h1v1h-1zM6 26h1v1h-1zM25 26h1v1h-1z"/><path fill="#fee999" d="M7 5h1v1h-1zM24 5h1v1h-1zM8 6h1v1h-1zM23 6h1v1h-1zM9 7h1v1h-1zM22 7h1v1h-1zM13 10h1v1h-1zM18 10h1v1h-1zM13 21h1v1h-1zM18 21h1v1h-1zM9 24h1v1h-1zM22 24h1v1h-1zM8 25h1v1h-1zM23 25h1v1h-1zM7 26h1v1h-1zM24 26h1v1h-1z"/><path fill="#fcaa5f" d="M11 5h1v1h-1zM20 5h1v1h-1zM11 26h1v1h-1zM20 26h1v1h-1z"/><path fill="#fa9b58" d="M12 5h1v1h-1zM19 5h1v1h-1zM12 26h1v1h-1zM19 26h1v1h-1z"/><path fill="#f98e52" d="M13 5h1v1h-1zM18 5h1v1h-1zM13 26h1v1h-1zM18 26h1v1h-1z"/><path fill="#e6f598" d="M3 6h1v1h-1zM28 6h1v1h-1zM3 25h1v1h-1zM28 25h1v1h-1z"/><path fill="#eef8a4" d="M4 6h1v1h-1zM27 6h1v1h-1zM8 10h1v1h-1zM23 10h1v1h-1zM8 21h1v1h-1zM23 21h1v1h-1zM4 25h1v1h-1zM27 25h1v1h-1z"/><path fill="#f6fbb0" d="M5 6h1v1h-1zM26 6h1v1h-1zM6 7h1v1h-1zM25 7h1v1h-1zM7 8h1v1h-1zM24 8h1v1h-1zM12 15h1v1h-1zM19 15h1v1h-1zM12 16h1v1h-1zM19 16h1v1h-1zM7 23h1v1h-1zM24 23h1v1h-1zM6 24h1v1h-1zM25 24h1v1h-1zM5 25h1v1h-1zM26 25h1v1h-1z"/><path fill="#fdbd6d" d="M11 6h1v1h-1zM20 6h1v1h-1zM11 25h1v1h-1zM20 25h1v1h-1z"/><path fill="#fdb163" d="M12 6h1v1h-1zM19 6h1v1h-1zM15 7h2v1h-2zM15 24h2v1h-2zM12 25h1v1h-1zM19 25h1v1h-1z"/><path fill="#fca55d" d="M13 6h1v1h-1zM18 6h1v1h-1zM13 25h1v1h-1zM18 25h1v1h-1z"/><path fill="#fb9d59" d="M14 6h1v1h-1zM17 6h1v1h-1zM14 25h1v1h-1zM17 25h1v1h-1z"/><path fill="#fa9857" d="M15 6h2v1h-2zM15 25h2v1h-2z"/><path fill="#bfe5a0" d="M2 7h1v1h-1zM29 7h1v1h-1zM2 24h1v1h-1zM29 24h1v1h-1z"/><path fill="#cfec9d" d="M3 7h1v1h-1zM28 7h1v1h-1zM6 10h1v1h-1zM25 10h1v1h-1zM8 13h1v1h-1zM23 13h1v1h-1zM8 18h1v1h-1zM23 18h1v1h-1zM6 21h1v1h-1zM25 21h1v1h-1zM3 24h1v1h-1zM28 24h1v1h-1z"/><path fill="#e1f399" d="M4 7h1v1h-1zM27 7h1v1h-1zM5 8h1v1h-1zM26 8h1v1h-1zM6 9h1v1h-1zM25 9h1v1h-1zM6 22h1v1h-1zM25 22h1v1h-1zM5 23h1v1h-1zM26 23h1v1h-1zM4 24h1v1h-1zM27 24h1v1h-1z"/><path fill="#edf8a3" d="M5 7h1v1h-1zM26 7h1v1h-1zM6 8h1v1h-1zM25 8h1v1h-1zM7 9h1v1h-1zM24 9h1v1h-1zM10 13h1v1h-1zM21 13h1v1h-1zM10 18h1v1h-1zM21 18h1v1h-1zM7 22h1v1h-1zM24 22h1v1h-1zM6 23h1v1h-1zM25 23h1v1h-1zM5 24h1v1h-1zM26 24h1v1h-1z"/><path fill="#fede89" d="M10 7h1v1h-1zM21 7h1v1h-1zM13 9h1v1h-1zM18 9h1v1h-1zM13 22h1v1h-1zM18 22h1v1h-1zM10 24h1v1h-1zM21 24h1v1h-1z"/><path fill="#fed07e" d="M11 7h1v1h-1zM20 7h1v1h-1zM11 24h1v1h-1zM20 24h1v1h-1z"/><path fill="#fdc372" d="M12 7h1v1h-1zM19 7h1v1h-1zM15 8h2v1h-2zM15 23h2v1h-2zM12 24h1v1h-1zM19 24h1v1h-1z"/><path fill="#fdb365" d="M14 7h1v1h-1zM17 7h1v1h-1zM14 24h1v1h-1zM17 24h1v1h-1z"/><path fill="#aadca4" d="M2 8h1v1h-1zM29 8h1v1h-1zM2 23h1v1h-1zM29 23h1v1h-1z"/><path fill="#bae3a1" d="M3 8h1v1h-1zM28 8h1v1h-1zM7 13h1v1h-1zM24 13h1v1h-1zM7 18h1v1h-1zM24 18h1v1h-1zM3 23h1v1h-1zM28 23h1v1h-1z"/><path fill="#cdeb9d" d="M4 8h1v1h-1zM27 8h1v1h-1zM5 9h1v1h-1zM26 9h1v1h-1zM5 22h1v1h-1zM26 22h1v1h-1zM4 23h1v1h-1zM27 23h1v1h-1z"/><path fill="#fee18d" d="M11 8h1v1h-1zM20 8h1v1h-1zM11 23h1v1h-1zM20 23h1v1h-1z"/><path fill="#fed683" d="M12 8h1v1h-1zM19 8h1v1h-1zM12 23h1v1h-1zM19 23h1v1h-1z"/><path fill="#fdc776" d="M14 8h1v1h-1zM17 8h1v1h-1zM14 23h1v1h-1zM17 23h1v1h-1z"/><path fill="#81cda5" d="M1 9h1v1h-1zM30 9h1v1h-1zM5 14h1v1h-1zM26 14h1v1h-1zM5 17h1v1h-1zM26 17h1v1h-1zM1 22h1v1h-1zM30 22h1v1h-1z"/><path fill="#91d3a4" d="M2 9h1v1h-1zM29 9h1v1h-1zM2 22h1v1h-1zM29 22h1v1h-1z"/><path fill="#a4daa4" d="M3 9h1v1h-1zM28 9h1v1h-1zM4 10h1v1h-1zM27 10h1v1h-1zM4 21h1v1h-1zM27 21h1v1h-1zM3 22h1v1h-1zM28 22h1v1h-1z"/><path fill="#b8e2a1" d="M4 9h1v1h-1zM27 9h1v1h-1zM5 10h1v1h-1zM26 10h1v1h-1zM5 21h1v1h-1zM26 21h1v1h-1zM4 22h1v1h-1zM27 22h1v1h-1z"/><path fill="#feec9f" d="M11 9h1v1h-1zM20 9h1v1h-1zM15 11h2v1h-2zM15 20h2v1h-2zM11 22h1v1h-1zM20 22h1v1h-1z"/><path fill="#fee593" d="M12 9h1v1h-1zM19 9h1v1h-1zM14 10h1v1h-1zM17 10h1v1h-1zM14 21h1v1h-1zM17 21h1v1h-1zM12 22h1v1h-1zM19 22h1v1h-1z"/><path fill="#fed884" d="M14 9h1v1h-1zM17 9h1v1h-1zM14 22h1v1h-1zM17 22h1v1h-1z"/><path fill="#fed481" d="M15 9h2v1h-2zM15 22h2v1h-2z"/><path fill="#6bc4a5" d="M1 10h1v1h-1zM30 10h1v1h-1zM1 21h1v1h-1zM30 21h1v1h-1z"/><path fill="#7ccaa5" d="M2 10h1v1h-1zM29 10h1v1h-1zM5 15h1v1h-1zM26 15h1v1h-1zM5 16h1v1h-1zM26 16h1v1h-1zM2 21h1v1h-1zM29 21h1v1h-1z"/><path fill="#8fd2a4" d="M3 10h1v1h-1zM28 10h1v1h-1zM4 11h1v1h-1zM27 11h1v1h-1zM4 20h1v1h-1zM27 20h1v1h-1zM3 21h1v1h-1zM28 21h1v1h-1z"/><path fill="#e4f498" d="M7 10h1v1h-1zM24 10h1v1h-1zM9 13h1v1h-1zM22 13h1v1h-1zM9 18h1v1h-1zM22 18h1v1h-1zM7 21h1v1h-1zM24 21h1v1h-1z"/><path fill="#fff6b0" d="M11 10h1v1h-1zM20 10h1v1h-1zM11 21h1v1h-1zM20 21h1v1h-1z"/><path fill="#feefa3" d="M12 10h1v1h-1zM19 10h1v1h-1zM12 21h1v1h-1zM19 21h1v1h-1z"/><path fill="#fee28f" d="M15 10h2v1h-2zM15 21h2v1h-2z"/><path fill="#5cb7aa" d="M1 11h1v1h-1zM30 11h1v1h-1zM1 20h1v1h-1zM30 20h1v1h-1z"/><path fill="#66c2a5" d="M2 11h1v1h-1zM29 11h1v1h-1zM2 20h1v1h-1zM29 20h1v1h-1z"/><path fill="#79c9a5" d="M3 11h1v1h-1zM28 11h1v1h-1zM3 20h1v1h-1zM28 20h1v1h-1z"/><path fill="#a7dba4" d="M5 11h1v1h-1zM26 11h1v1h-1zM5 20h1v1h-1zM26 20h1v1h-1z"/><path fill="#bce4a0" d="M6 11h1v1h-1zM25 11h1v1h-1zM6 20h1v1h-1zM25 20h1v1h-1z"/><path fill="#d3ed9c" d="M7 11h1v1h-1zM24 11h1v1h-1zM7 20h1v1h-1zM24 20h1v1h-1z"/><path fill="#e7f59a" d="M8 11h1v1h-1zM23 11h1v1h-1zM8 20h1v1h-1zM23 20h1v1h-1z"/><path fill="#f0f9a7" d="M9 11h1v1h-1zM22 11h1v1h-1zM11 15h1v1h-1zM20 15h1v1h-1zM11 16h1v1h-1zM20 16h1v1h-1zM9 20h1v1h-1zM22 20h1v1h-1z"/><path fill="#f8fcb4" d="M10 11h1v1h-1zM21 11h1v1h-1zM10 20h1v1h-1zM21 20h1v1h-1z"/><path fill="#fff7b2" d="M12 11h1v1h-1zM19 11h1v1h-1zM12 20h1v1h-1zM19 20h1v1h-1z"/><path fill="#fff2aa" d="M13 11h1v1h-1zM18 11h1v1h-1zM13 20h1v1h-1zM18 20h1v1h-1z"/><path fill="#feeda1" d="M14 11h1v1h-1zM17 11h1v1h-1zM14 20h1v1h-1zM17 20h1v1h-1z"/><path fill="#459eb4" d="M0 12h1v1h-1zM31 12h1v1h-1zM1 13h1v1h-1zM30 13h1v1h-1zM2 15h1v1h-1zM29 15h1v1h-1zM2 16h1v1h-1zM29 16h1v1h-1zM1 18h1v1h-1zM30 18h1v1h-1zM0 19h1v1h-1zM31 19h1v1h-1z"/><path fill="#50a9af" d="M1 12h1v1h-1zM30 12h1v1h-1zM2 13h1v1h-1zM29 13h1v1h-1zM2 18h1v1h-1zM29 18h1v1h-1zM1 19h1v1h-1zM30 19h1v1h-1z"/><path fill="#5ab4ab" d="M2 12h1v1h-1zM29 12h1v1h-1zM2 19h1v1h-1zM29 19h1v1h-1z"/><path fill="#69c3a5" d="M3 12h1v1h-1zM28 12h1v1h-1zM4 14h1v1h-1zM27 14h1v1h-1zM4 17h1v1h-1zM27 17h1v1h-1zM3 19h1v1h-1zM28 19h1v1h-1z"/><path fill="#7ecca5" d="M4 12h1v1h-1zM27 12h1v1h-1zM4 19h1v1h-1zM27 19h1v1h-1z"/><path fill="#97d5a4" d="M5 12h1v1h-1zM26 12h1v1h-1zM5 19h1v1h-1zM26 19h1v1h-1z"/><path fill="#aedea3" d="M6 12h1v1h-1zM25 12h1v1h-1zM7 15h1v1h-1zM24 15h1v1h-1zM7 16h1v1h-1zM24 16h1v1h-1zM6 19h1v1h-1zM25 19h1v1h-1z"/><path fill="#c3e79f" d="M7 12h1v1h-1zM24 12h1v1h-1zM8 15h1v1h-1zM23 15h1v1h-1zM8 16h1v1h-1zM23 16h1v1h-1zM7 19h1v1h-1zM24 19h1v1h-1z"/><path fill="#daf09a" d="M8 12h1v1h-1zM23 12h1v1h-1zM8 19h1v1h-1zM23 19h1v1h-1z"/><path fill="#eaf79e" d="M9 12h1v1h-1zM22 12h1v1h-1zM10 14h1v1h-1zM21 14h1v1h-1zM10 17h1v1h-1zM21 17h1v1h-1zM9 19h1v1h-1zM22 19h1v1h-1z"/><path fill="#f2faaa" d="M10 12h1v1h-1zM21 12h1v1h-1zM10 19h1v1h-1zM21 19h1v1h-1z"/><path fill="#f9fcb5" d="M11 12h1v1h-1zM20 12h1v1h-1zM11 19h1v1h-1zM20 19h1v1h-1z"/><path fill="#fffab6" d="M13 12h1v1h-1zM18 12h1v1h-1zM15 13h2v1h-2zM15 18h2v1h-2zM13 19h1v1h-1zM18 19h1v1h-1z"/><path fill="#3d95b8" d="M0 13h1v1h-1zM31 13h1v1h-1zM1 14h1v1h-1zM30 14h1v1h-1zM1 17h1v1h-1zM30 17h1v1h-1zM0 18h1v1h-1zM31 18h1v1h-1z"/><path fill="#5eb9a9" d="M3 13h1v1h-1zM28 13h1v1h-1zM3 18h1v1h-1zM28 18h1v1h-1z"/><path fill="#71c6a5" d="M4 13h1v1h-1zM27 13h1v1h-1zM4 18h1v1h-1zM27 18h1v1h-1z"/><path fill="#89d0a4" d="M5 13h1v1h-1zM26 13h1v1h-1zM5 18h1v1h-1zM26 18h1v1h-1z"/><path fill="#a2d9a4" d="M6 13h1v1h-1zM25 13h1v1h-1zM6 18h1v1h-1zM25 18h1v1h-1z"/><path fill="#f5fbaf" d="M11 13h1v1h-1zM20 13h1v1h-1zM11 18h1v1h-1zM20 18h1v1h-1z"/><path fill="#fbfdb8" d="M12 13h1v1h-1zM19 13h1v1h-1zM13 15h1v1h-1zM18 15h1v1h-1zM13 16h1v1h-1zM18 16h1v1h-1zM12 18h1v1h-1zM19 18h1v1h-1z"/><path fill="#fffbb8" d="M14 13h1v1h-1zM17 13h1v1h-1zM14 18h1v1h-1zM17 18h1v1h-1z"/><path fill="#358bbc" d="M0 14h1v1h-1zM31 14h1v1h-1zM0 17h1v1h-1zM31 17h1v1h-1z"/><path fill="#49a2b2" d="M2 14h1v1h-1zM29 14h1v1h-1zM2 17h1v1h-1zM29 17h1v1h-1z"/><path fill="#58b2ac" d="M3 14h1v1h-1zM28 14h1v1h-1zM3 17h1v1h-1zM28 17h1v1h-1z"/><path fill="#99d6a4" d="M6 14h1v1h-1zM25 14h1v1h-1zM6 17h1v1h-1zM25 17h1v1h-1z"/><path fill="#b1dfa3" d="M7 14h1v1h-1zM24 14h1v1h-1zM7 17h1v1h-1zM24 17h1v1h-1z"/><path fill="#c8e99e" d="M8 14h1v1h-1zM23 14h1v1h-1zM8 17h1v1h-1zM23 17h1v1h-1z"/><path fill="#ddf19a" d="M9 14h1v1h-1zM22 14h1v1h-1zM9 17h1v1h-1zM22 17h1v1h-1z"/><path fill="#f1f9a9" d="M11 14h1v1h-1zM20 14h1v1h-1zM11 17h1v1h-1zM20 17h1v1h-1z"/><path fill="#fcfeba" d="M13 14h1v1h-1zM18 14h1v1h-1zM13 17h1v1h-1zM18 17h1v1h-1z"/><path fill="#fffdbc" d="M15 14h2v1h-2zM15 17h2v1h-2z"/><path fill="#3389bd" d="M0 15h1v1h-1zM31 15h1v1h-1zM0 16h1v1h-1zM31 16h1v1h-1z"/><path fill="#3b92b9" d="M1 15h1v1h-1zM30 15h1v1h-1zM1 16h1v1h-1zM30 16h1v1h-1z"/><path fill="#54aead" d="M3 15h1v1h-1zM28 15h1v1h-1zM3 16h1v1h-1zM28 16h1v1h-1z"/><path fill="#64c0a6" d="M4 15h1v1h-1zM27 15h1v1h-1zM4 16h1v1h-1zM27 16h1v1h-1z"/><path fill="#94d4a4" d="M6 15h1v1h-1zM25 15h1v1h-1zM6 16h1v1h-1zM25 16h1v1h-1z"/><path fill="#d8ef9b" d="M9 15h1v1h-1zM22 15h1v1h-1zM9 16h1v1h-1zM22 16h1v1h-1z"/><path fill="#e8f69b" d="M10 15h1v1h-1zM21 15h1v1h-1zM10 16h1v1h-1zM21 16h1v1h-1z"/><path fill="#fefebd" d="M14 15h1v1h-1zM17 15h1v1h-1zM14 16h1v1h-1zM17 16h1v1h-1z"/></svg><rect x="407.6" y="537.2" width="233.2" height="232.8" fill="none" stroke="#808070" stroke-width="1.4"/><svg x="659.2" y="537.2" width="233.2" height="232.8" viewBox="0 0 32 32" preserveAspectRatio="none" shape-rendering="crispEdges"><rect width="32" height="32" fill="#ffffbe"/><path fill="#99d6a4" d="M12 0h8v1h-8zM12 31h8v1h-8z"/><path fill="#c6e89f" d="M9 1h1v1h-1zM11 1h1v1h-1zM20 1h1v1h-1zM22 1h1v1h-1zM9 30h1v1h-1zM11 30h1v1h-1zM20 30h1v1h-1zM22 30h1v1h-1z"/><path fill="#c3e79f" d="M10 1h1v1h-1zM21 1h1v1h-1zM10 30h1v1h-1zM21 30h1v1h-1z"/><path fill="#c8e99e" d="M12 1h1v1h-1zM19 1h1v1h-1zM12 30h1v1h-1zM19 30h1v1h-1z"/><path fill="#caea9e" d="M13 1h1v1h-1zM18 1h1v1h-1zM6 15h1v1h-1zM25 15h1v1h-1zM6 16h1v1h-1zM25 16h1v1h-1zM13 30h1v1h-1zM18 30h1v1h-1z"/><path fill="#cfec9d" d="M14 1h4v1h-4zM5 14h1v1h-1zM26 14h1v1h-1zM5 17h1v1h-1zM26 17h1v1h-1zM14 30h4v1h-4z"/><path fill="#e7f59a" d="M7 2h1v1h-1zM24 2h1v1h-1zM7 11h1v1h-1zM24 11h1v1h-1zM7 20h1v1h-1zM24 20h1v1h-1zM7 29h1v1h-1zM24 29h1v1h-1z"/><path fill="#e6f598" d="M8 2h2v1h-2zM22 2h2v1h-2zM8 29h2v1h-2zM22 29h2v1h-2z"/><path fill="#e8f69b" d="M10 2h1v1h-1zM21 2h1v1h-1zM5 11h1v1h-1zM26 11h1v1h-1zM4 13h1v1h-1zM27 13h1v1h-1zM4 18h1v1h-1zM27 18h1v1h-1zM5 20h1v1h-1zM26 20h1v1h-1zM10 29h1v1h-1zM21 29h1v1h-1z"/><path fill="#ebf7a0" d="M11 2h1v1h-1zM20 2h1v1h-1zM6 10h1v1h-1zM25 10h1v1h-1zM6 21h1v1h-1zM25 21h1v1h-1zM11 29h1v1h-1zM20 29h1v1h-1z"/><path fill="#eef8a4" d="M12 2h1v1h-1zM19 2h1v1h-1zM5 10h1v1h-1zM26 10h1v1h-1zM5 21h1v1h-1zM26 21h1v1h-1zM12 29h1v1h-1zM19 29h1v1h-1z"/><path fill="#f1f9a9" d="M13 2h1v1h-1zM18 2h1v1h-1zM7 3h1v1h-1zM24 3h1v1h-1zM6 9h1v1h-1zM25 9h1v1h-1zM8 10h1v1h-1zM23 10h1v1h-1zM9 13h1v1h-1zM22 13h1v1h-1zM9 18h1v1h-1zM22 18h1v1h-1zM8 21h1v1h-1zM23 21h1v1h-1zM6 22h1v1h-1zM25 22h1v1h-1zM7 28h1v1h-1zM24 28h1v1h-1zM13 29h1v1h-1zM18 29h1v1h-1z"/><path fill="#f3faac" d="M14 2h1v1h-1zM17 2h1v1h-1zM9 11h1v1h-1zM22 11h1v1h-1zM9 20h1v1h-1zM22 20h1v1h-1zM14 29h1v1h-1zM17 29h1v1h-1z"/><path fill="#f4faad" d="M15 2h2v1h-2zM3 15h1v1h-1zM28 15h1v1h-1zM3 16h1v1h-1zM28 16h1v1h-1zM15 29h2v1h-2z"/><path fill="#f2faaa" d="M6 3h1v1h-1zM8 3h1v1h-1zM23 3h1v1h-1zM25 3h1v1h-1zM7 9h1v1h-1zM24 9h1v1h-1zM4 11h1v1h-1zM27 11h1v1h-1zM9 12h1v1h-1zM22 12h1v1h-1zM9 14h1v1h-1zM22 14h1v1h-1zM9 15h1v1h-1zM22 15h1v1h-1zM9 16h1v1h-1zM22 16h1v1h-1zM9 17h1v1h-1zM22 17h1v1h-1zM9 19h1v1h-1zM22 19h1v1h-1zM4 20h1v1h-1zM27 20h1v1h-1zM7 22h1v1h-1zM24 22h1v1h-1zM6 28h1v1h-1zM8 28h1v1h-1zM23 28h1v1h-1zM25 28h1v1h-1z"/><path fill="#f5fbaf" d="M9 3h1v1h-1zM22 3h1v1h-1zM5 9h1v1h-1zM26 9h1v1h-1zM5 22h1v1h-1zM26 22h1v1h-1zM9 28h1v1h-1zM22 28h1v1h-1z"/><path fill="#f9fcb5" d="M10 3h1v1h-1zM21 3h1v1h-1zM7 8h1v1h-1zM24 8h1v1h-1zM3 13h1v1h-1zM28 13h1v1h-1zM10 14h1v1h-1zM21 14h1v1h-1zM10 17h1v1h-1zM21 17h1v1h-1zM3 18h1v1h-1zM28 18h1v1h-1zM7 23h1v1h-1zM24 23h1v1h-1zM10 28h1v1h-1zM21 28h1v1h-1z"/><path fill="#fefebd" d="M11 3h1v1h-1zM20 3h1v1h-1zM5 7h1v1h-1zM26 7h1v1h-1zM4 9h1v1h-1zM27 9h1v1h-1zM11 15h1v1h-1zM20 15h1v1h-1zM11 16h1v1h-1zM20 16h1v1h-1zM4 22h1v1h-1zM27 22h1v1h-1zM5 24h1v1h-1zM26 24h1v1h-1zM11 28h1v1h-1zM20 28h1v1h-1z"/><path fill="#fffcba" d="M12 3h1v1h-1zM19 3h1v1h-1zM4 8h1v1h-1zM27 8h1v1h-1zM12 11h3v1h-3zM17 11h3v1h-3zM12 20h3v1h-3zM17 20h3v1h-3zM4 23h1v1h-1zM27 23h1v1h-1zM12 28h1v1h-1zM19 28h1v1h-1z"/><path fill="#fff7b2" d="M13 3h1v1h-1zM18 3h1v1h-1zM8 7h1v1h-1zM23 7h1v1h-1zM3 10h1v1h-1zM14 10h1v1h-1zM17 10h1v1h-1zM28 10h1v1h-1zM3 21h1v1h-1zM14 21h1v1h-1zM17 21h1v1h-1zM28 21h1v1h-1zM8 24h1v1h-1zM23 24h1v1h-1zM13 28h1v1h-1zM18 28h1v1h-1z"/><path fill="#fff3ac" d="M14 3h1v1h-1zM17 3h1v1h-1zM14 28h1v1h-1zM17 28h1v1h-1z"/><path fill="#fff1a8" d="M15 3h2v1h-2zM2 15h1v1h-1zM29 15h1v1h-1zM2 16h1v1h-1zM29 16h1v1h-1zM15 28h2v1h-2z"/><path fill="#fcfeba" d="M5 4h1v1h-1zM26 4h1v1h-1zM6 7h1v1h-1zM25 7h1v1h-1zM6 24h1v1h-1zM25 24h1v1h-1zM5 27h1v1h-1zM26 27h1v1h-1z"/><path fill="#fafdb7" d="M6 4h2v1h-2zM24 4h2v1h-2zM5 8h1v1h-1zM26 8h1v1h-1zM10 11h1v1h-1zM21 11h1v1h-1zM10 15h1v1h-1zM21 15h1v1h-1zM10 16h1v1h-1zM21 16h1v1h-1zM10 20h1v1h-1zM21 20h1v1h-1zM5 23h1v1h-1zM26 23h1v1h-1zM6 27h2v1h-2zM24 27h2v1h-2z"/><path fill="#fdfebb" d="M8 4h1v1h-1zM23 4h1v1h-1zM3 12h1v1h-1zM11 12h1v1h-1zM20 12h1v1h-1zM28 12h1v1h-1zM11 13h1v1h-1zM20 13h1v1h-1zM11 14h1v1h-1zM20 14h1v1h-1zM11 17h1v1h-1zM20 17h1v1h-1zM11 18h1v1h-1zM20 18h1v1h-1zM3 19h1v1h-1zM11 19h1v1h-1zM20 19h1v1h-1zM28 19h1v1h-1zM8 27h1v1h-1zM23 27h1v1h-1z"/><path fill="#fffdbc" d="M9 4h1v1h-1zM22 4h1v1h-1zM7 5h1v1h-1zM24 5h1v1h-1zM3 11h1v1h-1zM15 11h2v1h-2zM28 11h1v1h-1zM3 20h1v1h-1zM15 20h2v1h-2zM28 20h1v1h-1zM7 26h1v1h-1zM24 26h1v1h-1zM9 27h1v1h-1zM22 27h1v1h-1z"/><path fill="#fff6b0" d="M10 4h1v1h-1zM21 4h1v1h-1zM10 9h1v1h-1zM21 9h1v1h-1zM12 10h2v1h-2zM18 10h2v1h-2zM12 21h2v1h-2zM18 21h2v1h-2zM10 22h1v1h-1zM21 22h1v1h-1zM10 27h1v1h-1zM21 27h1v1h-1z"/><path fill="#feefa3" d="M11 4h1v1h-1zM20 4h1v1h-1zM3 6h1v1h-1zM28 6h1v1h-1zM9 7h1v1h-1zM22 7h1v1h-1zM3 8h1v1h-1zM28 8h1v1h-1zM12 9h1v1h-1zM14 9h4v1h-4zM19 9h1v1h-1zM12 22h1v1h-1zM14 22h4v1h-4zM19 22h1v1h-1zM3 23h1v1h-1zM28 23h1v1h-1zM9 24h1v1h-1zM22 24h1v1h-1zM3 25h1v1h-1zM28 25h1v1h-1zM11 27h1v1h-1zM20 27h1v1h-1z"/><path fill="#fee999" d="M12 4h1v1h-1zM19 4h1v1h-1zM12 27h1v1h-1zM19 27h1v1h-1z"/><path fill="#fee28f" d="M13 4h1v1h-1zM18 4h1v1h-1zM11 5h1v1h-1zM20 5h1v1h-1zM2 10h1v1h-1zM29 10h1v1h-1zM2 21h1v1h-1zM29 21h1v1h-1zM11 26h1v1h-1zM20 26h1v1h-1zM13 27h1v1h-1zM18 27h1v1h-1z"/><path fill="#fede89" d="M14 4h1v1h-1zM17 4h1v1h-1zM11 6h1v1h-1zM20 6h1v1h-1zM11 25h1v1h-1zM20 25h1v1h-1zM14 27h1v1h-1zM17 27h1v1h-1z"/><path fill="#fedc88" d="M15 4h2v1h-2zM15 27h2v1h-2z"/><path fill="#fffbb8" d="M4 5h1v1h-1zM27 5h1v1h-1zM7 6h1v1h-1zM24 6h1v1h-1zM7 25h1v1h-1zM24 25h1v1h-1zM4 26h1v1h-1zM27 26h1v1h-1z"/><path fill="#fff8b4" d="M8 5h1v1h-1zM23 5h1v1h-1zM4 6h1v1h-1zM27 6h1v1h-1zM4 7h1v1h-1zM27 7h1v1h-1zM11 10h1v1h-1zM15 10h2v1h-2zM20 10h1v1h-1zM11 21h1v1h-1zM15 21h2v1h-2zM20 21h1v1h-1zM4 24h1v1h-1zM27 24h1v1h-1zM4 25h1v1h-1zM27 25h1v1h-1zM8 26h1v1h-1zM23 26h1v1h-1z"/><path fill="#fff2aa" d="M9 5h1v1h-1zM22 5h1v1h-1zM3 9h1v1h-1zM28 9h1v1h-1zM3 22h1v1h-1zM28 22h1v1h-1zM9 26h1v1h-1zM22 26h1v1h-1z"/><path fill="#feea9b" d="M10 5h1v1h-1zM21 5h1v1h-1zM2 12h1v1h-1zM29 12h1v1h-1zM2 19h1v1h-1zM29 19h1v1h-1zM10 26h1v1h-1zM21 26h1v1h-1z"/><path fill="#feda86" d="M12 5h1v1h-1zM19 5h1v1h-1zM12 7h1v1h-1zM19 7h1v1h-1zM12 24h1v1h-1zM19 24h1v1h-1zM12 26h1v1h-1zM19 26h1v1h-1z"/><path fill="#fed27f" d="M13 5h1v1h-1zM18 5h1v1h-1zM13 26h1v1h-1zM18 26h1v1h-1z"/><path fill="#fecc7b" d="M14 5h1v1h-1zM17 5h1v1h-1zM1 14h1v1h-1zM30 14h1v1h-1zM1 15h1v1h-1zM30 15h1v1h-1zM1 16h1v1h-1zM30 16h1v1h-1zM1 17h1v1h-1zM30 17h1v1h-1zM14 26h1v1h-1zM17 26h1v1h-1z"/><path fill="#feca79" d="M15 5h2v1h-2zM14 6h1v1h-1zM17 6h1v1h-1zM14 25h1v1h-1zM17 25h1v1h-1zM15 26h2v1h-2z"/><path fill="#fffebe" d="M5 6h1v1h-1zM26 6h1v1h-1zM13 12h2v1h-2zM17 12h2v1h-2zM14 13h1v1h-1zM17 13h1v1h-1zM15 14h2v1h-2zM12 15h2v1h-2zM18 15h2v1h-2zM12 16h2v1h-2zM18 16h2v1h-2zM15 17h2v1h-2zM14 18h1v1h-1zM17 18h1v1h-1zM13 19h2v1h-2zM17 19h2v1h-2zM5 25h1v1h-1zM26 25h1v1h-1z"/><path fill="#fff5ae" d="M8 6h1v1h-1zM23 6h1v1h-1zM9 8h1v1h-1zM22 8h1v1h-1zM9 23h1v1h-1zM22 23h1v1h-1zM8 25h1v1h-1zM23 25h1v1h-1z"/><path fill="#feeda1" d="M9 6h1v1h-1zM22 6h1v1h-1zM3 7h1v1h-1zM28 7h1v1h-1zM10 8h1v1h-1zM21 8h1v1h-1zM13 9h1v1h-1zM18 9h1v1h-1zM2 13h1v1h-1zM29 13h1v1h-1zM2 18h1v1h-1zM29 18h1v1h-1zM13 22h1v1h-1zM18 22h1v1h-1zM10 23h1v1h-1zM21 23h1v1h-1zM3 24h1v1h-1zM28 24h1v1h-1zM9 25h1v1h-1zM22 25h1v1h-1z"/><path fill="#fee695" d="M10 6h1v1h-1zM21 6h1v1h-1zM2 11h1v1h-1zM29 11h1v1h-1zM2 20h1v1h-1zM29 20h1v1h-1zM10 25h1v1h-1zM21 25h1v1h-1z"/><path fill="#fed481" d="M12 6h1v1h-1zM19 6h1v1h-1zM14 7h4v1h-4zM14 24h4v1h-4zM12 25h1v1h-1zM19 25h1v1h-1z"/><path fill="#fece7c" d="M13 6h1v1h-1zM18 6h1v1h-1zM13 25h1v1h-1zM18 25h1v1h-1z"/><path fill="#fec877" d="M15 6h2v1h-2zM1 13h1v1h-1zM30 13h1v1h-1zM1 18h1v1h-1zM30 18h1v1h-1zM15 25h2v1h-2z"/><path fill="#fee18d" d="M2 7h1v1h-1zM11 7h1v1h-1zM20 7h1v1h-1zM29 7h1v1h-1zM2 24h1v1h-1zM11 24h1v1h-1zM20 24h1v1h-1zM29 24h1v1h-1z"/><path fill="#fee797" d="M10 7h1v1h-1zM21 7h1v1h-1zM11 8h1v1h-1zM20 8h1v1h-1zM11 23h1v1h-1zM20 23h1v1h-1zM10 24h1v1h-1zM21 24h1v1h-1z"/><path fill="#fed683" d="M13 7h1v1h-1zM18 7h1v1h-1zM13 24h1v1h-1zM18 24h1v1h-1z"/><path fill="#fee08b" d="M2 8h1v1h-1zM29 8h1v1h-1zM2 9h1v1h-1zM29 9h1v1h-1zM2 22h1v1h-1zM29 22h1v1h-1zM2 23h1v1h-1zM29 23h1v1h-1z"/><path fill="#f7fcb2" d="M6 8h1v1h-1zM25 8h1v1h-1zM8 9h1v1h-1zM23 9h1v1h-1zM8 22h1v1h-1zM23 22h1v1h-1zM6 23h1v1h-1zM25 23h1v1h-1z"/><path fill="#fee593" d="M12 8h1v1h-1zM19 8h1v1h-1zM12 23h1v1h-1zM19 23h1v1h-1z"/><path fill="#fee491" d="M13 8h6v1h-6zM13 23h6v1h-6z"/><path fill="#fdc574" d="M1 9h1v1h-1zM30 9h1v1h-1zM1 11h1v1h-1zM30 11h1v1h-1zM1 20h1v1h-1zM30 20h1v1h-1zM1 22h1v1h-1zM30 22h1v1h-1z"/><path fill="#fff0a6" d="M11 9h1v1h-1zM20 9h1v1h-1zM2 14h1v1h-1zM29 14h1v1h-1zM2 17h1v1h-1zM29 17h1v1h-1zM11 22h1v1h-1zM20 22h1v1h-1z"/><path fill="#fdc372" d="M1 10h1v1h-1zM30 10h1v1h-1zM1 21h1v1h-1zM30 21h1v1h-1z"/><path fill="#f8fcb4" d="M4 10h1v1h-1zM9 10h1v1h-1zM22 10h1v1h-1zM27 10h1v1h-1zM10 12h1v1h-1zM21 12h1v1h-1zM10 13h1v1h-1zM21 13h1v1h-1zM10 18h1v1h-1zM21 18h1v1h-1zM10 19h1v1h-1zM21 19h1v1h-1zM4 21h1v1h-1zM9 21h1v1h-1zM22 21h1v1h-1zM27 21h1v1h-1z"/><path fill="#ecf7a1" d="M7 10h1v1h-1zM24 10h1v1h-1zM8 11h1v1h-1zM23 11h1v1h-1zM8 20h1v1h-1zM23 20h1v1h-1zM7 21h1v1h-1zM24 21h1v1h-1z"/><path fill="#e4f498" d="M6 11h1v1h-1zM25 11h1v1h-1zM4 14h1v1h-1zM27 14h1v1h-1zM4 17h1v1h-1zM27 17h1v1h-1zM6 20h1v1h-1zM25 20h1v1h-1z"/><path fill="#fb9d59" d="M0 12h1v1h-1zM31 12h1v1h-1zM0 13h1v1h-1zM31 13h1v1h-1zM0 14h1v1h-1zM31 14h1v1h-1zM0 15h1v1h-1zM31 15h1v1h-1zM0 16h1v1h-1zM31 16h1v1h-1zM0 17h1v1h-1zM31 17h1v1h-1zM0 18h1v1h-1zM31 18h1v1h-1zM0 19h1v1h-1zM31 19h1v1h-1z"/><path fill="#fdc776" d="M1 12h1v1h-1zM30 12h1v1h-1zM1 19h1v1h-1zM30 19h1v1h-1z"/><path fill="#edf8a3" d="M4 12h1v1h-1zM27 12h1v1h-1zM4 19h1v1h-1zM27 19h1v1h-1z"/><path fill="#dff299" d="M5 12h1v1h-1zM7 12h1v1h-1zM24 12h1v1h-1zM26 12h1v1h-1zM5 19h1v1h-1zM7 19h1v1h-1zM24 19h1v1h-1zM26 19h1v1h-1z"/><path fill="#d8ef9b" d="M6 12h1v1h-1zM25 12h1v1h-1zM7 14h1v1h-1zM24 14h1v1h-1zM7 15h1v1h-1zM24 15h1v1h-1zM7 16h1v1h-1zM24 16h1v1h-1zM7 17h1v1h-1zM24 17h1v1h-1zM6 19h1v1h-1zM25 19h1v1h-1z"/><path fill="#eaf79e" d="M8 12h1v1h-1zM23 12h1v1h-1zM8 19h1v1h-1zM23 19h1v1h-1z"/><path fill="#d6ee9b" d="M5 13h1v1h-1zM26 13h1v1h-1zM5 18h1v1h-1zM26 18h1v1h-1z"/><path fill="#d1ed9c" d="M6 13h1v1h-1zM25 13h1v1h-1zM6 18h1v1h-1zM25 18h1v1h-1z"/><path fill="#daf09a" d="M7 13h1v1h-1zM24 13h1v1h-1zM7 18h1v1h-1zM24 18h1v1h-1z"/><path fill="#e9f69d" d="M8 13h1v1h-1zM23 13h1v1h-1zM8 14h1v1h-1zM23 14h1v1h-1zM8 15h1v1h-1zM23 15h1v1h-1zM8 16h1v1h-1zM23 16h1v1h-1zM8 17h1v1h-1zM23 17h1v1h-1zM8 18h1v1h-1zM23 18h1v1h-1z"/><path fill="#f6fbb0" d="M3 14h1v1h-1zM28 14h1v1h-1zM3 17h1v1h-1zM28 17h1v1h-1z"/><path fill="#cdeb9d" d="M6 14h1v1h-1zM25 14h1v1h-1zM5 15h1v1h-1zM26 15h1v1h-1zM5 16h1v1h-1zM26 16h1v1h-1zM6 17h1v1h-1zM25 17h1v1h-1z"/><path fill="#e1f399" d="M4 15h1v1h-1zM27 15h1v1h-1zM4 16h1v1h-1zM27 16h1v1h-1z"/></svg><rect x="659.2" y="537.2" width="233.2" height="232.8" fill="none" stroke="#808070" stroke-width="1.4"/>
<defs><linearGradient id="cb" x1="0" y1="0" x2="0" y2="1"><stop offset="0.00" stop-color="#5e4fa2"/><stop offset="0.10" stop-color="#3387bc"/><stop offset="0.20" stop-color="#66c2a5"/><stop offset="0.30" stop-color="#aadca4"/><stop offset="0.40" stop-color="#e6f598"/><stop offset="0.50" stop-color="#ffffbe"/><stop offset="0.60" stop-color="#fee08b"/><stop offset="0.70" stop-color="#fdad60"/><stop offset="0.80" stop-color="#f46d43"/><stop offset="0.90" stop-color="#d43d4f"/><stop offset="1.00" stop-color="#9e0142"/></linearGradient></defs><rect x="914.6" y="77.0" width="19.8" height="669.0" fill="url(#cb)" stroke="#77776a" stroke-width="1.1"/>
<text transform="translate(191.05 37.30) scale(0.8903 1.0000)" style="font-family:'DejaVu Sans',sans-serif;font-size:49px">I<tspan font-size="44">nferred</tspan></text>
<text transform="translate(448.54 37.30) scale(0.8921 1.0000)" style="font-family:'DejaVu Sans',sans-serif;font-size:49px">H<tspan font-size="44">idden</tspan></text>
<text transform="translate(687.10 37.30) scale(0.8791 1.0000)" style="font-family:'DejaVu Sans',sans-serif;font-size:49px">R<tspan font-size="44">esidual</tspan></text>
<text transform="translate(97.35 326.20) scale(0.9269 0.9897)" style="font-family:'Liberation Serif',serif;font-size:44.6px;stroke:#fff;stroke-width:0.6px">2.5</text>
<text transform="translate(96.10 423.20) scale(0.9500 0.9897)" style="font-family:'Liberation Serif',serif;font-size:44.6px;stroke:#fff;stroke-width:0.6px">0.0</text>
<text transform="translate(95.13 520.90) scale(0.9365 0.9724)" style="font-family:'Liberation Serif',serif;font-size:44.6px;stroke:#fff;stroke-width:0.6px">2.5</text>
<text transform="translate(63.91 524.60) scale(1.1952 1.0000)" style="font-family:'Liberation Serif',serif;font-size:44.6px">−</text>
<text transform="translate(414.76 805.70) scale(0.9192 0.9897)" style="font-family:'Liberation Serif',serif;font-size:44.6px;stroke:#fff;stroke-width:0.6px">2.5</text>
<text transform="translate(382.99 809.40) scale(1.2048 1.0000)" style="font-family:'Liberation Serif',serif;font-size:44.6px">−</text>
<text transform="translate(495.91 805.70) scale(0.9462 0.9897)" style="font-family:'Liberation Serif',serif;font-size:44.6px;stroke:#fff;stroke-width:0.6px">0.0</text>
<text transform="translate(594.16 805.70) scale(0.9192 0.9897)" style="font-family:'Liberation Serif',serif;font-size:44.6px;stroke:#fff;stroke-width:0.6px">2.5</text>
<text transform="translate(4.57 418.81) scale(1.0890 1.1211)" style="font-family:'Liberation Serif',serif;font-size:43px;stroke:#fff;stroke-width:0.6px"><tspan font-style="italic">y</tspan>(<tspan font-style="italic">Z</tspan>)</text>
<text transform="translate(418.80 877.64) scale(1.1344 1.1289)" style="font-family:'Liberation Serif',serif;font-size:43px;stroke:#fff;stroke-width:0.6px"><tspan font-style="italic">x</tspan>(<tspan font-style="italic">R</tspan> − <tspan font-style="italic">R</tspan><tspan font-size="31" dy="7">0</tspan><tspan dy="-7">)</tspan></text>
<text transform="translate(937.12 91.40) scale(0.9423 0.9897)" style="font-family:'Liberation Serif',serif;font-size:44.6px;stroke:#fff;stroke-width:0.6px">0.6</text>
<text transform="translate(937.15 202.90) scale(0.9245 0.9897)" style="font-family:'Liberation Serif',serif;font-size:44.6px;stroke:#fff;stroke-width:0.6px">0.4</text>
<text transform="translate(937.08 314.40) scale(0.9608 0.9897)" style="font-family:'Liberation Serif',serif;font-size:44.6px;stroke:#fff;stroke-width:0.6px">0.2</text>
<text transform="translate(937.12 425.90) scale(0.9423 0.9897)" style="font-family:'Liberation Serif',serif;font-size:44.6px;stroke:#fff;stroke-width:0.6px">0.0</text>
<text transform="translate(968.99 537.40) scale(0.9549 0.9897)" style="font-family:'Liberation Serif',serif;font-size:44.6px;stroke:#fff;stroke-width:0.6px">0.2</text>
<text transform="translate(937.13 541.60) scale(1.2333 1.0000)" style="font-family:'Liberation Serif',serif;font-size:44.6px">−</text>
<text transform="translate(969.06 648.90) scale(0.9189 0.9897)" style="font-family:'Liberation Serif',serif;font-size:44.6px;stroke:#fff;stroke-width:0.6px">0.4</text>
<text transform="translate(937.13 653.10) scale(1.2333 1.0000)" style="font-family:'Liberation Serif',serif;font-size:44.6px">−</text>
<text transform="translate(969.03 760.40) scale(0.9365 0.9897)" style="font-family:'Liberation Serif',serif;font-size:44.6px;stroke:#fff;stroke-width:0.6px">0.6</text>
<text transform="translate(937.13 764.60) scale(1.2333 1.0000)" style="font-family:'Liberation Serif',serif;font-size:44.6px">−</text>
<text transform="translate(984.09 147.72) scale(1.0810 0.9827)" style="font-family:'Liberation Serif',serif;font-style:italic;font-size:59px;stroke:#fff;stroke-width:0.6px">j<tspan font-size="44" dy="10">x</tspan></text>
<text transform="translate(982.76 367.97) scale(0.9929 0.9069)" style="font-family:'Liberation Serif',serif;font-style:italic;font-size:59px;stroke:#fff;stroke-width:0.6px">j<tspan font-size="44" dy="10">y</tspan></text>
<text transform="translate(987.22 595.30) scale(1.0359 0.9231)" style="font-family:'Liberation Serif',serif;font-style:italic;font-size:59px;stroke:#fff;stroke-width:0.6px">j<tspan font-size="44" dy="10">z</tspan></text>
<line x1="152.5" x2="156" y1="312.0" y2="312.0" stroke="#444" stroke-width="1.2"/>
<line x1="152.5" x2="156" y1="409.0" y2="409.0" stroke="#444" stroke-width="1.2"/>
<line x1="152.5" x2="156" y1="506.0" y2="506.0" stroke="#444" stroke-width="1.2"/>
<line x1="427.0" x2="427.0" y1="770.0" y2="773.5" stroke="#444" stroke-width="1.2"/>
<line x1="524.2" x2="524.2" y1="770.0" y2="773.5" stroke="#444" stroke-width="1.2"/>
<line x1="621.4" x2="621.4" y1="770.0" y2="773.5" stroke="#444" stroke-width="1.2"/>
<line x1="934.4" x2="937.9" y1="77.0" y2="77.0" stroke="#444" stroke-width="1.2"/>
<line x1="934.4" x2="937.9" y1="188.5" y2="188.5" stroke="#444" stroke-width="1.2"/>
<line x1="934.4" x2="937.9" y1="300.0" y2="300.0" stroke="#444" stroke-width="1.2"/>
<line x1="934.4" x2="937.9" y1="411.5" y2="411.5" stroke="#444" stroke-width="1.2"/>
<line x1="934.4" x2="937.9" y1="523.0" y2="523.0" stroke="#444" stroke-width="1.2"/>
<line x1="934.4" x2="937.9" y1="634.5" y2="634.5" stroke="#444" stroke-width="1.2"/>
<line x1="934.4" x2="937.9" y1="746.0" y2="746.0" stroke="#444" stroke-width="1.2"/>
</svg></div></body></html>
